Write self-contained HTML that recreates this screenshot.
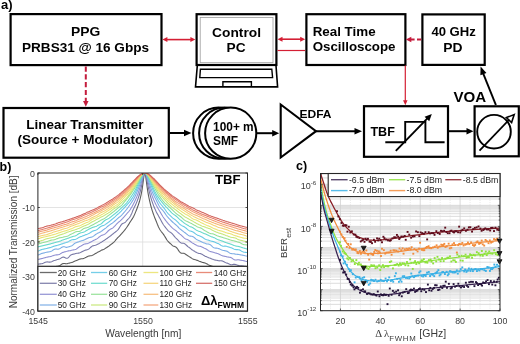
<!DOCTYPE html>
<html><head><meta charset="utf-8"><title>Figure</title>
<style>
html,body{margin:0;padding:0;background:#fff;}
svg{display:block;}
</style></head>
<body>
<svg width="520" height="344" viewBox="0 0 520 344" font-family="'Liberation Sans', Arial, Helvetica, sans-serif">
<defs>
<clipPath id="clipb"><rect x="37.9" y="173" width="209.6" height="138"/></clipPath>
<clipPath id="clipc"><rect x="320.5" y="173.5" width="179.5" height="137.2"/></clipPath>
</defs>
<rect width="520" height="344" fill="#fff"/>
<text x="1.1" y="9.3" font-size="13" font-weight="bold" text-anchor="start" fill="#000">a)</text>
<rect x="10.6" y="14.1" width="150.9" height="51" stroke="#000" stroke-width="2.2" fill="#fff"/>
<rect x="196.6" y="14.2" width="79.8" height="50.8" stroke="#000" stroke-width="2.2" fill="#fff"/>
<rect x="200.2" y="17.5" width="72.8" height="45.2" stroke="#9c9c9c" stroke-width="0.8" fill="#fff"/>
<path d="M197.3,65.6 L195.5,86.9 L277.6,86.9 L276.0,65.6" fill="none" stroke="#000" stroke-width="1.6"/>
<path d="M200.4,69.3 L271.8,69.3 L272.6,77.6 L199.8,77.6 Z" fill="none" stroke="#000" stroke-width="1.4"/>
<path d="M222.9,86.4 L222.9,81.8 L251.4,81.8 L251.4,86.4" fill="none" stroke="#000" stroke-width="1.4"/>
<rect x="306.4" y="14.2" width="99" height="50.8" stroke="#000" stroke-width="2.2" fill="#fff"/>
<rect x="422.4" y="14.4" width="62.3" height="50.5" stroke="#000" stroke-width="2.2" fill="#fff"/>
<line x1="166" y1="39.6" x2="192" y2="39.6" stroke="#d41f34" stroke-width="1.6"/>
<polygon points="162.4,39.6 167.4,37.1 167.4,42.1" fill="#d41f34" stroke="none" stroke-width="0"/>
<polygon points="195.4,39.6 190.4,42.1 190.4,37.1" fill="#d41f34" stroke="none" stroke-width="0"/>
<line x1="281" y1="39.2" x2="301" y2="39.2" stroke="#d41f34" stroke-width="1.6"/>
<polygon points="277.5,39.2 282.5,36.7 282.5,41.7" fill="#d41f34" stroke="none" stroke-width="0"/>
<polygon points="305.2,39.2 300.2,41.7 300.2,36.7" fill="#d41f34" stroke="none" stroke-width="0"/>
<line x1="277.5" y1="50.5" x2="305.2" y2="50.5" stroke="#d41f34" stroke-width="1.2"/>
<line x1="421.2" y1="39.5" x2="410" y2="39.5" stroke="#c41c3c" stroke-width="1.8" stroke-dasharray="4.2,2.4"/>
<polygon points="405.8,39.5 411.3,36.75 411.3,42.25" fill="#c41c3c" stroke="none" stroke-width="0"/>
<line x1="85.8" y1="66.5" x2="85.8" y2="102" stroke="#c41c3c" stroke-width="2" stroke-dasharray="5.2,2.6"/>
<polygon points="85.8,106.8 83.05,101 88.55,101" fill="#c41c3c" stroke="none" stroke-width="0"/>
<line x1="405.3" y1="65.5" x2="405.3" y2="101" stroke="#d41f34" stroke-width="1.2"/>
<polygon points="405.3,105.2 403.05,100.2 407.55,100.2" fill="#d41f34" stroke="none" stroke-width="0"/>
<rect x="3.5" y="108" width="165.3" height="49.7" stroke="#000" stroke-width="2.2" fill="#fff"/>
<line x1="169.8" y1="133" x2="185" y2="133" stroke="#000" stroke-width="2"/>
<polygon points="191.5,133 184,136.25 184,129.75" fill="#000" stroke="none" stroke-width="0"/>
<circle cx="218.7" cy="133.2" r="25.6" fill="#fff" stroke="#000" stroke-width="2"/>
<circle cx="224.7" cy="133.2" r="25.6" fill="#fff" stroke="#000" stroke-width="2"/>
<circle cx="230.7" cy="133.2" r="25.6" fill="#fff" stroke="#000" stroke-width="2"/>
<line x1="256.5" y1="133.2" x2="273" y2="133.2" stroke="#000" stroke-width="2"/>
<polygon points="279.2,133.2 272.2,136.45 272.2,129.95" fill="#000" stroke="none" stroke-width="0"/>
<path d="M280.7,104.5 L316,131.2 L280.7,157.5 Z" fill="#fff" stroke="#000" stroke-width="2.1" stroke-linejoin="miter"/>
<line x1="316" y1="131.2" x2="355" y2="131.2" stroke="#000" stroke-width="2"/>
<polygon points="362,131.2 354.5,134.45 354.5,127.95" fill="#000" stroke="none" stroke-width="0"/>
<rect x="364" y="106.2" width="84" height="50.6" stroke="#000" stroke-width="2.2" fill="#fff"/>
<path d="M385.3,142.2 L405.2,142.2 L405.2,121.9 L425.4,121.9 L425.4,142.2 L444.6,142.2" fill="none" stroke="#000" stroke-width="1.9"/>
<line x1="395.8" y1="150.9" x2="428.6" y2="117.2" stroke="#000" stroke-width="1.9"/>
<polygon points="431.8,113.9 429.26,121.19 424.59,116.66" fill="#000" stroke="none" stroke-width="0"/>
<line x1="448" y1="131.2" x2="467" y2="131.2" stroke="#000" stroke-width="2"/>
<polygon points="473.5,131.2 466.5,134.45 466.5,127.95" fill="#000" stroke="none" stroke-width="0"/>
<rect x="474.6" y="106.3" width="44.2" height="50" stroke="#000" stroke-width="2.2" fill="#fff"/>
<circle cx="494" cy="131.7" r="16.8" fill="none" stroke="#000" stroke-width="1.9"/>
<line x1="479.5" y1="150.6" x2="509.5" y2="119.3" stroke="#000" stroke-width="1.8"/>
<polygon points="514.2,114.6 511.6,122.6 506.4,117.6" fill="#fff" stroke="#000" stroke-width="1.6"/>
<text transform="translate(71.01,35.95) scale(1.0920,1)" font-size="12.7" font-weight="bold">PPG</text>
<text transform="translate(22.03,52.05) scale(1.0692,1)" font-size="12.7" font-weight="bold">PRBS31 @ 16 Gbps</text>
<text transform="translate(212.12,36.75) scale(1.0837,1)" font-size="12.7" font-weight="bold">Control</text>
<text transform="translate(226.62,52.25) scale(1.0813,1)" font-size="12.7" font-weight="bold">PC</text>
<text transform="translate(312.63,35.85) scale(1.0719,1)" font-size="12.5" font-weight="bold">Real Time</text>
<text transform="translate(312.63,51.45) scale(1.0671,1)" font-size="12.5" font-weight="bold">Oscilloscope</text>
<text transform="translate(431.4,36.15) scale(1.0476,1)" font-size="12.5" font-weight="bold">40 GHz</text>
<text transform="translate(443.3,51.95) scale(1.1000,1)" font-size="12.6" font-weight="bold">PD</text>
<text transform="translate(26.33,129.15) scale(1.0741,1)" font-size="12.5" font-weight="bold">Linear Transmitter</text>
<text transform="translate(17.52,143.95) scale(1.0823,1)" font-size="12.5" font-weight="bold">(Source + Modulator)</text>
<text transform="translate(213.1,131.3) scale(0.9974,1)" font-size="11.9" font-weight="bold">100+ m</text>
<text transform="translate(212.89,145.3) scale(1.0083,1)" font-size="11.9" font-weight="bold">SMF</text>
<text transform="translate(299.47,117.85) scale(1.0300,1)" font-size="11.7" font-weight="bold">EDFA</text>
<text transform="translate(370.4,135.75) scale(0.9760,1)" font-size="12.9" font-weight="bold">TBF</text>
<text transform="translate(453.5,102.25) scale(1.0633,1)" font-size="14.2" font-weight="bold">VOA</text>
<line x1="495.9" y1="105" x2="483.2" y2="73.5" stroke="#000" stroke-width="2"/>
<polygon points="480.6,66.6 486.46,72.94 480.37,75.23" fill="#000" stroke="none" stroke-width="0"/>
<text x="-0.5" y="170.5" font-size="12.5" font-weight="bold" text-anchor="start" fill="#000">b)</text>
<line x1="37.9" y1="207.5" x2="247.5" y2="207.5" stroke="#dcdcdc" stroke-width="0.8"/>
<line x1="37.9" y1="242" x2="247.5" y2="242" stroke="#dcdcdc" stroke-width="0.8"/>
<line x1="37.9" y1="276.5" x2="247.5" y2="276.5" stroke="#dcdcdc" stroke-width="0.8"/>
<line x1="142.7" y1="173" x2="142.7" y2="311" stroke="#dcdcdc" stroke-width="0.8"/>
<g fill="none" stroke-width="1.1" stroke-linejoin="round" clip-path="url(#clipb)">
<path d="M37.9,269.66 L38.42,269.55 L38.95,269.39 L39.47,269.19 L40,268.97 L40.52,268.75 L41.04,268.55 L41.57,268.38 L42.09,268.27 L42.62,268.23 L43.14,268.29 L43.66,268.42 L44.19,268.59 L44.71,268.76 L45.24,268.89 L45.76,268.94 L46.28,268.9 L46.81,268.76 L47.33,268.53 L47.86,268.24 L48.38,267.92 L48.9,267.59 L49.43,267.3 L49.95,267.07 L50.48,266.92 L51,266.85 L51.52,266.83 L52.05,266.85 L52.57,266.89 L53.1,266.93 L53.62,266.95 L54.14,266.93 L54.67,266.85 L55.19,266.74 L55.72,266.63 L56.24,266.51 L56.76,266.4 L57.29,266.29 L57.81,266.17 L58.34,266.05 L58.86,265.93 L59.38,265.76 L59.91,265.5 L60.43,265.16 L60.96,264.78 L61.48,264.39 L62,264.05 L62.53,263.78 L63.05,263.6 L63.58,263.51 L64.1,263.49 L64.62,263.54 L65.15,263.61 L65.67,263.68 L66.2,263.72 L66.72,263.7 L67.24,263.6 L67.77,263.46 L68.29,263.33 L68.82,263.21 L69.34,263.09 L69.86,262.96 L70.39,262.83 L70.91,262.7 L71.44,262.55 L71.96,262.37 L72.48,262.17 L73.01,261.93 L73.53,261.68 L74.06,261.43 L74.58,261.19 L75.1,260.97 L75.63,260.78 L76.15,260.61 L76.68,260.41 L77.2,260.2 L77.72,259.98 L78.25,259.75 L78.77,259.53 L79.3,259.33 L79.82,259.13 L80.34,258.98 L80.87,258.87 L81.39,258.8 L81.92,258.74 L82.44,258.69 L82.96,258.61 L83.49,258.49 L84.01,258.32 L84.54,258.1 L85.06,257.85 L85.58,257.58 L86.11,257.3 L86.63,257.01 L87.16,256.73 L87.68,256.47 L88.2,256.24 L88.73,256.05 L89.25,255.93 L89.78,255.86 L90.3,255.81 L90.82,255.76 L91.35,255.68 L91.87,255.55 L92.4,255.34 L92.92,255.08 L93.44,254.79 L93.97,254.48 L94.49,254.15 L95.02,253.81 L95.54,253.49 L96.06,253.18 L96.59,252.9 L97.11,252.62 L97.64,252.35 L98.16,252.08 L98.68,251.8 L99.21,251.52 L99.73,251.23 L100.26,250.94 L100.78,250.64 L101.3,250.35 L101.83,250.1 L102.35,249.88 L102.88,249.67 L103.4,249.45 L103.92,249.21 L104.45,248.94 L104.97,248.62 L105.5,248.28 L106.02,247.94 L106.54,247.61 L107.07,247.27 L107.59,246.92 L108.12,246.57 L108.64,246.21 L109.16,245.83 L109.69,245.44 L110.21,245.05 L110.74,244.66 L111.26,244.27 L111.78,243.87 L112.31,243.46 L112.83,243.04 L113.36,242.61 L113.88,242.13 L114.4,241.59 L114.93,240.99 L115.45,240.35 L115.98,239.71 L116.5,239.09 L117.02,238.5 L117.55,237.97 L118.07,237.45 L118.6,236.93 L119.12,236.39 L119.64,235.84 L120.17,235.28 L120.69,234.71 L121.22,234.13 L121.74,233.54 L122.26,232.95 L122.79,232.35 L123.31,231.74 L123.84,231.12 L124.36,230.49 L124.88,229.84 L125.41,229.17 L125.93,228.48 L126.46,227.76 L126.98,227 L127.5,226.22 L128.03,225.41 L128.55,224.59 L129.08,223.75 L129.6,222.9 L130.12,222.05 L130.65,221.22 L131.17,220.43 L131.7,219.66 L132.22,218.89 L132.74,218.05 L133.27,217.13 L133.79,216.13 L134.32,215.04 L134.84,213.88 L135.36,212.65 L135.89,211.38 L136.41,210.06 L136.94,208.7 L137.46,207.31 L137.98,205.87 L138.51,204.36 L139.03,202.75 L139.56,201.01 L140.08,199.1 L140.6,196.99 L141.13,194.61 L141.65,191.91 L141.66,191.89 L141.76,191.3 L141.87,190.7 L141.97,190.08 L142.08,189.45 L142.18,188.82 L142.18,188.8 L142.28,188.13 L142.39,187.44 L142.49,186.74 L142.6,186.02 L142.7,185.31 L142.7,185.28 L142.81,184.53 L142.91,183.76 L143.02,182.98 L143.12,182.19 L143.22,181.43 L143.23,181.4 L143.33,180.6 L143.44,179.8 L143.54,179.01 L143.65,178.23 L143.75,177.5 L143.75,177.47 L143.86,176.74 L143.96,176.04 L144.07,175.4 L144.17,174.8 L144.27,174.3 L144.28,174.28 L144.38,173.83 L144.49,173.48 L144.59,173.21 L144.7,173.05 L144.8,173 L144.8,173 L144.9,173.05 L145.01,173.21 L145.11,173.48 L145.22,173.84 L145.32,174.27 L145.32,174.29 L145.43,174.81 L145.53,175.41 L145.64,176.06 L145.74,176.76 L145.84,177.47 L145.85,177.5 L145.95,178.27 L146.06,179.05 L146.16,179.86 L146.27,180.66 L146.37,181.44 L146.37,181.48 L146.48,182.29 L146.58,183.09 L146.69,183.89 L146.79,184.67 L146.89,185.42 L146.9,185.44 L147,186.21 L147.11,186.95 L147.21,187.68 L147.32,188.4 L147.42,189.07 L147.42,189.1 L147.52,189.79 L147.63,190.46 L147.73,191.12 L147.84,191.76 L147.94,192.36 L147.94,192.39 L148.46,195.32 L148.99,197.99 L149.51,200.43 L150.04,202.69 L150.56,204.79 L151.08,206.74 L151.61,208.57 L152.13,210.29 L152.66,211.92 L153.18,213.46 L153.7,214.93 L154.23,216.33 L154.75,217.68 L155.28,218.98 L155.8,220.27 L156.32,221.57 L156.85,222.9 L157.37,224.25 L157.9,225.51 L158.42,226.71 L158.94,227.82 L159.47,228.82 L159.99,229.72 L160.52,230.53 L161.04,231.26 L161.56,231.93 L162.09,232.58 L162.61,233.24 L163.14,233.92 L163.66,234.65 L164.18,235.43 L164.71,236.27 L165.23,237.14 L165.76,238.03 L166.28,238.9 L166.8,239.73 L167.33,240.48 L167.85,241.14 L168.38,241.73 L168.9,242.27 L169.42,242.77 L169.95,243.25 L170.47,243.71 L171,244.17 L171.52,244.65 L172.04,245.15 L172.57,245.6 L173.09,245.93 L173.62,246.17 L174.14,246.34 L174.66,246.51 L175.19,246.72 L175.71,247 L176.24,247.38 L176.76,247.89 L177.28,248.54 L177.81,249.29 L178.33,250.09 L178.86,250.88 L179.38,251.61 L179.9,252.22 L180.43,252.68 L180.95,252.98 L181.48,253.15 L182,253.2 L182.52,253.2 L183.05,253.19 L183.57,253.23 L184.1,253.37 L184.62,253.63 L185.14,253.96 L185.67,254.31 L186.19,254.68 L186.72,255.04 L187.24,255.4 L187.76,255.75 L188.29,256.07 L188.81,256.38 L189.34,256.68 L189.86,257 L190.38,257.34 L190.91,257.69 L191.43,258.03 L191.96,258.36 L192.48,258.66 L193,258.93 L193.53,259.17 L194.05,259.36 L194.58,259.53 L195.1,259.68 L195.62,259.82 L196.15,259.98 L196.67,260.16 L197.2,260.37 L197.72,260.59 L198.24,260.8 L198.77,261.01 L199.29,261.22 L199.82,261.42 L200.34,261.62 L200.86,261.82 L201.39,262.02 L201.91,262.21 L202.44,262.37 L202.96,262.51 L203.48,262.64 L204.01,262.77 L204.53,262.9 L205.06,263.05 L205.58,263.22 L206.1,263.43 L206.63,263.69 L207.15,263.99 L207.68,264.31 L208.2,264.64 L208.72,264.93 L209.25,265.18 L209.77,265.37 L210.3,265.54 L210.82,265.72 L211.34,265.92 L211.87,266.11 L212.39,266.31 L212.92,266.49 L213.44,266.67 L213.96,266.82 L214.49,266.97 L215.01,267.11 L215.54,267.25 L216.06,267.39 L216.58,267.53 L217.11,267.67 L217.63,267.8 L218.16,267.93 L218.68,268.07 L219.2,268.23 L219.73,268.39 L220.25,268.56 L220.78,268.73 L221.3,268.89 L221.82,269.04 L222.35,269.17 L222.87,269.26 L223.4,269.32 L223.92,269.34 L224.44,269.34 L224.97,269.34 L225.49,269.36 L226.02,269.4 L226.54,269.49 L227.06,269.61 L227.59,269.77 L228.11,269.95 L228.64,270.14 L229.16,270.33 L229.68,270.5 L230.21,270.65 L230.73,270.77 L231.26,270.82 L231.78,270.8 L232.3,270.7 L232.83,270.58 L233.35,270.45 L233.88,270.36 L234.4,270.32 L234.92,270.37 L235.45,270.53 L235.97,270.81 L236.5,271.19 L237.02,271.63 L237.54,272.06 L238.07,272.44 L238.59,272.72 L239.12,272.88 L239.64,272.94 L240.16,272.97 L240.69,272.97 L241.21,272.95 L241.74,272.94 L242.26,272.94 L242.78,272.96 L243.31,273.02 L243.83,273.09 L244.36,273.15 L244.88,273.21 L245.4,273.27 L245.93,273.32 L246.45,273.38 L246.98,273.44 L247.5,273.5" stroke="#5c5c5c"/>
<path d="M37.9,264.17 L38.42,264.08 L38.95,264.01 L39.47,263.96 L40,263.91 L40.52,263.86 L41.04,263.8 L41.57,263.72 L42.09,263.63 L42.62,263.49 L43.14,263.3 L43.66,263.07 L44.19,262.82 L44.71,262.57 L45.24,262.34 L45.76,262.14 L46.28,262 L46.81,261.92 L47.33,261.92 L47.86,261.96 L48.38,262.03 L48.9,262.11 L49.43,262.15 L49.95,262.14 L50.48,262.05 L51,261.91 L51.52,261.72 L52.05,261.49 L52.57,261.25 L53.1,261.01 L53.62,260.79 L54.14,260.59 L54.67,260.44 L55.19,260.3 L55.72,260.14 L56.24,259.97 L56.76,259.79 L57.29,259.6 L57.81,259.43 L58.34,259.26 L58.86,259.11 L59.38,258.94 L59.91,258.71 L60.43,258.43 L60.96,258.12 L61.48,257.82 L62,257.53 L62.53,257.29 L63.05,257.11 L63.58,257.05 L64.1,257.16 L64.62,257.39 L65.15,257.69 L65.67,257.99 L66.2,258.22 L66.72,258.32 L67.24,258.25 L67.77,258.01 L68.29,257.6 L68.82,257.08 L69.34,256.49 L69.86,255.9 L70.39,255.37 L70.91,254.96 L71.44,254.7 L71.96,254.54 L72.48,254.4 L73.01,254.27 L73.53,254.15 L74.06,254.03 L74.58,253.9 L75.1,253.75 L75.63,253.58 L76.15,253.42 L76.68,253.32 L77.2,253.26 L77.72,253.22 L78.25,253.17 L78.77,253.11 L79.3,252.99 L79.82,252.82 L80.34,252.6 L80.87,252.35 L81.39,252.07 L81.92,251.77 L82.44,251.47 L82.96,251.19 L83.49,250.92 L84.01,250.69 L84.54,250.48 L85.06,250.31 L85.58,250.15 L86.11,250 L86.63,249.86 L87.16,249.69 L87.68,249.51 L88.2,249.28 L88.73,249 L89.25,248.62 L89.78,248.19 L90.3,247.71 L90.82,247.23 L91.35,246.78 L91.87,246.4 L92.4,246.09 L92.92,245.86 L93.44,245.68 L93.97,245.54 L94.49,245.43 L95.02,245.3 L95.54,245.16 L96.06,244.96 L96.59,244.71 L97.11,244.43 L97.64,244.16 L98.16,243.91 L98.68,243.65 L99.21,243.4 L99.73,243.13 L100.26,242.84 L100.78,242.54 L101.3,242.22 L101.83,241.9 L102.35,241.57 L102.88,241.24 L103.4,240.91 L103.92,240.57 L104.45,240.23 L104.97,239.88 L105.5,239.53 L106.02,239.17 L106.54,238.8 L107.07,238.43 L107.59,238.06 L108.12,237.67 L108.64,237.29 L109.16,236.9 L109.69,236.51 L110.21,236.1 L110.74,235.7 L111.26,235.28 L111.78,234.86 L112.31,234.43 L112.83,234 L113.36,233.56 L113.88,233.13 L114.4,232.73 L114.93,232.33 L115.45,231.94 L115.98,231.54 L116.5,231.13 L117.02,230.68 L117.55,230.2 L118.07,229.63 L118.6,228.94 L119.12,228.15 L119.64,227.3 L120.17,226.44 L120.69,225.62 L121.22,224.88 L121.74,224.25 L122.26,223.75 L122.79,223.4 L123.31,223.16 L123.84,222.97 L124.36,222.77 L124.88,222.49 L125.41,222.08 L125.93,221.5 L126.46,220.85 L126.98,220.26 L127.5,219.7 L128.03,219.16 L128.55,218.6 L129.08,217.99 L129.6,217.32 L130.12,216.55 L130.65,215.66 L131.17,214.61 L131.7,213.43 L132.22,212.17 L132.74,210.82 L133.27,209.56 L133.79,208.4 L134.32,207.33 L134.84,206.28 L135.36,205.18 L135.89,204.04 L136.41,202.85 L136.94,201.59 L137.46,200.26 L137.98,198.85 L138.51,197.35 L139.03,195.72 L139.56,193.97 L140.08,192.07 L140.6,190.01 L141.13,187.77 L141.65,185.35 L141.66,185.33 L141.76,184.82 L141.87,184.31 L141.97,183.79 L142.08,183.27 L142.18,182.77 L142.18,182.75 L142.28,182.22 L142.39,181.69 L142.49,181.15 L142.6,180.62 L142.7,180.1 L142.7,180.08 L142.81,179.55 L142.91,179.02 L143.02,178.5 L143.12,177.98 L143.22,177.5 L143.23,177.48 L143.33,176.99 L143.44,176.51 L143.54,176.05 L143.65,175.61 L143.75,175.21 L143.75,175.19 L143.86,174.81 L143.96,174.45 L144.07,174.12 L144.17,173.84 L144.27,173.59 L144.28,173.59 L144.38,173.38 L144.49,173.21 L144.59,173.1 L144.7,173.02 L144.8,173 L144.8,173 L144.9,173.02 L145.01,173.1 L145.11,173.22 L145.22,173.38 L145.32,173.58 L145.32,173.59 L145.43,173.84 L145.53,174.13 L145.64,174.46 L145.74,174.82 L145.84,175.19 L145.85,175.21 L145.95,175.63 L146.06,176.07 L146.16,176.53 L146.27,177.02 L146.37,177.5 L146.37,177.52 L146.48,178.03 L146.58,178.55 L146.69,179.08 L146.79,179.62 L146.89,180.14 L146.9,180.16 L147,180.7 L147.11,181.25 L147.21,181.79 L147.32,182.34 L147.42,182.86 L147.42,182.88 L147.52,183.42 L147.63,183.95 L147.73,184.48 L147.84,185.01 L147.94,185.51 L147.94,185.53 L148.46,188.03 L148.99,190.39 L149.51,192.59 L150.04,194.64 L150.56,196.56 L151.08,198.36 L151.61,200.05 L152.13,201.64 L152.66,203.15 L153.18,204.57 L153.7,205.92 L154.23,207.21 L154.75,208.45 L155.28,209.65 L155.8,210.81 L156.32,211.89 L156.85,212.91 L157.37,213.88 L157.9,214.83 L158.42,215.76 L158.94,216.69 L159.47,217.61 L159.99,218.54 L160.52,219.51 L161.04,220.49 L161.56,221.48 L162.09,222.44 L162.61,223.36 L163.14,224.22 L163.66,225 L164.18,225.73 L164.71,226.44 L165.23,227.14 L165.76,227.81 L166.28,228.47 L166.8,229.11 L167.33,229.75 L167.85,230.37 L168.38,230.93 L168.9,231.39 L169.42,231.76 L169.95,232.09 L170.47,232.4 L171,232.74 L171.52,233.14 L172.04,233.63 L172.57,234.18 L173.09,234.77 L173.62,235.4 L174.14,236.05 L174.66,236.68 L175.19,237.28 L175.71,237.84 L176.24,238.33 L176.76,238.81 L177.28,239.34 L177.81,239.92 L178.33,240.51 L178.86,241.09 L179.38,241.65 L179.9,242.15 L180.43,242.58 L180.95,242.9 L181.48,243.09 L182,243.17 L182.52,243.19 L183.05,243.21 L183.57,243.27 L184.1,243.43 L184.62,243.71 L185.14,244.09 L185.67,244.53 L186.19,245.01 L186.72,245.52 L187.24,246.01 L187.76,246.48 L188.29,246.89 L188.81,247.24 L189.34,247.58 L189.86,247.97 L190.38,248.4 L190.91,248.85 L191.43,249.29 L191.96,249.71 L192.48,250.08 L193,250.39 L193.53,250.68 L194.05,251 L194.58,251.32 L195.1,251.66 L195.62,251.98 L196.15,252.3 L196.67,252.6 L197.2,252.86 L197.72,253.09 L198.24,253.25 L198.77,253.36 L199.29,253.44 L199.82,253.53 L200.34,253.63 L200.86,253.78 L201.39,253.98 L201.91,254.23 L202.44,254.53 L202.96,254.85 L203.48,255.2 L204.01,255.54 L204.53,255.86 L205.06,256.14 L205.58,256.38 L206.1,256.59 L206.63,256.81 L207.15,257.04 L207.68,257.26 L208.2,257.49 L208.72,257.71 L209.25,257.91 L209.77,258.11 L210.3,258.31 L210.82,258.51 L211.34,258.72 L211.87,258.93 L212.39,259.14 L212.92,259.34 L213.44,259.54 L213.96,259.72 L214.49,259.88 L215.01,260 L215.54,260.1 L216.06,260.19 L216.58,260.27 L217.11,260.36 L217.63,260.48 L218.16,260.63 L218.68,260.75 L219.2,260.81 L219.73,260.83 L220.25,260.81 L220.78,260.79 L221.3,260.79 L221.82,260.85 L222.35,260.96 L222.87,261.14 L223.4,261.39 L223.92,261.67 L224.44,261.98 L224.97,262.29 L225.49,262.57 L226.02,262.8 L226.54,262.98 L227.06,263.13 L227.59,263.33 L228.11,263.56 L228.64,263.8 L229.16,264.04 L229.68,264.27 L230.21,264.46 L230.73,264.61 L231.26,264.69 L231.78,264.68 L232.3,264.62 L232.83,264.51 L233.35,264.4 L233.88,264.33 L234.4,264.32 L234.92,264.4 L235.45,264.53 L235.97,264.68 L236.5,264.85 L237.02,265.03 L237.54,265.21 L238.07,265.37 L238.59,265.52 L239.12,265.64 L239.64,265.74 L240.16,265.8 L240.69,265.83 L241.21,265.86 L241.74,265.88 L242.26,265.91 L242.78,265.96 L243.31,266.05 L243.83,266.14 L244.36,266.22 L244.88,266.29 L245.4,266.35 L245.93,266.41 L246.45,266.47 L246.98,266.55 L247.5,266.63" stroke="#7979a6"/>
<path d="M37.9,259.43 L38.42,259.32 L38.95,259.2 L39.47,259.09 L40,258.98 L40.52,258.86 L41.04,258.75 L41.57,258.63 L42.09,258.51 L42.62,258.38 L43.14,258.24 L43.66,258.08 L44.19,257.92 L44.71,257.76 L45.24,257.6 L45.76,257.45 L46.28,257.32 L46.81,257.2 L47.33,257.09 L47.86,257 L48.38,256.91 L48.9,256.82 L49.43,256.73 L49.95,256.62 L50.48,256.49 L51,256.35 L51.52,256.19 L52.05,256.02 L52.57,255.84 L53.1,255.67 L53.62,255.49 L54.14,255.33 L54.67,255.18 L55.19,255.06 L55.72,254.97 L56.24,254.92 L56.76,254.89 L57.29,254.85 L57.81,254.79 L58.34,254.71 L58.86,254.58 L59.38,254.39 L59.91,254.13 L60.43,253.81 L60.96,253.47 L61.48,253.13 L62,252.81 L62.53,252.54 L63.05,252.35 L63.58,252.19 L64.1,252.04 L64.62,251.9 L65.15,251.76 L65.67,251.63 L66.2,251.48 L66.72,251.33 L67.24,251.16 L67.77,251.01 L68.29,250.9 L68.82,250.83 L69.34,250.76 L69.86,250.7 L70.39,250.62 L70.91,250.5 L71.44,250.34 L71.96,250.18 L72.48,250.06 L73.01,249.96 L73.53,249.88 L74.06,249.8 L74.58,249.7 L75.1,249.57 L75.63,249.4 L76.15,249.15 L76.68,248.83 L77.2,248.44 L77.72,248.01 L78.25,247.58 L78.77,247.19 L79.3,246.85 L79.82,246.6 L80.34,246.36 L80.87,246.09 L81.39,245.78 L81.92,245.45 L82.44,245.12 L82.96,244.81 L83.49,244.52 L84.01,244.27 L84.54,244.08 L85.06,243.95 L85.58,243.87 L86.11,243.81 L86.63,243.75 L87.16,243.66 L87.68,243.52 L88.2,243.3 L88.73,243.05 L89.25,242.79 L89.78,242.51 L90.3,242.23 L90.82,241.95 L91.35,241.67 L91.87,241.39 L92.4,241.12 L92.92,240.85 L93.44,240.59 L93.97,240.32 L94.49,240.05 L95.02,239.78 L95.54,239.5 L96.06,239.22 L96.59,238.93 L97.11,238.61 L97.64,238.25 L98.16,237.85 L98.68,237.43 L99.21,237 L99.73,236.59 L100.26,236.21 L100.78,235.87 L101.3,235.58 L101.83,235.34 L102.35,235.14 L102.88,234.96 L103.4,234.78 L103.92,234.57 L104.45,234.31 L104.97,233.99 L105.5,233.6 L106.02,233.14 L106.54,232.62 L107.07,232.07 L107.59,231.51 L108.12,230.98 L108.64,230.49 L109.16,230.07 L109.69,229.7 L110.21,229.38 L110.74,229.08 L111.26,228.8 L111.78,228.51 L112.31,228.2 L112.83,227.84 L113.36,227.44 L113.88,226.98 L114.4,226.46 L114.93,225.91 L115.45,225.34 L115.98,224.75 L116.5,224.18 L117.02,223.64 L117.55,223.13 L118.07,222.65 L118.6,222.2 L119.12,221.76 L119.64,221.33 L120.17,220.89 L120.69,220.43 L121.22,219.94 L121.74,219.4 L122.26,218.84 L122.79,218.29 L123.31,217.72 L123.84,217.15 L124.36,216.58 L124.88,215.98 L125.41,215.37 L125.93,214.73 L126.46,214.1 L126.98,213.5 L127.5,212.92 L128.03,212.34 L128.55,211.75 L129.08,211.12 L129.6,210.44 L130.12,209.7 L130.65,208.9 L131.17,208.05 L131.7,207.15 L132.22,206.21 L132.74,205.21 L133.27,204.21 L133.79,203.2 L134.32,202.18 L134.84,201.13 L135.36,200.02 L135.89,198.87 L136.41,197.66 L136.94,196.4 L137.46,195.08 L137.98,193.69 L138.51,192.22 L139.03,190.66 L139.56,189 L140.08,187.24 L140.6,185.38 L141.13,183.44 L141.65,181.44 L141.66,181.43 L141.76,181.02 L141.87,180.62 L141.97,180.22 L142.08,179.82 L142.18,179.44 L142.18,179.42 L142.28,179.02 L142.39,178.63 L142.49,178.24 L142.6,177.86 L142.7,177.49 L142.7,177.48 L142.81,177.11 L142.91,176.74 L143.02,176.39 L143.12,176.05 L143.22,175.73 L143.23,175.72 L143.33,175.4 L143.44,175.09 L143.54,174.81 L143.65,174.53 L143.75,174.29 L143.75,174.28 L143.86,174.05 L143.96,173.84 L144.07,173.64 L144.17,173.48 L144.27,173.34 L144.28,173.33 L144.38,173.21 L144.49,173.12 L144.59,173.05 L144.7,173.01 L144.8,173 L144.8,173 L144.9,173.01 L145.01,173.05 L145.11,173.12 L145.22,173.22 L145.32,173.33 L145.32,173.33 L145.43,173.48 L145.53,173.65 L145.64,173.84 L145.74,174.05 L145.84,174.28 L145.85,174.29 L145.95,174.54 L146.06,174.82 L146.16,175.11 L146.27,175.41 L146.37,175.72 L146.37,175.74 L146.48,176.07 L146.58,176.42 L146.69,176.77 L146.79,177.14 L146.89,177.5 L146.9,177.52 L147,177.9 L147.11,178.29 L147.21,178.68 L147.32,179.08 L147.42,179.47 L147.42,179.48 L147.52,179.89 L147.63,180.3 L147.73,180.71 L147.84,181.12 L147.94,181.51 L147.94,181.53 L148.46,183.56 L148.99,185.56 L149.51,187.49 L150.04,189.33 L150.56,191.09 L151.08,192.76 L151.61,194.33 L152.13,195.82 L152.66,197.22 L153.18,198.53 L153.7,199.78 L154.23,200.97 L154.75,202.12 L155.28,203.24 L155.8,204.33 L156.32,205.36 L156.85,206.33 L157.37,207.25 L157.9,208.17 L158.42,209.06 L158.94,209.95 L159.47,210.83 L159.99,211.72 L160.52,212.62 L161.04,213.54 L161.56,214.45 L162.09,215.34 L162.61,216.19 L163.14,217 L163.66,217.75 L164.18,218.47 L164.71,219.18 L165.23,219.88 L165.76,220.57 L166.28,221.25 L166.8,221.91 L167.33,222.56 L167.85,223.17 L168.38,223.77 L168.9,224.36 L169.42,224.93 L169.95,225.49 L170.47,226.05 L171,226.59 L171.52,227.12 L172.04,227.65 L172.57,228.14 L173.09,228.58 L173.62,228.98 L174.14,229.36 L174.66,229.72 L175.19,230.1 L175.71,230.5 L176.24,230.94 L176.76,231.39 L177.28,231.85 L177.81,232.31 L178.33,232.77 L178.86,233.22 L179.38,233.66 L179.9,234.09 L180.43,234.5 L180.95,234.93 L181.48,235.4 L182,235.91 L182.52,236.44 L183.05,236.96 L183.57,237.45 L184.1,237.9 L184.62,238.29 L185.14,238.62 L185.67,238.9 L186.19,239.15 L186.72,239.36 L187.24,239.58 L187.76,239.8 L188.29,240.06 L188.81,240.36 L189.34,240.7 L189.86,241.07 L190.38,241.45 L190.91,241.84 L191.43,242.23 L191.96,242.61 L192.48,242.95 L193,243.26 L193.53,243.56 L194.05,243.86 L194.58,244.17 L195.1,244.48 L195.62,244.78 L196.15,245.08 L196.67,245.37 L197.2,245.64 L197.72,245.87 L198.24,246.03 L198.77,246.12 L199.29,246.19 L199.82,246.25 L200.34,246.34 L200.86,246.48 L201.39,246.69 L201.91,246.94 L202.44,247.2 L202.96,247.47 L203.48,247.75 L204.01,248.03 L204.53,248.29 L205.06,248.54 L205.58,248.78 L206.1,249.03 L206.63,249.34 L207.15,249.69 L207.68,250.05 L208.2,250.42 L208.72,250.76 L209.25,251.05 L209.77,251.29 L210.3,251.48 L210.82,251.64 L211.34,251.78 L211.87,251.9 L212.39,252.03 L212.92,252.16 L213.44,252.31 L213.96,252.49 L214.49,252.67 L215.01,252.84 L215.54,252.99 L216.06,253.13 L216.58,253.28 L217.11,253.43 L217.63,253.58 L218.16,253.76 L218.68,253.96 L219.2,254.19 L219.73,254.46 L220.25,254.75 L220.78,255.03 L221.3,255.29 L221.82,255.52 L222.35,255.71 L222.87,255.87 L223.4,256 L223.92,256.12 L224.44,256.23 L224.97,256.34 L225.49,256.46 L226.02,256.59 L226.54,256.73 L227.06,256.87 L227.59,256.98 L228.11,257.07 L228.64,257.14 L229.16,257.22 L229.68,257.3 L230.21,257.4 L230.73,257.53 L231.26,257.72 L231.78,258 L232.3,258.34 L232.83,258.72 L233.35,259.1 L233.88,259.44 L234.4,259.71 L234.92,259.89 L235.45,259.99 L235.97,260.01 L236.5,259.96 L237.02,259.89 L237.54,259.82 L238.07,259.77 L238.59,259.78 L239.12,259.87 L239.64,259.99 L240.16,260.09 L240.69,260.18 L241.21,260.27 L241.74,260.35 L242.26,260.44 L242.78,260.53 L243.31,260.65 L243.83,260.77 L244.36,260.9 L244.88,261.03 L245.4,261.17 L245.93,261.31 L246.45,261.44 L246.98,261.57 L247.5,261.69" stroke="#8f8fd2"/>
<path d="M37.9,255 L38.42,254.86 L38.95,254.66 L39.47,254.44 L40,254.19 L40.52,253.95 L41.04,253.72 L41.57,253.53 L42.09,253.37 L42.62,253.25 L43.14,253.12 L43.66,252.99 L44.19,252.85 L44.71,252.72 L45.24,252.59 L45.76,252.45 L46.28,252.32 L46.81,252.2 L47.33,252.1 L47.86,252.02 L48.38,251.95 L48.9,251.88 L49.43,251.8 L49.95,251.7 L50.48,251.57 L51,251.39 L51.52,251.11 L52.05,250.77 L52.57,250.39 L53.1,250.02 L53.62,249.67 L54.14,249.39 L54.67,249.2 L55.19,249.09 L55.72,249.05 L56.24,249.07 L56.76,249.12 L57.29,249.16 L57.81,249.18 L58.34,249.13 L58.86,249.02 L59.38,248.82 L59.91,248.56 L60.43,248.25 L60.96,247.9 L61.48,247.56 L62,247.24 L62.53,246.97 L63.05,246.77 L63.58,246.67 L64.1,246.71 L64.62,246.84 L65.15,247.03 L65.67,247.22 L66.2,247.35 L66.72,247.38 L67.24,247.27 L67.77,247.1 L68.29,246.93 L68.82,246.76 L69.34,246.6 L69.86,246.43 L70.39,246.26 L70.91,246.09 L71.44,245.9 L71.96,245.66 L72.48,245.31 L73.01,244.88 L73.53,244.4 L74.06,243.93 L74.58,243.49 L75.1,243.13 L75.63,242.87 L76.15,242.68 L76.68,242.49 L77.2,242.31 L77.72,242.13 L78.25,241.95 L78.77,241.76 L79.3,241.57 L79.82,241.36 L80.34,241.16 L80.87,240.98 L81.39,240.83 L81.92,240.69 L82.44,240.55 L82.96,240.39 L83.49,240.21 L84.01,239.99 L84.54,239.76 L85.06,239.51 L85.58,239.25 L86.11,238.99 L86.63,238.73 L87.16,238.46 L87.68,238.21 L88.2,237.95 L88.73,237.73 L89.25,237.57 L89.78,237.45 L90.3,237.36 L90.82,237.26 L91.35,237.13 L91.87,236.95 L92.4,236.72 L92.92,236.42 L93.44,236.09 L93.97,235.72 L94.49,235.33 L95.02,234.94 L95.54,234.56 L96.06,234.21 L96.59,233.9 L97.11,233.61 L97.64,233.34 L98.16,233.07 L98.68,232.8 L99.21,232.53 L99.73,232.25 L100.26,231.95 L100.78,231.65 L101.3,231.31 L101.83,230.95 L102.35,230.56 L102.88,230.16 L103.4,229.76 L103.92,229.36 L104.45,228.98 L104.97,228.62 L105.5,228.25 L106.02,227.84 L106.54,227.4 L107.07,226.94 L107.59,226.48 L108.12,226.03 L108.64,225.6 L109.16,225.2 L109.69,224.83 L110.21,224.48 L110.74,224.14 L111.26,223.81 L111.78,223.48 L112.31,223.13 L112.83,222.75 L113.36,222.35 L113.88,221.91 L114.4,221.46 L114.93,221 L115.45,220.53 L115.98,220.04 L116.5,219.56 L117.02,219.08 L117.55,218.6 L118.07,218.14 L118.6,217.71 L119.12,217.29 L119.64,216.88 L120.17,216.46 L120.69,216.02 L121.22,215.55 L121.74,215.03 L122.26,214.48 L122.79,213.91 L123.31,213.33 L123.84,212.73 L124.36,212.12 L124.88,211.5 L125.41,210.88 L125.93,210.26 L126.46,209.62 L126.98,208.94 L127.5,208.24 L128.03,207.52 L128.55,206.78 L129.08,206.03 L129.6,205.28 L130.12,204.53 L130.65,203.77 L131.17,203 L131.7,202.22 L132.22,201.42 L132.74,200.58 L133.27,199.71 L133.79,198.79 L134.32,197.82 L134.84,196.79 L135.36,195.7 L135.89,194.56 L136.41,193.36 L136.94,192.13 L137.46,190.86 L137.98,189.56 L138.51,188.2 L139.03,186.8 L139.56,185.34 L140.08,183.83 L140.6,182.27 L141.13,180.67 L141.65,179.07 L141.66,179.06 L141.76,178.74 L141.87,178.43 L141.97,178.12 L142.08,177.81 L142.18,177.52 L142.18,177.51 L142.28,177.21 L142.39,176.91 L142.49,176.63 L142.6,176.34 L142.7,176.08 L142.7,176.07 L142.81,175.8 L142.91,175.54 L143.02,175.29 L143.12,175.05 L143.22,174.82 L143.23,174.82 L143.33,174.6 L143.44,174.39 L143.54,174.19 L143.65,174.01 L143.75,173.84 L143.75,173.84 L143.86,173.68 L143.96,173.54 L144.07,173.42 L144.17,173.31 L144.27,173.22 L144.28,173.21 L144.38,173.14 L144.49,173.08 L144.59,173.03 L144.7,173.01 L144.8,173 L144.8,173 L144.9,173.01 L145.01,173.03 L145.11,173.08 L145.22,173.14 L145.32,173.21 L145.32,173.21 L145.43,173.31 L145.53,173.42 L145.64,173.54 L145.74,173.68 L145.84,173.83 L145.85,173.84 L145.95,174 L146.06,174.19 L146.16,174.38 L146.27,174.59 L146.37,174.8 L146.37,174.81 L146.48,175.04 L146.58,175.28 L146.69,175.53 L146.79,175.78 L146.89,176.04 L146.9,176.05 L147,176.32 L147.11,176.61 L147.21,176.89 L147.32,177.19 L147.42,177.48 L147.42,177.49 L147.52,177.79 L147.63,178.1 L147.73,178.41 L147.84,178.73 L147.94,179.04 L147.94,179.05 L148.46,180.67 L148.99,182.32 L149.51,183.98 L150.04,185.61 L150.56,187.19 L151.08,188.7 L151.61,190.14 L152.13,191.5 L152.66,192.78 L153.18,193.97 L153.7,195.1 L154.23,196.17 L154.75,197.21 L155.28,198.25 L155.8,199.29 L156.32,200.34 L156.85,201.42 L157.37,202.51 L157.9,203.59 L158.42,204.63 L158.94,205.59 L159.47,206.47 L159.99,207.25 L160.52,207.94 L161.04,208.55 L161.56,209.1 L162.09,209.64 L162.61,210.2 L163.14,210.79 L163.66,211.45 L164.18,212.16 L164.71,212.9 L165.23,213.67 L165.76,214.44 L166.28,215.21 L166.8,215.93 L167.33,216.61 L167.85,217.24 L168.38,217.81 L168.9,218.37 L169.42,218.92 L169.95,219.45 L170.47,219.97 L171,220.48 L171.52,220.99 L172.04,221.5 L172.57,222.01 L173.09,222.49 L173.62,222.95 L174.14,223.41 L174.66,223.85 L175.19,224.29 L175.71,224.74 L176.24,225.19 L176.76,225.66 L177.28,226.16 L177.81,226.7 L178.33,227.25 L178.86,227.79 L179.38,228.3 L179.9,228.78 L180.43,229.21 L180.95,229.61 L181.48,230.03 L182,230.45 L182.52,230.86 L183.05,231.28 L183.57,231.68 L184.1,232.07 L184.62,232.44 L185.14,232.81 L185.67,233.21 L186.19,233.64 L186.72,234.07 L187.24,234.49 L187.76,234.9 L188.29,235.28 L188.81,235.63 L189.34,235.9 L189.86,236.06 L190.38,236.14 L190.91,236.17 L191.43,236.2 L191.96,236.27 L192.48,236.41 L193,236.65 L193.53,236.98 L194.05,237.37 L194.58,237.8 L195.1,238.25 L195.62,238.7 L196.15,239.12 L196.67,239.5 L197.2,239.8 L197.72,240.07 L198.24,240.34 L198.77,240.6 L199.29,240.85 L199.82,241.1 L200.34,241.35 L200.86,241.6 L201.39,241.85 L201.91,242.09 L202.44,242.31 L202.96,242.52 L203.48,242.71 L204.01,242.9 L204.53,243.1 L205.06,243.31 L205.58,243.53 L206.1,243.73 L206.63,243.86 L207.15,243.94 L207.68,243.99 L208.2,244.04 L208.72,244.11 L209.25,244.23 L209.77,244.41 L210.3,244.69 L210.82,245.09 L211.34,245.57 L211.87,246.1 L212.39,246.63 L212.92,247.11 L213.44,247.5 L213.96,247.76 L214.49,247.93 L215.01,248.03 L215.54,248.08 L216.06,248.11 L216.58,248.13 L217.11,248.18 L217.63,248.27 L218.16,248.42 L218.68,248.62 L219.2,248.84 L219.73,249.07 L220.25,249.31 L220.78,249.54 L221.3,249.77 L221.82,249.98 L222.35,250.17 L222.87,250.33 L223.4,250.45 L223.92,250.56 L224.44,250.65 L224.97,250.74 L225.49,250.84 L226.02,250.96 L226.54,251.11 L227.06,251.31 L227.59,251.59 L228.11,251.92 L228.64,252.29 L229.16,252.65 L229.68,252.98 L230.21,253.25 L230.73,253.44 L231.26,253.57 L231.78,253.66 L232.3,253.71 L232.83,253.73 L233.35,253.76 L233.88,253.81 L234.4,253.89 L234.92,254.01 L235.45,254.13 L235.97,254.22 L236.5,254.27 L237.02,254.3 L237.54,254.34 L238.07,254.39 L238.59,254.46 L239.12,254.58 L239.64,254.71 L240.16,254.81 L240.69,254.89 L241.21,254.96 L241.74,255.03 L242.26,255.11 L242.78,255.21 L243.31,255.32 L243.83,255.45 L244.36,255.58 L244.88,255.7 L245.4,255.83 L245.93,255.95 L246.45,256.07 L246.98,256.19 L247.5,256.32" stroke="#7cade5"/>
<path d="M37.9,251.09 L38.42,250.94 L38.95,250.75 L39.47,250.52 L40,250.27 L40.52,250.03 L41.04,249.8 L41.57,249.6 L42.09,249.44 L42.62,249.32 L43.14,249.21 L43.66,249.11 L44.19,249.01 L44.71,248.91 L45.24,248.81 L45.76,248.7 L46.28,248.57 L46.81,248.43 L47.33,248.29 L47.86,248.15 L48.38,248.02 L48.9,247.88 L49.43,247.74 L49.95,247.6 L50.48,247.45 L51,247.3 L51.52,247.13 L52.05,246.94 L52.57,246.75 L53.1,246.56 L53.62,246.37 L54.14,246.2 L54.67,246.03 L55.19,245.88 L55.72,245.74 L56.24,245.61 L56.76,245.47 L57.29,245.34 L57.81,245.2 L58.34,245.05 L58.86,244.9 L59.38,244.73 L59.91,244.56 L60.43,244.39 L60.96,244.22 L61.48,244.05 L62,243.87 L62.53,243.7 L63.05,243.53 L63.58,243.35 L64.1,243.18 L64.62,243.01 L65.15,242.83 L65.67,242.65 L66.2,242.48 L66.72,242.3 L67.24,242.12 L67.77,241.91 L68.29,241.65 L68.82,241.36 L69.34,241.04 L69.86,240.73 L70.39,240.43 L70.91,240.17 L71.44,239.95 L71.96,239.79 L72.48,239.69 L73.01,239.64 L73.53,239.62 L74.06,239.59 L74.58,239.54 L75.1,239.43 L75.63,239.26 L76.15,239.04 L76.68,238.77 L77.2,238.48 L77.72,238.17 L78.25,237.85 L78.77,237.55 L79.3,237.28 L79.82,237.04 L80.34,236.83 L80.87,236.63 L81.39,236.43 L81.92,236.24 L82.44,236.04 L82.96,235.84 L83.49,235.63 L84.01,235.4 L84.54,235.18 L85.06,234.99 L85.58,234.81 L86.11,234.65 L86.63,234.48 L87.16,234.3 L87.68,234.09 L88.2,233.86 L88.73,233.59 L89.25,233.29 L89.78,232.96 L90.3,232.61 L90.82,232.26 L91.35,231.93 L91.87,231.61 L92.4,231.33 L92.92,231.08 L93.44,230.88 L93.97,230.71 L94.49,230.56 L95.02,230.41 L95.54,230.24 L96.06,230.02 L96.59,229.76 L97.11,229.44 L97.64,229.05 L98.16,228.63 L98.68,228.17 L99.21,227.71 L99.73,227.27 L100.26,226.88 L100.78,226.53 L101.3,226.25 L101.83,226.01 L102.35,225.82 L102.88,225.64 L103.4,225.46 L103.92,225.26 L104.45,225.01 L104.97,224.7 L105.5,224.35 L106.02,223.98 L106.54,223.61 L107.07,223.23 L107.59,222.84 L108.12,222.46 L108.64,222.07 L109.16,221.69 L109.69,221.3 L110.21,220.88 L110.74,220.44 L111.26,219.99 L111.78,219.53 L112.31,219.07 L112.83,218.63 L113.36,218.2 L113.88,217.78 L114.4,217.33 L114.93,216.87 L115.45,216.39 L115.98,215.91 L116.5,215.43 L117.02,214.95 L117.55,214.48 L118.07,214.01 L118.6,213.54 L119.12,213.05 L119.64,212.56 L120.17,212.05 L120.69,211.54 L121.22,211.03 L121.74,210.5 L122.26,209.97 L122.79,209.44 L123.31,208.89 L123.84,208.33 L124.36,207.76 L124.88,207.18 L125.41,206.59 L125.93,205.99 L126.46,205.39 L126.98,204.81 L127.5,204.23 L128.03,203.66 L128.55,203.07 L129.08,202.45 L129.6,201.79 L130.12,201.08 L130.65,200.35 L131.17,199.61 L131.7,198.87 L132.22,198.11 L132.74,197.3 L133.27,196.44 L133.79,195.54 L134.32,194.59 L134.84,193.58 L135.36,192.51 L135.89,191.4 L136.41,190.25 L136.94,189.07 L137.46,187.87 L137.98,186.64 L138.51,185.39 L139.03,184.1 L139.56,182.79 L140.08,181.45 L140.6,180.11 L141.13,178.78 L141.65,177.5 L141.66,177.49 L141.76,177.24 L141.87,176.99 L141.97,176.75 L142.08,176.52 L142.18,176.29 L142.18,176.28 L142.28,176.05 L142.39,175.83 L142.49,175.61 L142.6,175.4 L142.7,175.21 L142.7,175.2 L142.81,175 L142.91,174.81 L143.02,174.63 L143.12,174.45 L143.22,174.29 L143.23,174.28 L143.33,174.13 L143.44,173.98 L143.54,173.84 L143.65,173.71 L143.75,173.59 L143.75,173.59 L143.86,173.48 L143.96,173.38 L144.07,173.29 L144.17,173.21 L144.27,173.15 L144.28,173.15 L144.38,173.1 L144.49,173.05 L144.59,173.02 L144.7,173.01 L144.8,173 L144.8,173 L144.9,173.01 L145.01,173.02 L145.11,173.05 L145.22,173.1 L145.32,173.15 L145.32,173.15 L145.43,173.22 L145.53,173.29 L145.64,173.38 L145.74,173.48 L145.84,173.59 L145.85,173.59 L145.95,173.71 L146.06,173.84 L146.16,173.99 L146.27,174.14 L146.37,174.29 L146.37,174.3 L146.48,174.47 L146.58,174.64 L146.69,174.83 L146.79,175.02 L146.89,175.21 L146.9,175.22 L147,175.43 L147.11,175.64 L147.21,175.86 L147.32,176.09 L147.42,176.31 L147.42,176.32 L147.52,176.56 L147.63,176.8 L147.73,177.04 L147.84,177.29 L147.94,177.53 L147.94,177.54 L148.46,178.83 L148.99,180.16 L149.51,181.51 L150.04,182.85 L150.56,184.17 L151.08,185.47 L151.61,186.75 L152.13,188 L152.66,189.21 L153.18,190.4 L153.7,191.55 L154.23,192.66 L154.75,193.73 L155.28,194.76 L155.8,195.76 L156.32,196.76 L156.85,197.76 L157.37,198.76 L157.9,199.73 L158.42,200.66 L158.94,201.54 L159.47,202.37 L159.99,203.14 L160.52,203.85 L161.04,204.51 L161.56,205.13 L162.09,205.74 L162.61,206.35 L163.14,206.98 L163.66,207.63 L164.18,208.31 L164.71,209.04 L165.23,209.78 L165.76,210.54 L166.28,211.28 L166.8,211.99 L167.33,212.65 L167.85,213.26 L168.38,213.81 L168.9,214.35 L169.42,214.86 L169.95,215.37 L170.47,215.86 L171,216.35 L171.52,216.84 L172.04,217.33 L172.57,217.81 L173.09,218.24 L173.62,218.64 L174.14,219.01 L174.66,219.38 L175.19,219.75 L175.71,220.15 L176.24,220.57 L176.76,221.04 L177.28,221.56 L177.81,222.11 L178.33,222.68 L178.86,223.25 L179.38,223.78 L179.9,224.27 L180.43,224.7 L180.95,225.07 L181.48,225.39 L182,225.67 L182.52,225.92 L183.05,226.17 L183.57,226.44 L184.1,226.73 L184.62,227.07 L185.14,227.45 L185.67,227.86 L186.19,228.29 L186.72,228.74 L187.24,229.19 L187.76,229.62 L188.29,230.01 L188.81,230.36 L189.34,230.65 L189.86,230.88 L190.38,231.06 L190.91,231.21 L191.43,231.36 L191.96,231.53 L192.48,231.74 L193,232.01 L193.53,232.33 L194.05,232.69 L194.58,233.07 L195.1,233.47 L195.62,233.87 L196.15,234.25 L196.67,234.59 L197.2,234.89 L197.72,235.15 L198.24,235.38 L198.77,235.59 L199.29,235.78 L199.82,235.97 L200.34,236.17 L200.86,236.39 L201.39,236.63 L201.91,236.91 L202.44,237.24 L202.96,237.59 L203.48,237.97 L204.01,238.34 L204.53,238.69 L205.06,239.01 L205.58,239.27 L206.1,239.49 L206.63,239.67 L207.15,239.82 L207.68,239.96 L208.2,240.1 L208.72,240.25 L209.25,240.42 L209.77,240.63 L210.3,240.83 L210.82,240.99 L211.34,241.12 L211.87,241.23 L212.39,241.34 L212.92,241.47 L213.44,241.62 L213.96,241.81 L214.49,242.02 L215.01,242.24 L215.54,242.48 L216.06,242.72 L216.58,242.95 L217.11,243.18 L217.63,243.4 L218.16,243.6 L218.68,243.82 L219.2,244.11 L219.73,244.45 L220.25,244.82 L220.78,245.18 L221.3,245.51 L221.82,245.8 L222.35,246.01 L222.87,246.15 L223.4,246.21 L223.92,246.21 L224.44,246.17 L224.97,246.13 L225.49,246.13 L226.02,246.18 L226.54,246.31 L227.06,246.48 L227.59,246.65 L228.11,246.82 L228.64,246.99 L229.16,247.15 L229.68,247.32 L230.21,247.48 L230.73,247.65 L231.26,247.83 L231.78,248.04 L232.3,248.28 L232.83,248.54 L233.35,248.79 L233.88,249.03 L234.4,249.23 L234.92,249.41 L235.45,249.53 L235.97,249.6 L236.5,249.64 L237.02,249.65 L237.54,249.66 L238.07,249.69 L238.59,249.75 L239.12,249.87 L239.64,250.05 L240.16,250.3 L240.69,250.6 L241.21,250.94 L241.74,251.27 L242.26,251.57 L242.78,251.81 L243.31,251.99 L243.83,252.11 L244.36,252.2 L244.88,252.27 L245.4,252.33 L245.93,252.39 L246.45,252.46 L246.98,252.54 L247.5,252.66" stroke="#67c9e5"/>
<path d="M37.9,246.85 L38.42,246.73 L38.95,246.6 L39.47,246.49 L40,246.37 L40.52,246.26 L41.04,246.14 L41.57,246.02 L42.09,245.88 L42.62,245.75 L43.14,245.63 L43.66,245.5 L44.19,245.38 L44.71,245.26 L45.24,245.13 L45.76,245 L46.28,244.86 L46.81,244.73 L47.33,244.61 L47.86,244.49 L48.38,244.39 L48.9,244.28 L49.43,244.16 L49.95,244.04 L50.48,243.89 L51,243.74 L51.52,243.59 L52.05,243.44 L52.57,243.29 L53.1,243.13 L53.62,242.98 L54.14,242.82 L54.67,242.66 L55.19,242.51 L55.72,242.37 L56.24,242.23 L56.76,242.09 L57.29,241.96 L57.81,241.81 L58.34,241.66 L58.86,241.5 L59.38,241.33 L59.91,241.14 L60.43,240.93 L60.96,240.72 L61.48,240.5 L62,240.29 L62.53,240.1 L63.05,239.91 L63.58,239.74 L64.1,239.57 L64.62,239.4 L65.15,239.23 L65.67,239.06 L66.2,238.89 L66.72,238.72 L67.24,238.54 L67.77,238.35 L68.29,238.16 L68.82,237.96 L69.34,237.76 L69.86,237.55 L70.39,237.35 L70.91,237.15 L71.44,236.96 L71.96,236.77 L72.48,236.61 L73.01,236.47 L73.53,236.33 L74.06,236.19 L74.58,236.04 L75.1,235.87 L75.63,235.68 L76.15,235.44 L76.68,235.14 L77.2,234.8 L77.72,234.43 L78.25,234.06 L78.77,233.71 L79.3,233.41 L79.82,233.16 L80.34,232.96 L80.87,232.8 L81.39,232.67 L81.92,232.56 L82.44,232.44 L82.96,232.31 L83.49,232.14 L84.01,231.93 L84.54,231.68 L85.06,231.4 L85.58,231.1 L86.11,230.79 L86.63,230.47 L87.16,230.16 L87.68,229.87 L88.2,229.61 L88.73,229.36 L89.25,229.11 L89.78,228.86 L90.3,228.61 L90.82,228.36 L91.35,228.1 L91.87,227.84 L92.4,227.57 L92.92,227.34 L93.44,227.15 L93.97,227 L94.49,226.88 L95.02,226.75 L95.54,226.59 L96.06,226.4 L96.59,226.14 L97.11,225.86 L97.64,225.6 L98.16,225.35 L98.68,225.11 L99.21,224.87 L99.73,224.61 L100.26,224.33 L100.78,224.04 L101.3,223.68 L101.83,223.26 L102.35,222.77 L102.88,222.25 L103.4,221.72 L103.92,221.23 L104.45,220.78 L104.97,220.41 L105.5,220.09 L106.02,219.81 L106.54,219.56 L107.07,219.32 L107.59,219.07 L108.12,218.81 L108.64,218.51 L109.16,218.16 L109.69,217.78 L110.21,217.39 L110.74,216.98 L111.26,216.57 L111.78,216.15 L112.31,215.72 L112.83,215.31 L113.36,214.9 L113.88,214.49 L114.4,214.09 L114.93,213.69 L115.45,213.29 L115.98,212.88 L116.5,212.46 L117.02,212.03 L117.55,211.58 L118.07,211.12 L118.6,210.64 L119.12,210.15 L119.64,209.64 L120.17,209.13 L120.69,208.62 L121.22,208.1 L121.74,207.59 L122.26,207.09 L122.79,206.61 L123.31,206.15 L123.84,205.7 L124.36,205.23 L124.88,204.74 L125.41,204.21 L125.93,203.64 L126.46,203.02 L126.98,202.37 L127.5,201.67 L128.03,200.96 L128.55,200.22 L129.08,199.49 L129.6,198.75 L130.12,198.03 L130.65,197.3 L131.17,196.57 L131.7,195.81 L132.22,195.04 L132.74,194.24 L133.27,193.4 L133.79,192.53 L134.32,191.62 L134.84,190.67 L135.36,189.69 L135.89,188.68 L136.41,187.64 L136.94,186.57 L137.46,185.47 L137.98,184.36 L138.51,183.22 L139.03,182.08 L139.56,180.93 L140.08,179.79 L140.6,178.66 L141.13,177.56 L141.65,176.51 L141.66,176.5 L141.76,176.3 L141.87,176.1 L141.97,175.91 L142.08,175.72 L142.18,175.54 L142.18,175.53 L142.28,175.35 L142.39,175.18 L142.49,175 L142.6,174.84 L142.7,174.68 L142.7,174.68 L142.81,174.52 L142.91,174.38 L143.02,174.23 L143.12,174.1 L143.22,173.97 L143.23,173.97 L143.33,173.85 L143.44,173.73 L143.54,173.63 L143.65,173.53 L143.75,173.44 L143.75,173.44 L143.86,173.36 L143.96,173.28 L144.07,173.22 L144.17,173.16 L144.27,173.11 L144.28,173.11 L144.38,173.07 L144.49,173.04 L144.59,173.02 L144.7,173 L144.8,173 L144.8,173 L144.9,173 L145.01,173.02 L145.11,173.04 L145.22,173.07 L145.32,173.11 L145.32,173.11 L145.43,173.16 L145.53,173.22 L145.64,173.28 L145.74,173.35 L145.84,173.43 L145.85,173.44 L145.95,173.52 L146.06,173.62 L146.16,173.73 L146.27,173.84 L146.37,173.95 L146.37,173.96 L146.48,174.08 L146.58,174.22 L146.69,174.36 L146.79,174.5 L146.89,174.65 L146.9,174.65 L147,174.81 L147.11,174.97 L147.21,175.14 L147.32,175.32 L147.42,175.49 L147.42,175.5 L147.52,175.68 L147.63,175.87 L147.73,176.06 L147.84,176.26 L147.94,176.45 L147.94,176.46 L148.46,177.5 L148.99,178.6 L149.51,179.75 L150.04,180.92 L150.56,182.09 L151.08,183.26 L151.61,184.42 L152.13,185.57 L152.66,186.72 L153.18,187.87 L153.7,189.01 L154.23,190.12 L154.75,191.2 L155.28,192.22 L155.8,193.19 L156.32,194.12 L156.85,194.99 L157.37,195.83 L157.9,196.6 L158.42,197.36 L158.94,198.12 L159.47,198.88 L159.99,199.62 L160.52,200.33 L161.04,201.01 L161.56,201.66 L162.09,202.29 L162.61,202.92 L163.14,203.55 L163.66,204.19 L164.18,204.81 L164.71,205.41 L165.23,205.98 L165.76,206.54 L166.28,207.09 L166.8,207.63 L167.33,208.17 L167.85,208.71 L168.38,209.27 L168.9,209.83 L169.42,210.39 L169.95,210.95 L170.47,211.51 L171,212.05 L171.52,212.56 L172.04,213.06 L172.57,213.52 L173.09,213.94 L173.62,214.33 L174.14,214.69 L174.66,215.05 L175.19,215.42 L175.71,215.81 L176.24,216.22 L176.76,216.67 L177.28,217.14 L177.81,217.64 L178.33,218.14 L178.86,218.64 L179.38,219.12 L179.9,219.57 L180.43,219.97 L180.95,220.37 L181.48,220.79 L182,221.23 L182.52,221.67 L183.05,222.11 L183.57,222.53 L184.1,222.93 L184.62,223.29 L185.14,223.64 L185.67,223.97 L186.19,224.3 L186.72,224.61 L187.24,224.93 L187.76,225.24 L188.29,225.55 L188.81,225.87 L189.34,226.18 L189.86,226.44 L190.38,226.67 L190.91,226.88 L191.43,227.1 L191.96,227.32 L192.48,227.56 L193,227.84 L193.53,228.16 L194.05,228.5 L194.58,228.87 L195.1,229.24 L195.62,229.62 L196.15,229.98 L196.67,230.31 L197.2,230.6 L197.72,230.85 L198.24,231.07 L198.77,231.25 L199.29,231.42 L199.82,231.58 L200.34,231.76 L200.86,231.96 L201.39,232.2 L201.91,232.45 L202.44,232.69 L202.96,232.93 L203.48,233.16 L204.01,233.4 L204.53,233.63 L205.06,233.86 L205.58,234.1 L206.1,234.34 L206.63,234.59 L207.15,234.84 L207.68,235.1 L208.2,235.36 L208.72,235.61 L209.25,235.85 L209.77,236.08 L210.3,236.29 L210.82,236.5 L211.34,236.69 L211.87,236.87 L212.39,237.06 L212.92,237.25 L213.44,237.44 L213.96,237.64 L214.49,237.87 L215.01,238.12 L215.54,238.39 L216.06,238.67 L216.58,238.95 L217.11,239.22 L217.63,239.46 L218.16,239.67 L218.68,239.87 L219.2,240.05 L219.73,240.23 L220.25,240.41 L220.78,240.59 L221.3,240.77 L221.82,240.95 L222.35,241.13 L222.87,241.32 L223.4,241.53 L223.92,241.74 L224.44,241.96 L224.97,242.18 L225.49,242.39 L226.02,242.58 L226.54,242.77 L227.06,242.94 L227.59,243.11 L228.11,243.28 L228.64,243.45 L229.16,243.62 L229.68,243.79 L230.21,243.96 L230.73,244.12 L231.26,244.3 L231.78,244.5 L232.3,244.72 L232.83,244.94 L233.35,245.17 L233.88,245.38 L234.4,245.57 L234.92,245.74 L235.45,245.88 L235.97,246 L236.5,246.1 L237.02,246.18 L237.54,246.26 L238.07,246.36 L238.59,246.47 L239.12,246.6 L239.64,246.76 L240.16,246.92 L240.69,247.1 L241.21,247.28 L241.74,247.46 L242.26,247.63 L242.78,247.79 L243.31,247.94 L243.83,248.08 L244.36,248.24 L244.88,248.39 L245.4,248.56 L245.93,248.72 L246.45,248.87 L246.98,249.02 L247.5,249.16" stroke="#67d9cb"/>
<path d="M37.9,244.04 L38.42,243.9 L38.95,243.76 L39.47,243.6 L40,243.44 L40.52,243.29 L41.04,243.13 L41.57,242.98 L42.09,242.84 L42.62,242.7 L43.14,242.58 L43.66,242.45 L44.19,242.33 L44.71,242.21 L45.24,242.08 L45.76,241.95 L46.28,241.81 L46.81,241.66 L47.33,241.48 L47.86,241.3 L48.38,241.1 L48.9,240.9 L49.43,240.71 L49.95,240.54 L50.48,240.38 L51,240.24 L51.52,240.14 L52.05,240.07 L52.57,240.01 L53.1,239.94 L53.62,239.87 L54.14,239.76 L54.67,239.62 L55.19,239.45 L55.72,239.26 L56.24,239.05 L56.76,238.84 L57.29,238.62 L57.81,238.41 L58.34,238.21 L58.86,238.04 L59.38,237.89 L59.91,237.77 L60.43,237.68 L60.96,237.61 L61.48,237.53 L62,237.44 L62.53,237.31 L63.05,237.16 L63.58,237 L64.1,236.87 L64.62,236.77 L65.15,236.67 L65.67,236.58 L66.2,236.47 L66.72,236.33 L67.24,236.16 L67.77,235.96 L68.29,235.71 L68.82,235.43 L69.34,235.13 L69.86,234.83 L70.39,234.55 L70.91,234.3 L71.44,234.08 L71.96,233.86 L72.48,233.6 L73.01,233.31 L73.53,233 L74.06,232.68 L74.58,232.38 L75.1,232.12 L75.63,231.89 L76.15,231.72 L76.68,231.62 L77.2,231.57 L77.72,231.54 L78.25,231.52 L78.77,231.46 L79.3,231.36 L79.82,231.18 L80.34,230.93 L80.87,230.62 L81.39,230.26 L81.92,229.88 L82.44,229.49 L82.96,229.13 L83.49,228.81 L84.01,228.55 L84.54,228.34 L85.06,228.16 L85.58,228.01 L86.11,227.87 L86.63,227.73 L87.16,227.57 L87.68,227.39 L88.2,227.16 L88.73,226.91 L89.25,226.65 L89.78,226.38 L90.3,226.11 L90.82,225.84 L91.35,225.57 L91.87,225.3 L92.4,225.03 L92.92,224.76 L93.44,224.48 L93.97,224.18 L94.49,223.89 L95.02,223.58 L95.54,223.28 L96.06,222.99 L96.59,222.7 L97.11,222.41 L97.64,222.12 L98.16,221.82 L98.68,221.52 L99.21,221.21 L99.73,220.91 L100.26,220.6 L100.78,220.29 L101.3,220 L101.83,219.73 L102.35,219.47 L102.88,219.22 L103.4,218.97 L103.92,218.71 L104.45,218.42 L104.97,218.1 L105.5,217.76 L106.02,217.38 L106.54,216.99 L107.07,216.58 L107.59,216.16 L108.12,215.76 L108.64,215.36 L109.16,214.99 L109.69,214.62 L110.21,214.24 L110.74,213.85 L111.26,213.46 L111.78,213.06 L112.31,212.65 L112.83,212.25 L113.36,211.85 L113.88,211.45 L114.4,211.03 L114.93,210.6 L115.45,210.16 L115.98,209.71 L116.5,209.26 L117.02,208.81 L117.55,208.37 L118.07,207.94 L118.6,207.54 L119.12,207.16 L119.64,206.79 L120.17,206.4 L120.69,206 L121.22,205.56 L121.74,205.09 L122.26,204.55 L122.79,203.96 L123.31,203.32 L123.84,202.65 L124.36,201.97 L124.88,201.3 L125.41,200.66 L125.93,200.05 L126.46,199.46 L126.98,198.84 L127.5,198.21 L128.03,197.56 L128.55,196.9 L129.08,196.22 L129.6,195.53 L130.12,194.83 L130.65,194.11 L131.17,193.37 L131.7,192.59 L132.22,191.79 L132.74,191.03 L133.27,190.25 L133.79,189.45 L134.32,188.64 L134.84,187.83 L135.36,187.04 L135.89,186.24 L136.41,185.41 L136.94,184.53 L137.46,183.6 L137.98,182.62 L138.51,181.6 L139.03,180.56 L139.56,179.53 L140.08,178.51 L140.6,177.53 L141.13,176.6 L141.65,175.74 L141.66,175.73 L141.76,175.57 L141.87,175.41 L141.97,175.25 L142.08,175.1 L142.18,174.96 L142.18,174.96 L142.28,174.81 L142.39,174.67 L142.49,174.54 L142.6,174.41 L142.7,174.29 L142.7,174.29 L142.81,174.17 L142.91,174.05 L143.02,173.94 L143.12,173.84 L143.22,173.74 L143.23,173.74 L143.33,173.65 L143.44,173.56 L143.54,173.48 L143.65,173.4 L143.75,173.34 L143.75,173.33 L143.86,173.27 L143.96,173.22 L144.07,173.17 L144.17,173.12 L144.27,173.09 L144.28,173.08 L144.38,173.05 L144.49,173.03 L144.59,173.01 L144.7,173 L144.8,173 L144.8,173 L144.9,173 L145.01,173.01 L145.11,173.03 L145.22,173.05 L145.32,173.08 L145.32,173.09 L145.43,173.12 L145.53,173.17 L145.64,173.22 L145.74,173.27 L145.84,173.34 L145.85,173.34 L145.95,173.41 L146.06,173.49 L146.16,173.57 L146.27,173.66 L146.37,173.75 L146.37,173.75 L146.48,173.85 L146.58,173.96 L146.69,174.07 L146.79,174.19 L146.89,174.3 L146.9,174.31 L147,174.43 L147.11,174.57 L147.21,174.7 L147.32,174.84 L147.42,174.98 L147.42,174.99 L147.52,175.14 L147.63,175.29 L147.73,175.45 L147.84,175.61 L147.94,175.76 L147.94,175.77 L148.46,176.62 L148.99,177.54 L149.51,178.5 L150.04,179.48 L150.56,180.49 L151.08,181.5 L151.61,182.53 L152.13,183.54 L152.66,184.53 L153.18,185.51 L153.7,186.47 L154.23,187.4 L154.75,188.32 L155.28,189.21 L155.8,190.1 L156.32,190.99 L156.85,191.91 L157.37,192.82 L157.9,193.72 L158.42,194.59 L158.94,195.4 L159.47,196.16 L159.99,196.89 L160.52,197.62 L161.04,198.33 L161.56,199.03 L162.09,199.72 L162.61,200.39 L163.14,201.04 L163.66,201.66 L164.18,202.25 L164.71,202.79 L165.23,203.29 L165.76,203.76 L166.28,204.22 L166.8,204.69 L167.33,205.17 L167.85,205.69 L168.38,206.21 L168.9,206.71 L169.42,207.2 L169.95,207.68 L170.47,208.15 L171,208.61 L171.52,209.07 L172.04,209.54 L172.57,210.02 L173.09,210.53 L173.62,211.05 L174.14,211.58 L174.66,212.11 L175.19,212.61 L175.71,213.09 L176.24,213.53 L176.76,213.94 L177.28,214.33 L177.81,214.71 L178.33,215.08 L178.86,215.45 L179.38,215.81 L179.9,216.18 L180.43,216.55 L180.95,216.96 L181.48,217.41 L182,217.89 L182.52,218.39 L183.05,218.88 L183.57,219.35 L184.1,219.78 L184.62,220.15 L185.14,220.47 L185.67,220.75 L186.19,221 L186.72,221.22 L187.24,221.45 L187.76,221.68 L188.29,221.94 L188.81,222.24 L189.34,222.55 L189.86,222.83 L190.38,223.1 L190.91,223.35 L191.43,223.6 L191.96,223.86 L192.48,224.13 L193,224.42 L193.53,224.71 L194.05,225 L194.58,225.28 L195.1,225.56 L195.62,225.84 L196.15,226.12 L196.67,226.4 L197.2,226.67 L197.72,226.92 L198.24,227.14 L198.77,227.34 L199.29,227.52 L199.82,227.69 L200.34,227.88 L200.86,228.09 L201.39,228.32 L201.91,228.61 L202.44,228.95 L202.96,229.33 L203.48,229.74 L204.01,230.14 L204.53,230.52 L205.06,230.85 L205.58,231.12 L206.1,231.36 L206.63,231.63 L207.15,231.92 L207.68,232.22 L208.2,232.51 L208.72,232.79 L209.25,233.05 L209.77,233.29 L210.3,233.48 L210.82,233.6 L211.34,233.69 L211.87,233.74 L212.39,233.8 L212.92,233.87 L213.44,233.99 L213.96,234.17 L214.49,234.39 L215.01,234.63 L215.54,234.89 L216.06,235.15 L216.58,235.41 L217.11,235.67 L217.63,235.9 L218.16,236.11 L218.68,236.29 L219.2,236.46 L219.73,236.61 L220.25,236.75 L220.78,236.88 L221.3,237.03 L221.82,237.19 L222.35,237.36 L222.87,237.54 L223.4,237.71 L223.92,237.87 L224.44,238.03 L224.97,238.18 L225.49,238.34 L226.02,238.5 L226.54,238.67 L227.06,238.85 L227.59,239.02 L228.11,239.2 L228.64,239.38 L229.16,239.56 L229.68,239.73 L230.21,239.9 L230.73,240.07 L231.26,240.23 L231.78,240.37 L232.3,240.49 L232.83,240.6 L233.35,240.71 L233.88,240.83 L234.4,240.96 L234.92,241.11 L235.45,241.27 L235.97,241.43 L236.5,241.59 L237.02,241.75 L237.54,241.91 L238.07,242.06 L238.59,242.22 L239.12,242.37 L239.64,242.56 L240.16,242.81 L240.69,243.11 L241.21,243.43 L241.74,243.75 L242.26,244.05 L242.78,244.3 L243.31,244.48 L243.83,244.6 L244.36,244.69 L244.88,244.75 L245.4,244.8 L245.93,244.84 L246.45,244.9 L246.98,244.98 L247.5,245.1" stroke="#95e096"/>
<path d="M37.9,241.7 L38.42,241.56 L38.95,241.41 L39.47,241.25 L40,241.08 L40.52,240.92 L41.04,240.75 L41.57,240.6 L42.09,240.46 L42.62,240.3 L43.14,240.12 L43.66,239.9 L44.19,239.68 L44.71,239.46 L45.24,239.24 L45.76,239.05 L46.28,238.89 L46.81,238.76 L47.33,238.64 L47.86,238.53 L48.38,238.42 L48.9,238.32 L49.43,238.21 L49.95,238.08 L50.48,237.94 L51,237.8 L51.52,237.68 L52.05,237.57 L52.57,237.48 L53.1,237.38 L53.62,237.27 L54.14,237.14 L54.67,237 L55.19,236.82 L55.72,236.62 L56.24,236.39 L56.76,236.16 L57.29,235.92 L57.81,235.69 L58.34,235.48 L58.86,235.3 L59.38,235.13 L59.91,234.97 L60.43,234.81 L60.96,234.64 L61.48,234.48 L62,234.31 L62.53,234.14 L63.05,233.97 L63.58,233.78 L64.1,233.58 L64.62,233.36 L65.15,233.14 L65.67,232.91 L66.2,232.69 L66.72,232.48 L67.24,232.28 L67.77,232.1 L68.29,231.93 L68.82,231.76 L69.34,231.58 L69.86,231.41 L70.39,231.24 L70.91,231.05 L71.44,230.86 L71.96,230.68 L72.48,230.52 L73.01,230.38 L73.53,230.24 L74.06,230.11 L74.58,229.96 L75.1,229.79 L75.63,229.6 L76.15,229.4 L76.68,229.2 L77.2,229 L77.72,228.8 L78.25,228.6 L78.77,228.39 L79.3,228.19 L79.82,227.97 L80.34,227.75 L80.87,227.52 L81.39,227.29 L81.92,227.05 L82.44,226.81 L82.96,226.57 L83.49,226.33 L84.01,226.1 L84.54,225.87 L85.06,225.64 L85.58,225.41 L86.11,225.17 L86.63,224.94 L87.16,224.7 L87.68,224.47 L88.2,224.22 L88.73,223.96 L89.25,223.66 L89.78,223.34 L90.3,223 L90.82,222.66 L91.35,222.33 L91.87,222.03 L92.4,221.75 L92.92,221.48 L93.44,221.22 L93.97,220.94 L94.49,220.67 L95.02,220.39 L95.54,220.11 L96.06,219.83 L96.59,219.55 L97.11,219.27 L97.64,218.99 L98.16,218.71 L98.68,218.44 L99.21,218.16 L99.73,217.87 L100.26,217.58 L100.78,217.28 L101.3,216.99 L101.83,216.71 L102.35,216.44 L102.88,216.18 L103.4,215.91 L103.92,215.64 L104.45,215.34 L104.97,215.03 L105.5,214.71 L106.02,214.39 L106.54,214.08 L107.07,213.78 L107.59,213.47 L108.12,213.15 L108.64,212.81 L109.16,212.47 L109.69,212.1 L110.21,211.7 L110.74,211.29 L111.26,210.86 L111.78,210.42 L112.31,210 L112.83,209.58 L113.36,209.18 L113.88,208.8 L114.4,208.43 L114.93,208.08 L115.45,207.74 L115.98,207.39 L116.5,207.02 L117.02,206.63 L117.55,206.21 L118.07,205.77 L118.6,205.31 L119.12,204.83 L119.64,204.34 L120.17,203.85 L120.69,203.35 L121.22,202.85 L121.74,202.36 L122.26,201.88 L122.79,201.43 L123.31,201 L123.84,200.57 L124.36,200.13 L124.88,199.67 L125.41,199.17 L125.93,198.63 L126.46,198.04 L126.98,197.41 L127.5,196.76 L128.03,196.08 L128.55,195.39 L129.08,194.69 L129.6,193.99 L130.12,193.31 L130.65,192.6 L131.17,191.84 L131.7,191.03 L132.22,190.2 L132.74,189.36 L133.27,188.53 L133.79,187.72 L134.32,186.92 L134.84,186.12 L135.36,185.34 L135.89,184.54 L136.41,183.73 L136.94,182.89 L137.46,182.02 L137.98,181.13 L138.51,180.22 L139.03,179.31 L139.56,178.42 L140.08,177.56 L140.6,176.73 L141.13,175.95 L141.65,175.23 L141.66,175.23 L141.76,175.09 L141.87,174.96 L141.97,174.83 L142.08,174.71 L142.18,174.59 L142.18,174.59 L142.28,174.47 L142.39,174.36 L142.49,174.25 L142.6,174.14 L142.7,174.04 L142.7,174.04 L142.81,173.94 L142.91,173.85 L143.02,173.76 L143.12,173.67 L143.22,173.6 L143.23,173.59 L143.33,173.52 L143.44,173.45 L143.54,173.38 L143.65,173.32 L143.75,173.27 L143.75,173.27 L143.86,173.22 L143.96,173.17 L144.07,173.13 L144.17,173.1 L144.27,173.07 L144.28,173.07 L144.38,173.04 L144.49,173.02 L144.59,173.01 L144.7,173 L144.8,173 L144.8,173 L144.9,173 L145.01,173.01 L145.11,173.02 L145.22,173.04 L145.32,173.07 L145.32,173.07 L145.43,173.1 L145.53,173.13 L145.64,173.17 L145.74,173.22 L145.84,173.26 L145.85,173.27 L145.95,173.32 L146.06,173.38 L146.16,173.45 L146.27,173.52 L146.37,173.59 L146.37,173.59 L146.48,173.67 L146.58,173.75 L146.69,173.84 L146.79,173.93 L146.89,174.03 L146.9,174.03 L147,174.13 L147.11,174.24 L147.21,174.35 L147.32,174.46 L147.42,174.57 L147.42,174.58 L147.52,174.7 L147.63,174.82 L147.73,174.95 L147.84,175.08 L147.94,175.2 L147.94,175.21 L148.46,175.91 L148.99,176.67 L149.51,177.48 L150.04,178.31 L150.56,179.17 L151.08,180.05 L151.61,180.95 L152.13,181.84 L152.66,182.73 L153.18,183.62 L153.7,184.49 L154.23,185.35 L154.75,186.19 L155.28,187.01 L155.8,187.83 L156.32,188.66 L156.85,189.5 L157.37,190.35 L157.9,191.2 L158.42,192.02 L158.94,192.8 L159.47,193.53 L159.99,194.23 L160.52,194.91 L161.04,195.58 L161.56,196.23 L162.09,196.88 L162.61,197.51 L163.14,198.12 L163.66,198.72 L164.18,199.31 L164.71,199.87 L165.23,200.42 L165.76,200.96 L166.28,201.49 L166.8,202.01 L167.33,202.52 L167.85,203.04 L168.38,203.56 L168.9,204.08 L169.42,204.61 L169.95,205.14 L170.47,205.66 L171,206.17 L171.52,206.66 L172.04,207.12 L172.57,207.57 L173.09,207.98 L173.62,208.38 L174.14,208.76 L174.66,209.14 L175.19,209.52 L175.71,209.91 L176.24,210.31 L176.76,210.72 L177.28,211.13 L177.81,211.54 L178.33,211.95 L178.86,212.35 L179.38,212.75 L179.9,213.14 L180.43,213.51 L180.95,213.89 L181.48,214.29 L182,214.7 L182.52,215.12 L183.05,215.53 L183.57,215.93 L184.1,216.3 L184.62,216.66 L185.14,216.98 L185.67,217.29 L186.19,217.58 L186.72,217.86 L187.24,218.14 L187.76,218.42 L188.29,218.71 L188.81,219.02 L189.34,219.32 L189.86,219.62 L190.38,219.91 L190.91,220.2 L191.43,220.48 L191.96,220.76 L192.48,221.04 L193,221.33 L193.53,221.62 L194.05,221.93 L194.58,222.23 L195.1,222.54 L195.62,222.85 L196.15,223.15 L196.67,223.44 L197.2,223.72 L197.72,223.99 L198.24,224.26 L198.77,224.53 L199.29,224.81 L199.82,225.08 L200.34,225.34 L200.86,225.6 L201.39,225.86 L201.91,226.09 L202.44,226.28 L202.96,226.43 L203.48,226.57 L204.01,226.71 L204.53,226.86 L205.06,227.04 L205.58,227.26 L206.1,227.48 L206.63,227.68 L207.15,227.87 L207.68,228.05 L208.2,228.23 L208.72,228.41 L209.25,228.6 L209.77,228.81 L210.3,229.05 L210.82,229.33 L211.34,229.64 L211.87,229.97 L212.39,230.29 L212.92,230.6 L213.44,230.87 L213.96,231.1 L214.49,231.31 L215.01,231.52 L215.54,231.73 L216.06,231.94 L216.58,232.15 L217.11,232.35 L217.63,232.55 L218.16,232.75 L218.68,232.94 L219.2,233.11 L219.73,233.26 L220.25,233.4 L220.78,233.54 L221.3,233.69 L221.82,233.85 L222.35,234.03 L222.87,234.22 L223.4,234.43 L223.92,234.64 L224.44,234.86 L224.97,235.08 L225.49,235.29 L226.02,235.49 L226.54,235.67 L227.06,235.85 L227.59,236.04 L228.11,236.24 L228.64,236.44 L229.16,236.64 L229.68,236.83 L230.21,237.02 L230.73,237.19 L231.26,237.33 L231.78,237.44 L232.3,237.51 L232.83,237.56 L233.35,237.61 L233.88,237.68 L234.4,237.78 L234.92,237.92 L235.45,238.1 L235.97,238.33 L236.5,238.59 L237.02,238.87 L237.54,239.15 L238.07,239.41 L238.59,239.63 L239.12,239.81 L239.64,239.95 L240.16,240.1 L240.69,240.23 L241.21,240.36 L241.74,240.5 L242.26,240.63 L242.78,240.77 L243.31,240.91 L243.83,241.05 L244.36,241.2 L244.88,241.34 L245.4,241.47 L245.93,241.61 L246.45,241.75 L246.98,241.89 L247.5,242.03" stroke="#c8e77a"/>
<path d="M37.9,238.84 L38.42,238.69 L38.95,238.53 L39.47,238.36 L40,238.17 L40.52,237.99 L41.04,237.81 L41.57,237.65 L42.09,237.5 L42.62,237.37 L43.14,237.25 L43.66,237.14 L44.19,237.03 L44.71,236.92 L45.24,236.8 L45.76,236.68 L46.28,236.54 L46.81,236.4 L47.33,236.26 L47.86,236.13 L48.38,236 L48.9,235.87 L49.43,235.74 L49.95,235.6 L50.48,235.45 L51,235.3 L51.52,235.16 L52.05,235.03 L52.57,234.9 L53.1,234.77 L53.62,234.63 L54.14,234.49 L54.67,234.33 L55.19,234.17 L55.72,233.99 L56.24,233.8 L56.76,233.61 L57.29,233.42 L57.81,233.23 L58.34,233.04 L58.86,232.87 L59.38,232.7 L59.91,232.53 L60.43,232.36 L60.96,232.18 L61.48,232.01 L62,231.83 L62.53,231.66 L63.05,231.48 L63.58,231.31 L64.1,231.16 L64.62,231.03 L65.15,230.89 L65.67,230.76 L66.2,230.62 L66.72,230.46 L67.24,230.29 L67.77,230.1 L68.29,229.91 L68.82,229.7 L69.34,229.5 L69.86,229.29 L70.39,229.09 L70.91,228.89 L71.44,228.69 L71.96,228.48 L72.48,228.26 L73.01,228.01 L73.53,227.75 L74.06,227.49 L74.58,227.24 L75.1,227.01 L75.63,226.79 L76.15,226.61 L76.68,226.47 L77.2,226.35 L77.72,226.25 L78.25,226.15 L78.77,226.04 L79.3,225.89 L79.82,225.69 L80.34,225.47 L80.87,225.22 L81.39,224.96 L81.92,224.68 L82.44,224.41 L82.96,224.14 L83.49,223.88 L84.01,223.65 L84.54,223.42 L85.06,223.21 L85.58,223 L86.11,222.8 L86.63,222.6 L87.16,222.39 L87.68,222.16 L88.2,221.93 L88.73,221.66 L89.25,221.35 L89.78,221 L90.3,220.64 L90.82,220.27 L91.35,219.91 L91.87,219.59 L92.4,219.31 L92.92,219.06 L93.44,218.82 L93.97,218.59 L94.49,218.36 L95.02,218.14 L95.54,217.9 L96.06,217.65 L96.59,217.38 L97.11,217.11 L97.64,216.83 L98.16,216.55 L98.68,216.27 L99.21,215.98 L99.73,215.69 L100.26,215.4 L100.78,215.11 L101.3,214.81 L101.83,214.51 L102.35,214.21 L102.88,213.91 L103.4,213.6 L103.92,213.29 L104.45,212.98 L104.97,212.66 L105.5,212.34 L106.02,212.01 L106.54,211.69 L107.07,211.36 L107.59,211.03 L108.12,210.69 L108.64,210.35 L109.16,210 L109.69,209.65 L110.21,209.29 L110.74,208.93 L111.26,208.57 L111.78,208.2 L112.31,207.83 L112.83,207.45 L113.36,207.07 L113.88,206.7 L114.4,206.35 L114.93,206.02 L115.45,205.7 L115.98,205.38 L116.5,205.03 L117.02,204.66 L117.55,204.25 L118.07,203.81 L118.6,203.33 L119.12,202.81 L119.64,202.28 L120.17,201.75 L120.69,201.22 L121.22,200.7 L121.74,200.2 L122.26,199.71 L122.79,199.21 L123.31,198.69 L123.84,198.17 L124.36,197.63 L124.88,197.08 L125.41,196.53 L125.93,195.98 L126.46,195.43 L126.98,194.9 L127.5,194.39 L128.03,193.88 L128.55,193.36 L129.08,192.8 L129.6,192.22 L130.12,191.58 L130.65,190.89 L131.17,190.16 L131.7,189.38 L132.22,188.57 L132.74,187.75 L133.27,186.94 L133.79,186.15 L134.32,185.38 L134.84,184.62 L135.36,183.84 L135.89,183.05 L136.41,182.25 L136.94,181.45 L137.46,180.64 L137.98,179.84 L138.51,179.04 L139.03,178.26 L139.56,177.5 L140.08,176.78 L140.6,176.08 L141.13,175.43 L141.65,174.84 L141.66,174.83 L141.76,174.72 L141.87,174.61 L141.97,174.51 L142.08,174.4 L142.18,174.31 L142.18,174.3 L142.28,174.21 L142.39,174.11 L142.49,174.02 L142.6,173.93 L142.7,173.85 L142.7,173.85 L142.81,173.77 L142.91,173.69 L143.02,173.62 L143.12,173.55 L143.22,173.49 L143.23,173.48 L143.33,173.42 L143.44,173.37 L143.54,173.31 L143.65,173.26 L143.75,173.22 L143.75,173.22 L143.86,173.18 L143.96,173.14 L144.07,173.11 L144.17,173.08 L144.27,173.06 L144.28,173.05 L144.38,173.03 L144.49,173.02 L144.59,173.01 L144.7,173 L144.8,173 L144.8,173 L144.9,173 L145.01,173.01 L145.11,173.02 L145.22,173.03 L145.32,173.05 L145.32,173.05 L145.43,173.08 L145.53,173.11 L145.64,173.14 L145.74,173.18 L145.84,173.21 L145.85,173.22 L145.95,173.26 L146.06,173.31 L146.16,173.36 L146.27,173.42 L146.37,173.48 L146.37,173.48 L146.48,173.55 L146.58,173.62 L146.69,173.69 L146.79,173.76 L146.89,173.84 L146.9,173.84 L147,173.93 L147.11,174.01 L147.21,174.1 L147.32,174.2 L147.42,174.29 L147.42,174.3 L147.52,174.4 L147.63,174.5 L147.73,174.61 L147.84,174.71 L147.94,174.82 L147.94,174.83 L148.46,175.42 L148.99,176.08 L149.51,176.78 L150.04,177.53 L150.56,178.3 L151.08,179.1 L151.61,179.91 L152.13,180.74 L152.66,181.56 L153.18,182.39 L153.7,183.22 L154.23,184.04 L154.75,184.85 L155.28,185.65 L155.8,186.43 L156.32,187.18 L156.85,187.91 L157.37,188.61 L157.9,189.29 L158.42,189.97 L158.94,190.64 L159.47,191.31 L159.99,191.99 L160.52,192.68 L161.04,193.38 L161.56,194.08 L162.09,194.77 L162.61,195.43 L163.14,196.06 L163.66,196.65 L164.18,197.21 L164.71,197.74 L165.23,198.25 L165.76,198.75 L166.28,199.23 L166.8,199.71 L167.33,200.19 L167.85,200.69 L168.38,201.18 L168.9,201.65 L169.42,202.12 L169.95,202.57 L170.47,203.02 L171,203.46 L171.52,203.9 L172.04,204.34 L172.57,204.77 L173.09,205.19 L173.62,205.6 L174.14,206 L174.66,206.39 L175.19,206.79 L175.71,207.18 L176.24,207.57 L176.76,207.97 L177.28,208.38 L177.81,208.79 L178.33,209.2 L178.86,209.61 L179.38,210 L179.9,210.39 L180.43,210.76 L180.95,211.12 L181.48,211.48 L182,211.84 L182.52,212.2 L183.05,212.56 L183.57,212.91 L184.1,213.25 L184.62,213.59 L185.14,213.91 L185.67,214.21 L186.19,214.5 L186.72,214.78 L187.24,215.06 L187.76,215.34 L188.29,215.62 L188.81,215.92 L189.34,216.25 L189.86,216.62 L190.38,217.02 L190.91,217.43 L191.43,217.84 L191.96,218.23 L192.48,218.58 L193,218.89 L193.53,219.14 L194.05,219.35 L194.58,219.52 L195.1,219.67 L195.62,219.82 L196.15,219.98 L196.67,220.17 L197.2,220.41 L197.72,220.69 L198.24,220.98 L198.77,221.28 L199.29,221.59 L199.82,221.9 L200.34,222.2 L200.86,222.48 L201.39,222.74 L201.91,222.99 L202.44,223.26 L202.96,223.54 L203.48,223.82 L204.01,224.1 L204.53,224.37 L205.06,224.63 L205.58,224.87 L206.1,225.1 L206.63,225.3 L207.15,225.5 L207.68,225.69 L208.2,225.88 L208.72,226.07 L209.25,226.27 L209.77,226.49 L210.3,226.72 L210.82,226.97 L211.34,227.23 L211.87,227.51 L212.39,227.78 L212.92,228.04 L213.44,228.28 L213.96,228.5 L214.49,228.71 L215.01,228.92 L215.54,229.13 L216.06,229.34 L216.58,229.55 L217.11,229.75 L217.63,229.96 L218.16,230.15 L218.68,230.33 L219.2,230.49 L219.73,230.61 L220.25,230.73 L220.78,230.84 L221.3,230.97 L221.82,231.11 L222.35,231.28 L222.87,231.47 L223.4,231.67 L223.92,231.87 L224.44,232.07 L224.97,232.27 L225.49,232.46 L226.02,232.65 L226.54,232.83 L227.06,232.99 L227.59,233.13 L228.11,233.25 L228.64,233.35 L229.16,233.46 L229.68,233.57 L230.21,233.7 L230.73,233.86 L231.26,234.04 L231.78,234.25 L232.3,234.47 L232.83,234.7 L233.35,234.94 L233.88,235.16 L234.4,235.36 L234.92,235.53 L235.45,235.7 L235.97,235.86 L236.5,236.04 L237.02,236.21 L237.54,236.38 L238.07,236.55 L238.59,236.72 L239.12,236.87 L239.64,237.02 L240.16,237.16 L240.69,237.3 L241.21,237.44 L241.74,237.57 L242.26,237.71 L242.78,237.85 L243.31,237.99 L243.83,238.11 L244.36,238.19 L244.88,238.23 L245.4,238.26 L245.93,238.29 L246.45,238.33 L246.98,238.41 L247.5,238.52" stroke="#ebe473"/>
<path d="M37.9,236.62 L38.42,236.48 L38.95,236.35 L39.47,236.23 L40,236.1 L40.52,235.97 L41.04,235.84 L41.57,235.7 L42.09,235.56 L42.62,235.43 L43.14,235.32 L43.66,235.23 L44.19,235.14 L44.71,235.05 L45.24,234.95 L45.76,234.84 L46.28,234.7 L46.81,234.55 L47.33,234.38 L47.86,234.19 L48.38,233.99 L48.9,233.8 L49.43,233.61 L49.95,233.43 L50.48,233.27 L51,233.11 L51.52,232.92 L52.05,232.73 L52.57,232.52 L53.1,232.31 L53.62,232.11 L54.14,231.92 L54.67,231.75 L55.19,231.6 L55.72,231.46 L56.24,231.32 L56.76,231.19 L57.29,231.05 L57.81,230.91 L58.34,230.76 L58.86,230.6 L59.38,230.43 L59.91,230.25 L60.43,230.06 L60.96,229.87 L61.48,229.67 L62,229.48 L62.53,229.29 L63.05,229.11 L63.58,228.95 L64.1,228.81 L64.62,228.69 L65.15,228.57 L65.67,228.46 L66.2,228.33 L66.72,228.19 L67.24,228.02 L67.77,227.82 L68.29,227.59 L68.82,227.33 L69.34,227.06 L69.86,226.79 L70.39,226.54 L70.91,226.3 L71.44,226.09 L71.96,225.9 L72.48,225.72 L73.01,225.55 L73.53,225.37 L74.06,225.2 L74.58,225.02 L75.1,224.83 L75.63,224.63 L76.15,224.43 L76.68,224.23 L77.2,224.03 L77.72,223.84 L78.25,223.64 L78.77,223.44 L79.3,223.23 L79.82,223.02 L80.34,222.8 L80.87,222.58 L81.39,222.35 L81.92,222.12 L82.44,221.88 L82.96,221.65 L83.49,221.42 L84.01,221.19 L84.54,220.99 L85.06,220.81 L85.58,220.66 L86.11,220.53 L86.63,220.39 L87.16,220.24 L87.68,220.06 L88.2,219.84 L88.73,219.58 L89.25,219.3 L89.78,219.01 L90.3,218.7 L90.82,218.39 L91.35,218.09 L91.87,217.8 L92.4,217.53 L92.92,217.28 L93.44,217.03 L93.97,216.78 L94.49,216.53 L95.02,216.27 L95.54,216.02 L96.06,215.75 L96.59,215.48 L97.11,215.19 L97.64,214.86 L98.16,214.49 L98.68,214.11 L99.21,213.73 L99.73,213.36 L100.26,213.01 L100.78,212.7 L101.3,212.42 L101.83,212.16 L102.35,211.92 L102.88,211.69 L103.4,211.46 L103.92,211.21 L104.45,210.94 L104.97,210.64 L105.5,210.33 L106.02,210.01 L106.54,209.7 L107.07,209.38 L107.59,209.06 L108.12,208.74 L108.64,208.4 L109.16,208.06 L109.69,207.71 L110.21,207.33 L110.74,206.93 L111.26,206.52 L111.78,206.11 L112.31,205.7 L112.83,205.3 L113.36,204.92 L113.88,204.55 L114.4,204.21 L114.93,203.88 L115.45,203.55 L115.98,203.22 L116.5,202.87 L117.02,202.5 L117.55,202.1 L118.07,201.66 L118.6,201.18 L119.12,200.67 L119.64,200.13 L120.17,199.59 L120.69,199.06 L121.22,198.55 L121.74,198.06 L122.26,197.6 L122.79,197.16 L123.31,196.73 L123.84,196.3 L124.36,195.87 L124.88,195.41 L125.41,194.93 L125.93,194.4 L126.46,193.85 L126.98,193.27 L127.5,192.68 L128.03,192.08 L128.55,191.46 L129.08,190.83 L129.6,190.2 L130.12,189.57 L130.65,188.93 L131.17,188.3 L131.7,187.66 L132.22,187.01 L132.74,186.34 L133.27,185.65 L133.79,184.95 L134.32,184.22 L134.84,183.47 L135.36,182.7 L135.89,181.93 L136.41,181.15 L136.94,180.38 L137.46,179.63 L137.98,178.89 L138.51,178.18 L139.03,177.49 L139.56,176.83 L140.08,176.2 L140.6,175.61 L141.13,175.05 L141.65,174.54 L141.66,174.54 L141.76,174.45 L141.87,174.35 L141.97,174.26 L142.08,174.18 L142.18,174.09 L142.18,174.09 L142.28,174.01 L142.39,173.93 L142.49,173.85 L142.6,173.78 L142.7,173.71 L142.7,173.71 L142.81,173.64 L142.91,173.58 L143.02,173.52 L143.12,173.46 L143.22,173.41 L143.23,173.4 L143.33,173.35 L143.44,173.3 L143.54,173.26 L143.65,173.22 L143.75,173.18 L143.75,173.18 L143.86,173.15 L143.96,173.12 L144.07,173.09 L144.17,173.07 L144.27,173.05 L144.28,173.05 L144.38,173.03 L144.49,173.02 L144.59,173.01 L144.7,173 L144.8,173 L144.8,173 L144.9,173 L145.01,173.01 L145.11,173.02 L145.22,173.03 L145.32,173.04 L145.32,173.04 L145.43,173.06 L145.53,173.09 L145.64,173.11 L145.74,173.14 L145.84,173.18 L145.85,173.18 L145.95,173.21 L146.06,173.26 L146.16,173.3 L146.27,173.35 L146.37,173.39 L146.37,173.4 L146.48,173.45 L146.58,173.51 L146.69,173.57 L146.79,173.63 L146.89,173.69 L146.9,173.7 L147,173.76 L147.11,173.84 L147.21,173.91 L147.32,173.99 L147.42,174.07 L147.42,174.07 L147.52,174.15 L147.63,174.24 L147.73,174.33 L147.84,174.42 L147.94,174.51 L147.94,174.52 L148.46,175.02 L148.99,175.59 L149.51,176.2 L150.04,176.86 L150.56,177.55 L151.08,178.26 L151.61,178.98 L152.13,179.72 L152.66,180.45 L153.18,181.19 L153.7,181.92 L154.23,182.66 L154.75,183.39 L155.28,184.11 L155.8,184.85 L156.32,185.58 L156.85,186.33 L157.37,187.07 L157.9,187.8 L158.42,188.51 L158.94,189.2 L159.47,189.85 L159.99,190.48 L160.52,191.08 L161.04,191.65 L161.56,192.2 L162.09,192.74 L162.61,193.28 L163.14,193.82 L163.66,194.37 L164.18,194.92 L164.71,195.46 L165.23,195.99 L165.76,196.52 L166.28,197.03 L166.8,197.54 L167.33,198.03 L167.85,198.52 L168.38,199 L168.9,199.46 L169.42,199.91 L169.95,200.36 L170.47,200.8 L171,201.23 L171.52,201.66 L172.04,202.09 L172.57,202.52 L173.09,202.94 L173.62,203.37 L174.14,203.79 L174.66,204.2 L175.19,204.61 L175.71,205.01 L176.24,205.4 L176.76,205.78 L177.28,206.16 L177.81,206.52 L178.33,206.88 L178.86,207.24 L179.38,207.59 L179.9,207.94 L180.43,208.3 L180.95,208.64 L181.48,208.98 L182,209.31 L182.52,209.64 L183.05,209.96 L183.57,210.28 L184.1,210.6 L184.62,210.93 L185.14,211.26 L185.67,211.61 L186.19,211.97 L186.72,212.33 L187.24,212.69 L187.76,213.04 L188.29,213.37 L188.81,213.68 L189.34,213.99 L189.86,214.3 L190.38,214.62 L190.91,214.93 L191.43,215.25 L191.96,215.56 L192.48,215.86 L193,216.14 L193.53,216.42 L194.05,216.7 L194.58,216.97 L195.1,217.25 L195.62,217.52 L196.15,217.79 L196.67,218.05 L197.2,218.32 L197.72,218.56 L198.24,218.78 L198.77,218.97 L199.29,219.15 L199.82,219.33 L200.34,219.52 L200.86,219.72 L201.39,219.95 L201.91,220.21 L202.44,220.47 L202.96,220.74 L203.48,221.02 L204.01,221.29 L204.53,221.56 L205.06,221.81 L205.58,222.05 L206.1,222.27 L206.63,222.46 L207.15,222.64 L207.68,222.82 L208.2,222.98 L208.72,223.16 L209.25,223.35 L209.77,223.56 L210.3,223.78 L210.82,224.01 L211.34,224.26 L211.87,224.51 L212.39,224.75 L212.92,224.99 L213.44,225.22 L213.96,225.43 L214.49,225.64 L215.01,225.87 L215.54,226.1 L216.06,226.34 L216.58,226.58 L217.11,226.81 L217.63,227.02 L218.16,227.23 L218.68,227.4 L219.2,227.56 L219.73,227.69 L220.25,227.81 L220.78,227.92 L221.3,228.05 L221.82,228.2 L222.35,228.37 L222.87,228.54 L223.4,228.71 L223.92,228.85 L224.44,229 L224.97,229.14 L225.49,229.28 L226.02,229.44 L226.54,229.61 L227.06,229.8 L227.59,230.01 L228.11,230.25 L228.64,230.5 L229.16,230.75 L229.68,230.99 L230.21,231.2 L230.73,231.38 L231.26,231.55 L231.78,231.73 L232.3,231.92 L232.83,232.11 L233.35,232.3 L233.88,232.49 L234.4,232.67 L234.92,232.83 L235.45,232.99 L235.97,233.14 L236.5,233.3 L237.02,233.45 L237.54,233.6 L238.07,233.76 L238.59,233.91 L239.12,234.06 L239.64,234.2 L240.16,234.31 L240.69,234.41 L241.21,234.5 L241.74,234.58 L242.26,234.67 L242.78,234.79 L243.31,234.92 L243.83,235.08 L244.36,235.25 L244.88,235.44 L245.4,235.64 L245.93,235.83 L246.45,236.02 L246.98,236.19 L247.5,236.34" stroke="#f4d275"/>
<path d="M37.9,234.43 L38.42,234.29 L38.95,234.14 L39.47,233.98 L40,233.82 L40.52,233.66 L41.04,233.5 L41.57,233.34 L42.09,233.2 L42.62,233.06 L43.14,232.92 L43.66,232.77 L44.19,232.62 L44.71,232.48 L45.24,232.33 L45.76,232.19 L46.28,232.04 L46.81,231.9 L47.33,231.76 L47.86,231.62 L48.38,231.48 L48.9,231.35 L49.43,231.21 L49.95,231.07 L50.48,230.92 L51,230.76 L51.52,230.6 L52.05,230.44 L52.57,230.27 L53.1,230.1 L53.62,229.93 L54.14,229.76 L54.67,229.6 L55.19,229.44 L55.72,229.27 L56.24,229.1 L56.76,228.93 L57.29,228.75 L57.81,228.58 L58.34,228.41 L58.86,228.24 L59.38,228.08 L59.91,227.93 L60.43,227.78 L60.96,227.64 L61.48,227.49 L62,227.34 L62.53,227.18 L63.05,227.02 L63.58,226.84 L64.1,226.67 L64.62,226.5 L65.15,226.33 L65.67,226.15 L66.2,225.98 L66.72,225.8 L67.24,225.62 L67.77,225.44 L68.29,225.28 L68.82,225.12 L69.34,224.97 L69.86,224.82 L70.39,224.65 L70.91,224.48 L71.44,224.3 L71.96,224.1 L72.48,223.89 L73.01,223.66 L73.53,223.42 L74.06,223.19 L74.58,222.96 L75.1,222.74 L75.63,222.53 L76.15,222.33 L76.68,222.13 L77.2,221.94 L77.72,221.75 L78.25,221.55 L78.77,221.36 L79.3,221.16 L79.82,220.95 L80.34,220.74 L80.87,220.53 L81.39,220.32 L81.92,220.11 L82.44,219.89 L82.96,219.68 L83.49,219.46 L84.01,219.24 L84.54,219.02 L85.06,218.8 L85.58,218.59 L86.11,218.37 L86.63,218.16 L87.16,217.94 L87.68,217.71 L88.2,217.48 L88.73,217.23 L89.25,216.97 L89.78,216.69 L90.3,216.4 L90.82,216.11 L91.35,215.83 L91.87,215.56 L92.4,215.3 L92.92,215.03 L93.44,214.74 L93.97,214.43 L94.49,214.11 L95.02,213.79 L95.54,213.47 L96.06,213.17 L96.59,212.89 L97.11,212.63 L97.64,212.39 L98.16,212.17 L98.68,211.96 L99.21,211.75 L99.73,211.52 L100.26,211.27 L100.78,211 L101.3,210.71 L101.83,210.42 L102.35,210.13 L102.88,209.85 L103.4,209.55 L103.92,209.26 L104.45,208.96 L104.97,208.65 L105.5,208.33 L106.02,208.01 L106.54,207.68 L107.07,207.35 L107.59,207.01 L108.12,206.67 L108.64,206.33 L109.16,205.99 L109.69,205.66 L110.21,205.33 L110.74,205.01 L111.26,204.69 L111.78,204.36 L112.31,204.03 L112.83,203.68 L113.36,203.32 L113.88,202.94 L114.4,202.55 L114.93,202.15 L115.45,201.74 L115.98,201.32 L116.5,200.91 L117.02,200.49 L117.55,200.08 L118.07,199.67 L118.6,199.26 L119.12,198.85 L119.64,198.44 L120.17,198.02 L120.69,197.6 L121.22,197.16 L121.74,196.7 L122.26,196.23 L122.79,195.75 L123.31,195.27 L123.84,194.78 L124.36,194.28 L124.88,193.77 L125.41,193.25 L125.93,192.72 L126.46,192.18 L126.98,191.62 L127.5,191.04 L128.03,190.45 L128.55,189.85 L129.08,189.24 L129.6,188.63 L130.12,188.02 L130.65,187.41 L131.17,186.78 L131.7,186.15 L132.22,185.5 L132.74,184.85 L133.27,184.19 L133.79,183.53 L134.32,182.86 L134.84,182.18 L135.36,181.51 L135.89,180.83 L136.41,180.16 L136.94,179.49 L137.46,178.82 L137.98,178.17 L138.51,177.52 L139.03,176.9 L139.56,176.31 L140.08,175.75 L140.6,175.22 L141.13,174.74 L141.65,174.3 L141.66,174.3 L141.76,174.22 L141.87,174.14 L141.97,174.06 L142.08,173.99 L142.18,173.92 L142.18,173.91 L142.28,173.85 L142.39,173.78 L142.49,173.71 L142.6,173.65 L142.7,173.59 L142.7,173.59 L142.81,173.54 L142.91,173.48 L143.02,173.43 L143.12,173.38 L143.22,173.34 L143.23,173.34 L143.33,173.29 L143.44,173.25 L143.54,173.22 L143.65,173.18 L143.75,173.15 L143.75,173.15 L143.86,173.12 L143.96,173.1 L144.07,173.07 L144.17,173.05 L144.27,173.04 L144.28,173.04 L144.38,173.02 L144.49,173.01 L144.59,173.01 L144.7,173 L144.8,173 L144.8,173 L144.9,173 L145.01,173.01 L145.11,173.01 L145.22,173.02 L145.32,173.04 L145.32,173.04 L145.43,173.05 L145.53,173.07 L145.64,173.1 L145.74,173.12 L145.84,173.15 L145.85,173.15 L145.95,173.18 L146.06,173.22 L146.16,173.25 L146.27,173.29 L146.37,173.33 L146.37,173.33 L146.48,173.38 L146.58,173.43 L146.69,173.48 L146.79,173.53 L146.89,173.59 L146.9,173.59 L147,173.65 L147.11,173.71 L147.21,173.77 L147.32,173.84 L147.42,173.91 L147.42,173.91 L147.52,173.98 L147.63,174.05 L147.73,174.13 L147.84,174.21 L147.94,174.29 L147.94,174.29 L148.46,174.72 L148.99,175.21 L149.51,175.75 L150.04,176.32 L150.56,176.93 L151.08,177.56 L151.61,178.21 L152.13,178.86 L152.66,179.52 L153.18,180.17 L153.7,180.83 L154.23,181.48 L154.75,182.14 L155.28,182.81 L155.8,183.48 L156.32,184.16 L156.85,184.84 L157.37,185.53 L157.9,186.21 L158.42,186.88 L158.94,187.52 L159.47,188.15 L159.99,188.76 L160.52,189.35 L161.04,189.93 L161.56,190.5 L162.09,191.06 L162.61,191.61 L163.14,192.15 L163.66,192.69 L164.18,193.22 L164.71,193.73 L165.23,194.22 L165.76,194.71 L166.28,195.18 L166.8,195.65 L167.33,196.12 L167.85,196.59 L168.38,197.05 L168.9,197.52 L169.42,197.98 L169.95,198.43 L170.47,198.88 L171,199.32 L171.52,199.75 L172.04,200.17 L172.57,200.6 L173.09,201.04 L173.62,201.49 L174.14,201.95 L174.66,202.4 L175.19,202.84 L175.71,203.26 L176.24,203.65 L176.76,204.01 L177.28,204.37 L177.81,204.71 L178.33,205.04 L178.86,205.36 L179.38,205.69 L179.9,206.02 L180.43,206.36 L180.95,206.7 L181.48,207.03 L182,207.35 L182.52,207.66 L183.05,207.97 L183.57,208.28 L184.1,208.59 L184.62,208.9 L185.14,209.23 L185.67,209.56 L186.19,209.91 L186.72,210.26 L187.24,210.61 L187.76,210.95 L188.29,211.27 L188.81,211.57 L189.34,211.87 L189.86,212.19 L190.38,212.51 L190.91,212.83 L191.43,213.15 L191.96,213.47 L192.48,213.77 L193,214.05 L193.53,214.31 L194.05,214.54 L194.58,214.74 L195.1,214.94 L195.62,215.13 L196.15,215.33 L196.67,215.55 L197.2,215.79 L197.72,216.04 L198.24,216.3 L198.77,216.55 L199.29,216.79 L199.82,217.04 L200.34,217.28 L200.86,217.53 L201.39,217.77 L201.91,218 L202.44,218.23 L202.96,218.46 L203.48,218.68 L204.01,218.89 L204.53,219.11 L205.06,219.33 L205.58,219.56 L206.1,219.78 L206.63,220.01 L207.15,220.24 L207.68,220.48 L208.2,220.71 L208.72,220.93 L209.25,221.15 L209.77,221.37 L210.3,221.58 L210.82,221.79 L211.34,222 L211.87,222.21 L212.39,222.41 L212.92,222.62 L213.44,222.82 L213.96,223.03 L214.49,223.23 L215.01,223.43 L215.54,223.62 L216.06,223.82 L216.58,224.01 L217.11,224.2 L217.63,224.39 L218.16,224.59 L218.68,224.77 L219.2,224.94 L219.73,225.1 L220.25,225.25 L220.78,225.4 L221.3,225.56 L221.82,225.72 L222.35,225.9 L222.87,226.09 L223.4,226.29 L223.92,226.49 L224.44,226.69 L224.97,226.9 L225.49,227.1 L226.02,227.29 L226.54,227.47 L227.06,227.64 L227.59,227.82 L228.11,227.99 L228.64,228.15 L229.16,228.32 L229.68,228.49 L230.21,228.66 L230.73,228.82 L231.26,228.99 L231.78,229.17 L232.3,229.36 L232.83,229.55 L233.35,229.74 L233.88,229.93 L234.4,230.11 L234.92,230.27 L235.45,230.42 L235.97,230.55 L236.5,230.67 L237.02,230.78 L237.54,230.89 L238.07,231 L238.59,231.13 L239.12,231.27 L239.64,231.43 L240.16,231.6 L240.69,231.79 L241.21,231.98 L241.74,232.17 L242.26,232.35 L242.78,232.52 L243.31,232.67 L243.83,232.81 L244.36,232.94 L244.88,233.06 L245.4,233.17 L245.93,233.29 L246.45,233.41 L246.98,233.53 L247.5,233.67" stroke="#f5b977"/>
<path d="M37.9,232.25 L38.42,232.12 L38.95,231.98 L39.47,231.85 L40,231.72 L40.52,231.58 L41.04,231.45 L41.57,231.31 L42.09,231.17 L42.62,231.04 L43.14,230.92 L43.66,230.81 L44.19,230.7 L44.71,230.6 L45.24,230.49 L45.76,230.36 L46.28,230.23 L46.81,230.07 L47.33,229.89 L47.86,229.7 L48.38,229.5 L48.9,229.3 L49.43,229.11 L49.95,228.93 L50.48,228.77 L51,228.62 L51.52,228.48 L52.05,228.34 L52.57,228.21 L53.1,228.07 L53.62,227.93 L54.14,227.79 L54.67,227.63 L55.19,227.48 L55.72,227.33 L56.24,227.19 L56.76,227.05 L57.29,226.91 L57.81,226.77 L58.34,226.62 L58.86,226.46 L59.38,226.29 L59.91,226.12 L60.43,225.95 L60.96,225.78 L61.48,225.61 L62,225.43 L62.53,225.26 L63.05,225.09 L63.58,224.92 L64.1,224.77 L64.62,224.63 L65.15,224.49 L65.67,224.36 L66.2,224.21 L66.72,224.06 L67.24,223.88 L67.77,223.69 L68.29,223.48 L68.82,223.24 L69.34,223 L69.86,222.76 L70.39,222.52 L70.91,222.3 L71.44,222.1 L71.96,221.92 L72.48,221.75 L73.01,221.6 L73.53,221.45 L74.06,221.3 L74.58,221.14 L75.1,220.97 L75.63,220.78 L76.15,220.57 L76.68,220.34 L77.2,220.1 L77.72,219.85 L78.25,219.59 L78.77,219.34 L79.3,219.11 L79.82,218.89 L80.34,218.68 L80.87,218.49 L81.39,218.31 L81.92,218.12 L82.44,217.94 L82.96,217.75 L83.49,217.55 L84.01,217.34 L84.54,217.11 L85.06,216.89 L85.58,216.67 L86.11,216.45 L86.63,216.22 L87.16,216 L87.68,215.77 L88.2,215.54 L88.73,215.3 L89.25,215.04 L89.78,214.78 L90.3,214.52 L90.82,214.25 L91.35,213.98 L91.87,213.72 L92.4,213.47 L92.92,213.22 L93.44,212.97 L93.97,212.72 L94.49,212.46 L95.02,212.21 L95.54,211.95 L96.06,211.69 L96.59,211.43 L97.11,211.17 L97.64,210.92 L98.16,210.67 L98.68,210.43 L99.21,210.19 L99.73,209.94 L100.26,209.68 L100.78,209.4 L101.3,209.11 L101.83,208.81 L102.35,208.49 L102.88,208.17 L103.4,207.85 L103.92,207.52 L104.45,207.2 L104.97,206.89 L105.5,206.58 L106.02,206.26 L106.54,205.93 L107.07,205.59 L107.59,205.25 L108.12,204.91 L108.64,204.57 L109.16,204.24 L109.69,203.91 L110.21,203.58 L110.74,203.26 L111.26,202.93 L111.78,202.6 L112.31,202.27 L112.83,201.92 L113.36,201.56 L113.88,201.2 L114.4,200.84 L114.93,200.49 L115.45,200.13 L115.98,199.78 L116.5,199.41 L117.02,199.03 L117.55,198.63 L118.07,198.21 L118.6,197.79 L119.12,197.34 L119.64,196.89 L120.17,196.43 L120.69,195.96 L121.22,195.5 L121.74,195.05 L122.26,194.59 L122.79,194.14 L123.31,193.68 L123.84,193.22 L124.36,192.75 L124.88,192.27 L125.41,191.77 L125.93,191.26 L126.46,190.74 L126.98,190.21 L127.5,189.66 L128.03,189.11 L128.55,188.54 L129.08,187.97 L129.6,187.39 L130.12,186.81 L130.65,186.22 L131.17,185.61 L131.7,185 L132.22,184.37 L132.74,183.74 L133.27,183.1 L133.79,182.47 L134.32,181.84 L134.84,181.21 L135.36,180.58 L135.89,179.96 L136.41,179.33 L136.94,178.72 L137.46,178.11 L137.98,177.52 L138.51,176.95 L139.03,176.4 L139.56,175.87 L140.08,175.37 L140.6,174.91 L141.13,174.49 L141.65,174.11 L141.66,174.11 L141.76,174.04 L141.87,173.97 L141.97,173.91 L142.08,173.84 L142.18,173.78 L142.18,173.78 L142.28,173.72 L142.39,173.66 L142.49,173.61 L142.6,173.56 L142.7,173.51 L142.7,173.5 L142.81,173.46 L142.91,173.41 L143.02,173.37 L143.12,173.33 L143.22,173.29 L143.23,173.29 L143.33,173.25 L143.44,173.22 L143.54,173.18 L143.65,173.15 L143.75,173.13 L143.75,173.13 L143.86,173.1 L143.96,173.08 L144.07,173.06 L144.17,173.05 L144.27,173.03 L144.28,173.03 L144.38,173.02 L144.49,173.01 L144.59,173.01 L144.7,173 L144.8,173 L144.8,173 L144.9,173 L145.01,173.01 L145.11,173.01 L145.22,173.02 L145.32,173.03 L145.32,173.03 L145.43,173.05 L145.53,173.06 L145.64,173.08 L145.74,173.1 L145.84,173.13 L145.85,173.13 L145.95,173.16 L146.06,173.19 L146.16,173.22 L146.27,173.25 L146.37,173.29 L146.37,173.29 L146.48,173.33 L146.58,173.37 L146.69,173.41 L146.79,173.46 L146.89,173.51 L146.9,173.51 L147,173.56 L147.11,173.61 L147.21,173.67 L147.32,173.73 L147.42,173.79 L147.42,173.79 L147.52,173.85 L147.63,173.91 L147.73,173.98 L147.84,174.05 L147.94,174.12 L147.94,174.12 L148.46,174.49 L148.99,174.91 L149.51,175.37 L150.04,175.86 L150.56,176.38 L151.08,176.93 L151.61,177.5 L152.13,178.1 L152.66,178.7 L153.18,179.33 L153.7,179.96 L154.23,180.59 L154.75,181.23 L155.28,181.86 L155.8,182.49 L156.32,183.13 L156.85,183.76 L157.37,184.38 L157.9,185 L158.42,185.61 L158.94,186.21 L159.47,186.8 L159.99,187.38 L160.52,187.94 L161.04,188.5 L161.56,189.04 L162.09,189.57 L162.61,190.1 L163.14,190.62 L163.66,191.14 L164.18,191.65 L164.71,192.13 L165.23,192.59 L165.76,193.04 L166.28,193.47 L166.8,193.91 L167.33,194.35 L167.85,194.81 L168.38,195.28 L168.9,195.77 L169.42,196.28 L169.95,196.8 L170.47,197.31 L171,197.81 L171.52,198.27 L172.04,198.7 L172.57,199.1 L173.09,199.51 L173.62,199.91 L174.14,200.31 L174.66,200.7 L175.19,201.09 L175.71,201.47 L176.24,201.84 L176.76,202.2 L177.28,202.52 L177.81,202.83 L178.33,203.12 L178.86,203.41 L179.38,203.71 L179.9,204.01 L180.43,204.34 L180.95,204.68 L181.48,205.04 L182,205.4 L182.52,205.76 L183.05,206.12 L183.57,206.48 L184.1,206.81 L184.62,207.13 L185.14,207.43 L185.67,207.71 L186.19,207.96 L186.72,208.21 L187.24,208.45 L187.76,208.7 L188.29,208.96 L188.81,209.24 L189.34,209.54 L189.86,209.86 L190.38,210.19 L190.91,210.52 L191.43,210.86 L191.96,211.18 L192.48,211.49 L193,211.77 L193.53,212.03 L194.05,212.29 L194.58,212.54 L195.1,212.79 L195.62,213.04 L196.15,213.28 L196.67,213.53 L197.2,213.78 L197.72,214.02 L198.24,214.25 L198.77,214.47 L199.29,214.68 L199.82,214.89 L200.34,215.1 L200.86,215.32 L201.39,215.55 L201.91,215.79 L202.44,216.02 L202.96,216.25 L203.48,216.48 L204.01,216.7 L204.53,216.93 L205.06,217.15 L205.58,217.38 L206.1,217.6 L206.63,217.83 L207.15,218.06 L207.68,218.29 L208.2,218.52 L208.72,218.74 L209.25,218.96 L209.77,219.17 L210.3,219.38 L210.82,219.59 L211.34,219.8 L211.87,220.01 L212.39,220.21 L212.92,220.41 L213.44,220.62 L213.96,220.82 L214.49,221.02 L215.01,221.22 L215.54,221.43 L216.06,221.65 L216.58,221.85 L217.11,222.06 L217.63,222.26 L218.16,222.45 L218.68,222.65 L219.2,222.84 L219.73,223.03 L220.25,223.23 L220.78,223.42 L221.3,223.61 L221.82,223.8 L222.35,223.98 L222.87,224.16 L223.4,224.34 L223.92,224.51 L224.44,224.68 L224.97,224.85 L225.49,225.02 L226.02,225.19 L226.54,225.36 L227.06,225.53 L227.59,225.68 L228.11,225.82 L228.64,225.95 L229.16,226.08 L229.68,226.21 L230.21,226.36 L230.73,226.52 L231.26,226.68 L231.78,226.86 L232.3,227.03 L232.83,227.21 L233.35,227.38 L233.88,227.56 L234.4,227.72 L234.92,227.88 L235.45,228.04 L235.97,228.21 L236.5,228.38 L237.02,228.56 L237.54,228.73 L238.07,228.9 L238.59,229.06 L239.12,229.21 L239.64,229.36 L240.16,229.51 L240.69,229.65 L241.21,229.79 L241.74,229.93 L242.26,230.07 L242.78,230.22 L243.31,230.36 L243.83,230.5 L244.36,230.64 L244.88,230.77 L245.4,230.9 L245.93,231.03 L246.45,231.16 L246.98,231.29 L247.5,231.43" stroke="#f4a175"/>
<path d="M37.9,230.64 L38.42,230.51 L38.95,230.37 L39.47,230.23 L40,230.08 L40.52,229.94 L41.04,229.8 L41.57,229.66 L42.09,229.52 L42.62,229.37 L43.14,229.23 L43.66,229.08 L44.19,228.93 L44.71,228.78 L45.24,228.63 L45.76,228.48 L46.28,228.33 L46.81,228.18 L47.33,228.03 L47.86,227.88 L48.38,227.72 L48.9,227.56 L49.43,227.4 L49.95,227.25 L50.48,227.1 L51,226.94 L51.52,226.79 L52.05,226.63 L52.57,226.47 L53.1,226.31 L53.62,226.15 L54.14,225.99 L54.67,225.83 L55.19,225.67 L55.72,225.51 L56.24,225.35 L56.76,225.19 L57.29,225.02 L57.81,224.86 L58.34,224.69 L58.86,224.53 L59.38,224.37 L59.91,224.2 L60.43,224.04 L60.96,223.88 L61.48,223.71 L62,223.54 L62.53,223.38 L63.05,223.21 L63.58,223.04 L64.1,222.87 L64.62,222.71 L65.15,222.55 L65.67,222.39 L66.2,222.23 L66.72,222.06 L67.24,221.88 L67.77,221.69 L68.29,221.47 L68.82,221.23 L69.34,220.99 L69.86,220.74 L70.39,220.5 L70.91,220.27 L71.44,220.07 L71.96,219.89 L72.48,219.73 L73.01,219.58 L73.53,219.44 L74.06,219.29 L74.58,219.14 L75.1,218.97 L75.63,218.78 L76.15,218.58 L76.68,218.38 L77.2,218.18 L77.72,217.97 L78.25,217.76 L78.77,217.55 L79.3,217.34 L79.82,217.13 L80.34,216.92 L80.87,216.69 L81.39,216.45 L81.92,216.21 L82.44,215.97 L82.96,215.73 L83.49,215.49 L84.01,215.27 L84.54,215.06 L85.06,214.85 L85.58,214.64 L86.11,214.44 L86.63,214.24 L87.16,214.03 L87.68,213.81 L88.2,213.59 L88.73,213.35 L89.25,213.13 L89.78,212.9 L90.3,212.67 L90.82,212.43 L91.35,212.2 L91.87,211.96 L92.4,211.72 L92.92,211.47 L93.44,211.23 L93.97,210.98 L94.49,210.73 L95.02,210.48 L95.54,210.23 L96.06,209.97 L96.59,209.71 L97.11,209.44 L97.64,209.16 L98.16,208.86 L98.68,208.56 L99.21,208.25 L99.73,207.95 L100.26,207.65 L100.78,207.36 L101.3,207.09 L101.83,206.84 L102.35,206.61 L102.88,206.38 L103.4,206.16 L103.92,205.91 L104.45,205.65 L104.97,205.36 L105.5,205.06 L106.02,204.75 L106.54,204.44 L107.07,204.12 L107.59,203.8 L108.12,203.48 L108.64,203.15 L109.16,202.83 L109.69,202.49 L110.21,202.14 L110.74,201.78 L111.26,201.42 L111.78,201.05 L112.31,200.68 L112.83,200.31 L113.36,199.95 L113.88,199.6 L114.4,199.26 L114.93,198.93 L115.45,198.6 L115.98,198.27 L116.5,197.92 L117.02,197.56 L117.55,197.17 L118.07,196.77 L118.6,196.34 L119.12,195.91 L119.64,195.47 L120.17,195.01 L120.69,194.56 L121.22,194.11 L121.74,193.66 L122.26,193.21 L122.79,192.73 L123.31,192.23 L123.84,191.72 L124.36,191.21 L124.88,190.69 L125.41,190.17 L125.93,189.67 L126.46,189.17 L126.98,188.68 L127.5,188.19 L128.03,187.7 L128.55,187.2 L129.08,186.69 L129.6,186.16 L130.12,185.61 L130.65,185.05 L131.17,184.47 L131.7,183.89 L132.22,183.3 L132.74,182.7 L133.27,182.11 L133.79,181.52 L134.32,180.93 L134.84,180.35 L135.36,179.77 L135.89,179.18 L136.41,178.61 L136.94,178.05 L137.46,177.5 L137.98,176.97 L138.51,176.45 L139.03,175.96 L139.56,175.5 L140.08,175.07 L140.6,174.67 L141.13,174.3 L141.65,173.97 L141.66,173.97 L141.76,173.91 L141.87,173.85 L141.97,173.79 L142.08,173.73 L142.18,173.68 L142.18,173.68 L142.28,173.63 L142.39,173.58 L142.49,173.53 L142.6,173.48 L142.7,173.44 L142.7,173.44 L142.81,173.4 L142.91,173.36 L143.02,173.32 L143.12,173.28 L143.22,173.25 L143.23,173.25 L143.33,173.22 L143.44,173.19 L143.54,173.16 L143.65,173.13 L143.75,173.11 L143.75,173.11 L143.86,173.09 L143.96,173.07 L144.07,173.05 L144.17,173.04 L144.27,173.03 L144.28,173.03 L144.38,173.02 L144.49,173.01 L144.59,173 L144.7,173 L144.8,173 L144.8,173 L144.9,173 L145.01,173 L145.11,173.01 L145.22,173.02 L145.32,173.03 L145.32,173.03 L145.43,173.04 L145.53,173.05 L145.64,173.07 L145.74,173.09 L145.84,173.11 L145.85,173.11 L145.95,173.13 L146.06,173.16 L146.16,173.19 L146.27,173.22 L146.37,173.25 L146.37,173.25 L146.48,173.28 L146.58,173.32 L146.69,173.35 L146.79,173.39 L146.89,173.43 L146.9,173.43 L147,173.48 L147.11,173.52 L147.21,173.57 L147.32,173.62 L147.42,173.67 L147.42,173.67 L147.52,173.73 L147.63,173.78 L147.73,173.84 L147.84,173.9 L147.94,173.96 L147.94,173.96 L148.46,174.29 L148.99,174.66 L149.51,175.07 L150.04,175.51 L150.56,175.99 L151.08,176.48 L151.61,177 L152.13,177.54 L152.66,178.1 L153.18,178.67 L153.7,179.25 L154.23,179.84 L154.75,180.43 L155.28,181.03 L155.8,181.62 L156.32,182.21 L156.85,182.78 L157.37,183.36 L157.9,183.91 L158.42,184.47 L158.94,185.03 L159.47,185.59 L159.99,186.14 L160.52,186.69 L161.04,187.22 L161.56,187.75 L162.09,188.28 L162.61,188.79 L163.14,189.3 L163.66,189.81 L164.18,190.31 L164.71,190.8 L165.23,191.29 L165.76,191.78 L166.28,192.25 L166.8,192.72 L167.33,193.18 L167.85,193.63 L168.38,194.08 L168.9,194.52 L169.42,194.95 L169.95,195.38 L170.47,195.8 L171,196.22 L171.52,196.63 L172.04,197.04 L172.57,197.42 L173.09,197.8 L173.62,198.15 L174.14,198.5 L174.66,198.84 L175.19,199.18 L175.71,199.53 L176.24,199.89 L176.76,200.24 L177.28,200.6 L177.81,200.94 L178.33,201.28 L178.86,201.62 L179.38,201.96 L179.9,202.29 L180.43,202.62 L180.95,202.95 L181.48,203.28 L182,203.62 L182.52,203.95 L183.05,204.27 L183.57,204.6 L184.1,204.91 L184.62,205.22 L185.14,205.53 L185.67,205.83 L186.19,206.14 L186.72,206.45 L187.24,206.76 L187.76,207.06 L188.29,207.35 L188.81,207.64 L189.34,207.92 L189.86,208.21 L190.38,208.5 L190.91,208.8 L191.43,209.09 L191.96,209.38 L192.48,209.66 L193,209.92 L193.53,210.19 L194.05,210.44 L194.58,210.7 L195.1,210.95 L195.62,211.2 L196.15,211.44 L196.67,211.69 L197.2,211.94 L197.72,212.19 L198.24,212.43 L198.77,212.68 L199.29,212.93 L199.82,213.17 L200.34,213.42 L200.86,213.65 L201.39,213.89 L201.91,214.12 L202.44,214.33 L202.96,214.53 L203.48,214.73 L204.01,214.93 L204.53,215.13 L205.06,215.33 L205.58,215.55 L206.1,215.76 L206.63,215.97 L207.15,216.18 L207.68,216.38 L208.2,216.57 L208.72,216.77 L209.25,216.97 L209.77,217.18 L210.3,217.39 L210.82,217.59 L211.34,217.8 L211.87,218 L212.39,218.2 L212.92,218.4 L213.44,218.6 L213.96,218.8 L214.49,219 L215.01,219.21 L215.54,219.42 L216.06,219.64 L216.58,219.85 L217.11,220.06 L217.63,220.26 L218.16,220.45 L218.68,220.64 L219.2,220.83 L219.73,221.02 L220.25,221.22 L220.78,221.41 L221.3,221.59 L221.82,221.78 L222.35,221.96 L222.87,222.14 L223.4,222.31 L223.92,222.48 L224.44,222.64 L224.97,222.8 L225.49,222.96 L226.02,223.13 L226.54,223.3 L227.06,223.47 L227.59,223.64 L228.11,223.81 L228.64,223.98 L229.16,224.15 L229.68,224.32 L230.21,224.48 L230.73,224.65 L231.26,224.81 L231.78,224.96 L232.3,225.12 L232.83,225.27 L233.35,225.42 L233.88,225.57 L234.4,225.72 L234.92,225.88 L235.45,226.03 L235.97,226.17 L236.5,226.31 L237.02,226.45 L237.54,226.58 L238.07,226.72 L238.59,226.86 L239.12,227.01 L239.64,227.17 L240.16,227.34 L240.69,227.53 L241.21,227.72 L241.74,227.92 L242.26,228.1 L242.78,228.28 L243.31,228.43 L243.83,228.56 L244.36,228.67 L244.88,228.76 L245.4,228.85 L245.93,228.93 L246.45,229.02 L246.98,229.12 L247.5,229.25" stroke="#e57f6c"/>
<path d="M37.9,228.69 L38.42,228.56 L38.95,228.44 L39.47,228.33 L40,228.21 L40.52,228.1 L41.04,227.98 L41.57,227.86 L42.09,227.73 L42.62,227.57 L43.14,227.4 L43.66,227.2 L44.19,227 L44.71,226.79 L45.24,226.59 L45.76,226.42 L46.28,226.26 L46.81,226.12 L47.33,226 L47.86,225.9 L48.38,225.8 L48.9,225.69 L49.43,225.59 L49.95,225.46 L50.48,225.32 L51,225.17 L51.52,225.03 L52.05,224.89 L52.57,224.75 L53.1,224.61 L53.62,224.46 L54.14,224.31 L54.67,224.16 L55.19,223.99 L55.72,223.8 L56.24,223.6 L56.76,223.38 L57.29,223.17 L57.81,222.96 L58.34,222.76 L58.86,222.59 L59.38,222.44 L59.91,222.29 L60.43,222.16 L60.96,222.04 L61.48,221.91 L62,221.78 L62.53,221.64 L63.05,221.48 L63.58,221.3 L64.1,221.13 L64.62,220.95 L65.15,220.78 L65.67,220.6 L66.2,220.42 L66.72,220.24 L67.24,220.06 L67.77,219.89 L68.29,219.71 L68.82,219.54 L69.34,219.37 L69.86,219.2 L70.39,219.03 L70.91,218.85 L71.44,218.67 L71.96,218.48 L72.48,218.3 L73.01,218.12 L73.53,217.95 L74.06,217.77 L74.58,217.59 L75.1,217.4 L75.63,217.21 L76.15,217.02 L76.68,216.83 L77.2,216.64 L77.72,216.45 L78.25,216.26 L78.77,216.07 L79.3,215.87 L79.82,215.67 L80.34,215.46 L80.87,215.24 L81.39,215.01 L81.92,214.77 L82.44,214.54 L82.96,214.3 L83.49,214.07 L84.01,213.85 L84.54,213.63 L85.06,213.39 L85.58,213.14 L86.11,212.88 L86.63,212.62 L87.16,212.37 L87.68,212.12 L88.2,211.89 L88.73,211.66 L89.25,211.44 L89.78,211.23 L90.3,211.02 L90.82,210.8 L91.35,210.58 L91.87,210.36 L92.4,210.12 L92.92,209.88 L93.44,209.64 L93.97,209.4 L94.49,209.16 L95.02,208.92 L95.54,208.68 L96.06,208.43 L96.59,208.17 L97.11,207.91 L97.64,207.63 L98.16,207.35 L98.68,207.06 L99.21,206.76 L99.73,206.47 L100.26,206.18 L100.78,205.9 L101.3,205.63 L101.83,205.37 L102.35,205.12 L102.88,204.88 L103.4,204.63 L103.92,204.37 L104.45,204.1 L104.97,203.81 L105.5,203.5 L106.02,203.17 L106.54,202.83 L107.07,202.47 L107.59,202.12 L108.12,201.76 L108.64,201.42 L109.16,201.09 L109.69,200.77 L110.21,200.45 L110.74,200.14 L111.26,199.84 L111.78,199.52 L112.31,199.2 L112.83,198.87 L113.36,198.53 L113.88,198.17 L114.4,197.82 L114.93,197.47 L115.45,197.12 L115.98,196.76 L116.5,196.4 L117.02,196.02 L117.55,195.64 L118.07,195.24 L118.6,194.82 L119.12,194.4 L119.64,193.96 L120.17,193.51 L120.69,193.07 L121.22,192.63 L121.74,192.19 L122.26,191.75 L122.79,191.31 L123.31,190.86 L123.84,190.41 L124.36,189.95 L124.88,189.49 L125.41,189.01 L125.93,188.53 L126.46,188.05 L126.98,187.56 L127.5,187.08 L128.03,186.59 L128.55,186.09 L129.08,185.59 L129.6,185.07 L130.12,184.55 L130.65,184.01 L131.17,183.47 L131.7,182.92 L132.22,182.36 L132.74,181.81 L133.27,181.25 L133.79,180.7 L134.32,180.16 L134.84,179.61 L135.36,179.07 L135.89,178.54 L136.41,178.01 L136.94,177.49 L137.46,176.99 L137.98,176.51 L138.51,176.05 L139.03,175.61 L139.56,175.2 L140.08,174.81 L140.6,174.45 L141.13,174.12 L141.65,173.83 L141.66,173.83 L141.76,173.78 L141.87,173.73 L141.97,173.68 L142.08,173.63 L142.18,173.59 L142.18,173.58 L142.28,173.54 L142.39,173.5 L142.49,173.45 L142.6,173.41 L142.7,173.38 L142.7,173.38 L142.81,173.34 L142.91,173.31 L143.02,173.27 L143.12,173.24 L143.22,173.21 L143.23,173.21 L143.33,173.19 L143.44,173.16 L143.54,173.14 L143.65,173.12 L143.75,173.1 L143.75,173.1 L143.86,173.08 L143.96,173.06 L144.07,173.05 L144.17,173.03 L144.27,173.02 L144.28,173.02 L144.38,173.02 L144.49,173.01 L144.59,173 L144.7,173 L144.8,173 L144.8,173 L144.9,173 L145.01,173 L145.11,173.01 L145.22,173.02 L145.32,173.02 L145.32,173.02 L145.43,173.03 L145.53,173.05 L145.64,173.06 L145.74,173.08 L145.84,173.1 L145.85,173.1 L145.95,173.12 L146.06,173.14 L146.16,173.16 L146.27,173.19 L146.37,173.22 L146.37,173.22 L146.48,173.25 L146.58,173.28 L146.69,173.31 L146.79,173.35 L146.89,173.38 L146.9,173.38 L147,173.42 L147.11,173.46 L147.21,173.5 L147.32,173.55 L147.42,173.59 L147.42,173.59 L147.52,173.64 L147.63,173.69 L147.73,173.74 L147.84,173.79 L147.94,173.85 L147.94,173.85 L148.46,174.14 L148.99,174.48 L149.51,174.85 L150.04,175.25 L150.56,175.68 L151.08,176.14 L151.61,176.61 L152.13,177.09 L152.66,177.56 L153.18,178.04 L153.7,178.52 L154.23,179 L154.75,179.5 L155.28,180.02 L155.8,180.55 L156.32,181.11 L156.85,181.68 L157.37,182.26 L157.9,182.85 L158.42,183.42 L158.94,183.99 L159.47,184.53 L159.99,185.06 L160.52,185.59 L161.04,186.11 L161.56,186.62 L162.09,187.13 L162.61,187.63 L163.14,188.13 L163.66,188.62 L164.18,189.1 L164.71,189.56 L165.23,190.02 L165.76,190.46 L166.28,190.9 L166.8,191.34 L167.33,191.77 L167.85,192.21 L168.38,192.64 L168.9,193.08 L169.42,193.51 L169.95,193.94 L170.47,194.37 L171,194.79 L171.52,195.19 L172.04,195.59 L172.57,195.97 L173.09,196.34 L173.62,196.69 L174.14,197.04 L174.66,197.38 L175.19,197.72 L175.71,198.06 L176.24,198.41 L176.76,198.77 L177.28,199.14 L177.81,199.53 L178.33,199.91 L178.86,200.29 L179.38,200.66 L179.9,201.02 L180.43,201.35 L180.95,201.67 L181.48,201.98 L182,202.27 L182.52,202.56 L183.05,202.85 L183.57,203.14 L184.1,203.43 L184.62,203.73 L185.14,204.03 L185.67,204.34 L186.19,204.64 L186.72,204.95 L187.24,205.26 L187.76,205.56 L188.29,205.85 L188.81,206.14 L189.34,206.4 L189.86,206.64 L190.38,206.87 L190.91,207.08 L191.43,207.3 L191.96,207.51 L192.48,207.75 L193,208 L193.53,208.26 L194.05,208.54 L194.58,208.82 L195.1,209.11 L195.62,209.39 L196.15,209.67 L196.67,209.93 L197.2,210.18 L197.72,210.42 L198.24,210.65 L198.77,210.86 L199.29,211.07 L199.82,211.28 L200.34,211.49 L200.86,211.71 L201.39,211.94 L201.91,212.16 L202.44,212.39 L202.96,212.61 L203.48,212.82 L204.01,213.04 L204.53,213.26 L205.06,213.47 L205.58,213.69 L206.1,213.92 L206.63,214.16 L207.15,214.41 L207.68,214.68 L208.2,214.94 L208.72,215.19 L209.25,215.43 L209.77,215.64 L210.3,215.84 L210.82,216.04 L211.34,216.22 L211.87,216.4 L212.39,216.58 L212.92,216.77 L213.44,216.95 L213.96,217.15 L214.49,217.34 L215.01,217.52 L215.54,217.7 L216.06,217.87 L216.58,218.04 L217.11,218.21 L217.63,218.39 L218.16,218.57 L218.68,218.76 L219.2,218.95 L219.73,219.15 L220.25,219.34 L220.78,219.54 L221.3,219.73 L221.82,219.92 L222.35,220.1 L222.87,220.28 L223.4,220.45 L223.92,220.63 L224.44,220.81 L224.97,220.99 L225.49,221.16 L226.02,221.33 L226.54,221.51 L227.06,221.67 L227.59,221.83 L228.11,221.98 L228.64,222.13 L229.16,222.27 L229.68,222.42 L230.21,222.58 L230.73,222.73 L231.26,222.9 L231.78,223.06 L232.3,223.22 L232.83,223.37 L233.35,223.53 L233.88,223.69 L234.4,223.84 L234.92,224 L235.45,224.16 L235.97,224.33 L236.5,224.51 L237.02,224.69 L237.54,224.88 L238.07,225.05 L238.59,225.22 L239.12,225.38 L239.64,225.52 L240.16,225.67 L240.69,225.81 L241.21,225.95 L241.74,226.08 L242.26,226.22 L242.78,226.36 L243.31,226.5 L243.83,226.64 L244.36,226.78 L244.88,226.91 L245.4,227.03 L245.93,227.16 L246.45,227.29 L246.98,227.42 L247.5,227.55" stroke="#d2655e"/>
</g>
<rect x="37.9" y="173" width="209.6" height="138" fill="none" stroke="#262626" stroke-width="1"/>
<line x1="37.9" y1="173" x2="39.9" y2="173" stroke="#262626" stroke-width="0.8"/>
<line x1="247.5" y1="173" x2="245.5" y2="173" stroke="#262626" stroke-width="0.8"/>
<line x1="37.9" y1="207.5" x2="39.9" y2="207.5" stroke="#262626" stroke-width="0.8"/>
<line x1="247.5" y1="207.5" x2="245.5" y2="207.5" stroke="#262626" stroke-width="0.8"/>
<line x1="37.9" y1="242" x2="39.9" y2="242" stroke="#262626" stroke-width="0.8"/>
<line x1="247.5" y1="242" x2="245.5" y2="242" stroke="#262626" stroke-width="0.8"/>
<line x1="37.9" y1="276.5" x2="39.9" y2="276.5" stroke="#262626" stroke-width="0.8"/>
<line x1="247.5" y1="276.5" x2="245.5" y2="276.5" stroke="#262626" stroke-width="0.8"/>
<line x1="37.9" y1="311" x2="39.9" y2="311" stroke="#262626" stroke-width="0.8"/>
<line x1="247.5" y1="311" x2="245.5" y2="311" stroke="#262626" stroke-width="0.8"/>
<line x1="37.9" y1="311" x2="37.9" y2="309" stroke="#262626" stroke-width="0.8"/>
<line x1="37.9" y1="173" x2="37.9" y2="175" stroke="#262626" stroke-width="0.8"/>
<line x1="142.7" y1="311" x2="142.7" y2="309" stroke="#262626" stroke-width="0.8"/>
<line x1="142.7" y1="173" x2="142.7" y2="175" stroke="#262626" stroke-width="0.8"/>
<line x1="247.5" y1="311" x2="247.5" y2="309" stroke="#262626" stroke-width="0.8"/>
<line x1="247.5" y1="173" x2="247.5" y2="175" stroke="#262626" stroke-width="0.8"/>
<rect x="37.9" y="266.3" width="209.6" height="44.7" fill="#fff" stroke="#262626" stroke-width="1.2"/>
<line x1="39.8" y1="272.5" x2="56.8" y2="272.5" stroke="#464646" stroke-width="1.3" stroke-opacity="0.8"/>
<text x="57.7" y="275.5" font-size="8.3" font-weight="normal" text-anchor="start" fill="#1a1a1a">20 GHz</text>
<line x1="39.8" y1="283.3" x2="56.8" y2="283.3" stroke="#67679a" stroke-width="1.3" stroke-opacity="0.8"/>
<text x="57.7" y="286.3" font-size="8.3" font-weight="normal" text-anchor="start" fill="#1a1a1a">30 GHz</text>
<line x1="39.8" y1="294.3" x2="56.8" y2="294.3" stroke="#8080cc" stroke-width="1.3" stroke-opacity="0.8"/>
<text x="57.7" y="297.3" font-size="8.3" font-weight="normal" text-anchor="start" fill="#1a1a1a">40 GHz</text>
<line x1="39.8" y1="305" x2="56.8" y2="305" stroke="#6aa2e2" stroke-width="1.3" stroke-opacity="0.8"/>
<text x="57.7" y="308" font-size="8.3" font-weight="normal" text-anchor="start" fill="#1a1a1a">50 GHz</text>
<line x1="91" y1="272.5" x2="107.2" y2="272.5" stroke="#52c2e2" stroke-width="1.3" stroke-opacity="0.8"/>
<text x="108.7" y="275.5" font-size="8.3" font-weight="normal" text-anchor="start" fill="#1a1a1a">60 GHz</text>
<line x1="91" y1="283.3" x2="107.2" y2="283.3" stroke="#52d4c4" stroke-width="1.3" stroke-opacity="0.8"/>
<text x="108.7" y="286.3" font-size="8.3" font-weight="normal" text-anchor="start" fill="#1a1a1a">70 GHz</text>
<line x1="91" y1="294.3" x2="107.2" y2="294.3" stroke="#86dc88" stroke-width="1.3" stroke-opacity="0.8"/>
<text x="108.7" y="297.3" font-size="8.3" font-weight="normal" text-anchor="start" fill="#1a1a1a">80 GHz</text>
<line x1="91" y1="305" x2="107.2" y2="305" stroke="#c0e468" stroke-width="1.3" stroke-opacity="0.8"/>
<text x="108.7" y="308" font-size="8.3" font-weight="normal" text-anchor="start" fill="#1a1a1a">90 GHz</text>
<line x1="143.5" y1="272.5" x2="158.3" y2="272.5" stroke="#e8e060" stroke-width="1.3" stroke-opacity="0.8"/>
<text x="159.5" y="275.5" font-size="8.3" font-weight="normal" text-anchor="start" fill="#1a1a1a">100 GHz</text>
<line x1="143.5" y1="283.3" x2="158.3" y2="283.3" stroke="#f2cc62" stroke-width="1.3" stroke-opacity="0.8"/>
<text x="159.5" y="286.3" font-size="8.3" font-weight="normal" text-anchor="start" fill="#1a1a1a">110 GHz</text>
<line x1="143.5" y1="294.3" x2="158.3" y2="294.3" stroke="#f4b064" stroke-width="1.3" stroke-opacity="0.8"/>
<text x="159.5" y="297.3" font-size="8.3" font-weight="normal" text-anchor="start" fill="#1a1a1a">120 GHz</text>
<line x1="143.5" y1="305" x2="158.3" y2="305" stroke="#f29462" stroke-width="1.3" stroke-opacity="0.8"/>
<text x="159.5" y="308" font-size="8.3" font-weight="normal" text-anchor="start" fill="#1a1a1a">130 GHz</text>
<line x1="196" y1="272.5" x2="212.2" y2="272.5" stroke="#e26e58" stroke-width="1.3" stroke-opacity="0.8"/>
<text x="213.7" y="275.5" font-size="8.3" font-weight="normal" text-anchor="start" fill="#1a1a1a">140 GHz</text>
<line x1="196" y1="283.3" x2="212.2" y2="283.3" stroke="#cc5048" stroke-width="1.3" stroke-opacity="0.8"/>
<text x="213.7" y="286.3" font-size="8.3" font-weight="normal" text-anchor="start" fill="#1a1a1a">150 GHz</text>
<text x="201" y="305.3" font-size="13" font-weight="bold" fill="#000">Δλ<tspan font-size="8.5" dy="2.3">FWHM</tspan></text>
<text x="240.6" y="184.3" font-size="13.2" font-weight="bold" text-anchor="end" fill="#000">TBF</text>
<text x="34.9" y="176.6" font-size="8.8" font-weight="normal" text-anchor="end" fill="#3a3a3a">0</text>
<text x="34.9" y="211.1" font-size="8.8" font-weight="normal" text-anchor="end" fill="#3a3a3a">-10</text>
<text x="34.9" y="245.6" font-size="8.8" font-weight="normal" text-anchor="end" fill="#3a3a3a">-20</text>
<text x="34.9" y="280.1" font-size="8.8" font-weight="normal" text-anchor="end" fill="#3a3a3a">-30</text>
<text x="34.9" y="314.6" font-size="8.8" font-weight="normal" text-anchor="end" fill="#3a3a3a">-40</text>
<text x="38.2" y="324" font-size="8.8" font-weight="normal" text-anchor="middle" fill="#3a3a3a">1545</text>
<text x="143" y="324" font-size="8.8" font-weight="normal" text-anchor="middle" fill="#3a3a3a">1550</text>
<text x="247.8" y="324" font-size="8.8" font-weight="normal" text-anchor="middle" fill="#3a3a3a">1555</text>
<text x="143.2" y="337" font-size="10.2" font-weight="normal" text-anchor="middle" fill="#3a3a3a">Wavelength [nm]</text>
<text transform="translate(17.2,241.9) rotate(-90)" x="0" y="0" font-size="10" text-anchor="middle" fill="#3a3a3a">Normalized Transmission [dB]</text>
<text x="296" y="170" font-size="12.5" font-weight="bold" text-anchor="start" fill="#000">c)</text>
<g clip-path="url(#clipc)">
<line x1="320.5" y1="304.36" x2="500" y2="304.36" stroke="#aaaaaa" stroke-width="0.8" stroke-dasharray="1,1"/>
<line x1="320.5" y1="300.65" x2="500" y2="300.65" stroke="#aaaaaa" stroke-width="0.8" stroke-dasharray="1,1"/>
<line x1="320.5" y1="298.01" x2="500" y2="298.01" stroke="#aaaaaa" stroke-width="0.8" stroke-dasharray="1,1"/>
<line x1="320.5" y1="295.97" x2="500" y2="295.97" stroke="#aaaaaa" stroke-width="0.8" stroke-dasharray="1,1"/>
<line x1="320.5" y1="294.3" x2="500" y2="294.3" stroke="#aaaaaa" stroke-width="0.8" stroke-dasharray="1,1"/>
<line x1="320.5" y1="292.89" x2="500" y2="292.89" stroke="#aaaaaa" stroke-width="0.8" stroke-dasharray="1,1"/>
<line x1="320.5" y1="291.67" x2="500" y2="291.67" stroke="#aaaaaa" stroke-width="0.8" stroke-dasharray="1,1"/>
<line x1="320.5" y1="290.59" x2="500" y2="290.59" stroke="#aaaaaa" stroke-width="0.8" stroke-dasharray="1,1"/>
<line x1="320.5" y1="283.29" x2="500" y2="283.29" stroke="#aaaaaa" stroke-width="0.8" stroke-dasharray="1,1"/>
<line x1="320.5" y1="279.58" x2="500" y2="279.58" stroke="#aaaaaa" stroke-width="0.8" stroke-dasharray="1,1"/>
<line x1="320.5" y1="276.94" x2="500" y2="276.94" stroke="#aaaaaa" stroke-width="0.8" stroke-dasharray="1,1"/>
<line x1="320.5" y1="274.9" x2="500" y2="274.9" stroke="#aaaaaa" stroke-width="0.8" stroke-dasharray="1,1"/>
<line x1="320.5" y1="273.23" x2="500" y2="273.23" stroke="#aaaaaa" stroke-width="0.8" stroke-dasharray="1,1"/>
<line x1="320.5" y1="271.82" x2="500" y2="271.82" stroke="#aaaaaa" stroke-width="0.8" stroke-dasharray="1,1"/>
<line x1="320.5" y1="270.6" x2="500" y2="270.6" stroke="#aaaaaa" stroke-width="0.8" stroke-dasharray="1,1"/>
<line x1="320.5" y1="269.52" x2="500" y2="269.52" stroke="#aaaaaa" stroke-width="0.8" stroke-dasharray="1,1"/>
<line x1="320.5" y1="262.22" x2="500" y2="262.22" stroke="#aaaaaa" stroke-width="0.8" stroke-dasharray="1,1"/>
<line x1="320.5" y1="258.51" x2="500" y2="258.51" stroke="#aaaaaa" stroke-width="0.8" stroke-dasharray="1,1"/>
<line x1="320.5" y1="255.87" x2="500" y2="255.87" stroke="#aaaaaa" stroke-width="0.8" stroke-dasharray="1,1"/>
<line x1="320.5" y1="253.83" x2="500" y2="253.83" stroke="#aaaaaa" stroke-width="0.8" stroke-dasharray="1,1"/>
<line x1="320.5" y1="252.16" x2="500" y2="252.16" stroke="#aaaaaa" stroke-width="0.8" stroke-dasharray="1,1"/>
<line x1="320.5" y1="250.75" x2="500" y2="250.75" stroke="#aaaaaa" stroke-width="0.8" stroke-dasharray="1,1"/>
<line x1="320.5" y1="249.53" x2="500" y2="249.53" stroke="#aaaaaa" stroke-width="0.8" stroke-dasharray="1,1"/>
<line x1="320.5" y1="248.45" x2="500" y2="248.45" stroke="#aaaaaa" stroke-width="0.8" stroke-dasharray="1,1"/>
<line x1="320.5" y1="241.15" x2="500" y2="241.15" stroke="#aaaaaa" stroke-width="0.8" stroke-dasharray="1,1"/>
<line x1="320.5" y1="237.44" x2="500" y2="237.44" stroke="#aaaaaa" stroke-width="0.8" stroke-dasharray="1,1"/>
<line x1="320.5" y1="234.8" x2="500" y2="234.8" stroke="#aaaaaa" stroke-width="0.8" stroke-dasharray="1,1"/>
<line x1="320.5" y1="232.76" x2="500" y2="232.76" stroke="#aaaaaa" stroke-width="0.8" stroke-dasharray="1,1"/>
<line x1="320.5" y1="231.09" x2="500" y2="231.09" stroke="#aaaaaa" stroke-width="0.8" stroke-dasharray="1,1"/>
<line x1="320.5" y1="229.68" x2="500" y2="229.68" stroke="#aaaaaa" stroke-width="0.8" stroke-dasharray="1,1"/>
<line x1="320.5" y1="228.46" x2="500" y2="228.46" stroke="#aaaaaa" stroke-width="0.8" stroke-dasharray="1,1"/>
<line x1="320.5" y1="227.38" x2="500" y2="227.38" stroke="#aaaaaa" stroke-width="0.8" stroke-dasharray="1,1"/>
<line x1="320.5" y1="220.08" x2="500" y2="220.08" stroke="#aaaaaa" stroke-width="0.8" stroke-dasharray="1,1"/>
<line x1="320.5" y1="216.37" x2="500" y2="216.37" stroke="#aaaaaa" stroke-width="0.8" stroke-dasharray="1,1"/>
<line x1="320.5" y1="213.73" x2="500" y2="213.73" stroke="#aaaaaa" stroke-width="0.8" stroke-dasharray="1,1"/>
<line x1="320.5" y1="211.69" x2="500" y2="211.69" stroke="#aaaaaa" stroke-width="0.8" stroke-dasharray="1,1"/>
<line x1="320.5" y1="210.02" x2="500" y2="210.02" stroke="#aaaaaa" stroke-width="0.8" stroke-dasharray="1,1"/>
<line x1="320.5" y1="208.61" x2="500" y2="208.61" stroke="#aaaaaa" stroke-width="0.8" stroke-dasharray="1,1"/>
<line x1="320.5" y1="207.39" x2="500" y2="207.39" stroke="#aaaaaa" stroke-width="0.8" stroke-dasharray="1,1"/>
<line x1="320.5" y1="206.31" x2="500" y2="206.31" stroke="#aaaaaa" stroke-width="0.8" stroke-dasharray="1,1"/>
<line x1="320.5" y1="199.01" x2="500" y2="199.01" stroke="#aaaaaa" stroke-width="0.8" stroke-dasharray="1,1"/>
<line x1="320.5" y1="195.3" x2="500" y2="195.3" stroke="#aaaaaa" stroke-width="0.8" stroke-dasharray="1,1"/>
<line x1="320.5" y1="192.66" x2="500" y2="192.66" stroke="#aaaaaa" stroke-width="0.8" stroke-dasharray="1,1"/>
<line x1="320.5" y1="190.62" x2="500" y2="190.62" stroke="#aaaaaa" stroke-width="0.8" stroke-dasharray="1,1"/>
<line x1="320.5" y1="188.95" x2="500" y2="188.95" stroke="#aaaaaa" stroke-width="0.8" stroke-dasharray="1,1"/>
<line x1="320.5" y1="187.54" x2="500" y2="187.54" stroke="#aaaaaa" stroke-width="0.8" stroke-dasharray="1,1"/>
<line x1="320.5" y1="186.32" x2="500" y2="186.32" stroke="#aaaaaa" stroke-width="0.8" stroke-dasharray="1,1"/>
<line x1="320.5" y1="185.24" x2="500" y2="185.24" stroke="#aaaaaa" stroke-width="0.8" stroke-dasharray="1,1"/>
<line x1="320.5" y1="177.94" x2="500" y2="177.94" stroke="#aaaaaa" stroke-width="0.8" stroke-dasharray="1,1"/>
<line x1="320.5" y1="174.23" x2="500" y2="174.23" stroke="#aaaaaa" stroke-width="0.8" stroke-dasharray="1,1"/>
<line x1="330.47" y1="173.5" x2="330.47" y2="310.7" stroke="#d8d8d8" stroke-width="0.6" stroke-dasharray="1,1.2"/>
<line x1="350.42" y1="173.5" x2="350.42" y2="310.7" stroke="#d8d8d8" stroke-width="0.6" stroke-dasharray="1,1.2"/>
<line x1="360.39" y1="173.5" x2="360.39" y2="310.7" stroke="#d8d8d8" stroke-width="0.6" stroke-dasharray="1,1.2"/>
<line x1="370.36" y1="173.5" x2="370.36" y2="310.7" stroke="#d8d8d8" stroke-width="0.6" stroke-dasharray="1,1.2"/>
<line x1="390.31" y1="173.5" x2="390.31" y2="310.7" stroke="#d8d8d8" stroke-width="0.6" stroke-dasharray="1,1.2"/>
<line x1="400.28" y1="173.5" x2="400.28" y2="310.7" stroke="#d8d8d8" stroke-width="0.6" stroke-dasharray="1,1.2"/>
<line x1="410.25" y1="173.5" x2="410.25" y2="310.7" stroke="#d8d8d8" stroke-width="0.6" stroke-dasharray="1,1.2"/>
<line x1="430.19" y1="173.5" x2="430.19" y2="310.7" stroke="#d8d8d8" stroke-width="0.6" stroke-dasharray="1,1.2"/>
<line x1="440.17" y1="173.5" x2="440.17" y2="310.7" stroke="#d8d8d8" stroke-width="0.6" stroke-dasharray="1,1.2"/>
<line x1="450.14" y1="173.5" x2="450.14" y2="310.7" stroke="#d8d8d8" stroke-width="0.6" stroke-dasharray="1,1.2"/>
<line x1="470.08" y1="173.5" x2="470.08" y2="310.7" stroke="#d8d8d8" stroke-width="0.6" stroke-dasharray="1,1.2"/>
<line x1="480.06" y1="173.5" x2="480.06" y2="310.7" stroke="#d8d8d8" stroke-width="0.6" stroke-dasharray="1,1.2"/>
<line x1="490.03" y1="173.5" x2="490.03" y2="310.7" stroke="#d8d8d8" stroke-width="0.6" stroke-dasharray="1,1.2"/>
<line x1="320.5" y1="310.7" x2="500" y2="310.7" stroke="#d0d0d0" stroke-width="0.8"/>
<line x1="320.5" y1="289.63" x2="500" y2="289.63" stroke="#d0d0d0" stroke-width="0.8"/>
<line x1="320.5" y1="268.56" x2="500" y2="268.56" stroke="#d0d0d0" stroke-width="0.8"/>
<line x1="320.5" y1="247.49" x2="500" y2="247.49" stroke="#d0d0d0" stroke-width="0.8"/>
<line x1="320.5" y1="226.42" x2="500" y2="226.42" stroke="#d0d0d0" stroke-width="0.8"/>
<line x1="320.5" y1="205.35" x2="500" y2="205.35" stroke="#d0d0d0" stroke-width="0.8"/>
<line x1="320.5" y1="184.28" x2="500" y2="184.28" stroke="#d0d0d0" stroke-width="0.8"/>
<line x1="340.44" y1="173.5" x2="340.44" y2="310.7" stroke="#d0d0d0" stroke-width="0.8"/>
<line x1="380.33" y1="173.5" x2="380.33" y2="310.7" stroke="#d0d0d0" stroke-width="0.8"/>
<line x1="420.22" y1="173.5" x2="420.22" y2="310.7" stroke="#d0d0d0" stroke-width="0.8"/>
<line x1="460.11" y1="173.5" x2="460.11" y2="310.7" stroke="#d0d0d0" stroke-width="0.8"/>
<path d="M320.6,173.6 L320.83,174.32 L321.13,175.26 L321.49,176.39 L321.92,177.73 L322.42,179.27 L323,181 L323.66,183.01 L324.39,185.31 L325.2,187.81 L326.07,190.4 L327.01,193 L328,195.5 L329.07,197.94 L330.24,200.41 L331.46,202.88 L332.72,205.32 L333.97,207.7 L335.2,210 L336.41,212.24 L337.62,214.47 L338.84,216.63 L340.04,218.7 L341.23,220.64 L342.4,222.4 L343.54,223.97 L344.65,225.38 L345.74,226.65 L346.83,227.82 L347.91,228.93 L349,230 L350.05,231.02 L351.06,231.96 L352.07,232.82 L353.11,233.64 L354.24,234.43 L355.5,235.2 L356.89,235.97 L358.39,236.73 L359.97,237.46 L361.61,238.13 L363.3,238.72 L365,239.2 L366.71,239.58 L368.44,239.87 L370.22,240.08 L372.06,240.22 L373.98,240.29 L376,240.3 L378,240.26 L379.93,240.15 L381.94,239.98 L384.19,239.74 L386.82,239.41 L390,239 L393.93,238.45 L398.52,237.76 L403.5,236.98 L408.59,236.19 L413.52,235.44 L418,234.8 L422.04,234.26 L425.85,233.78 L429.5,233.34 L433.04,232.93 L436.52,232.56 L440,232.2 L443.22,231.89 L446.07,231.63 L448.88,231.4 L451.93,231.17 L455.53,230.91 L460,230.6 L465.97,230.19 L473.33,229.71 L481.25,229.2 L488.89,228.71 L495.42,228.29 L500,228" fill="none" stroke="#8a1c24" stroke-width="1.25"/>
<g fill="#5e0c1c">
<rect x="336.05" y="210.3" width="1.9" height="1.9"/>
<rect x="337.42" y="215.48" width="1.9" height="1.9"/>
<rect x="338.9" y="218.23" width="1.9" height="1.9"/>
<rect x="340.6" y="222.02" width="1.9" height="1.9"/>
<rect x="341.8" y="224.54" width="1.9" height="1.9"/>
<rect x="342.74" y="224.89" width="1.9" height="1.9"/>
<rect x="344.61" y="224.15" width="1.9" height="1.9"/>
<rect x="345.52" y="224.55" width="1.9" height="1.9"/>
<rect x="346.48" y="230.72" width="1.9" height="1.9"/>
<rect x="347.84" y="225.8" width="1.9" height="1.9"/>
<rect x="349.38" y="231.52" width="1.9" height="1.9"/>
<rect x="350.95" y="230.4" width="1.9" height="1.9"/>
<rect x="352.84" y="233.53" width="1.9" height="1.9"/>
<rect x="354.45" y="233.7" width="1.9" height="1.9"/>
<rect x="355.42" y="235.86" width="1.9" height="1.9"/>
<rect x="356.72" y="236.37" width="1.9" height="1.9"/>
<rect x="358.47" y="237.07" width="1.9" height="1.9"/>
<rect x="359.84" y="240.45" width="1.9" height="1.9"/>
<rect x="361.14" y="239.49" width="1.9" height="1.9"/>
<rect x="362.31" y="238.81" width="1.9" height="1.9"/>
<rect x="363.54" y="240.9" width="1.9" height="1.9"/>
<rect x="364.68" y="237.75" width="1.9" height="1.9"/>
<rect x="365.64" y="238.91" width="1.9" height="1.9"/>
<rect x="366.99" y="237.82" width="1.9" height="1.9"/>
<rect x="368.62" y="240.72" width="1.9" height="1.9"/>
<rect x="369.94" y="240.97" width="1.9" height="1.9"/>
<rect x="371.11" y="242.28" width="1.9" height="1.9"/>
<rect x="372.9" y="238.78" width="1.9" height="1.9"/>
<rect x="374.19" y="240.83" width="1.9" height="1.9"/>
<rect x="376.08" y="237.4" width="1.9" height="1.9"/>
<rect x="377.24" y="239.51" width="1.9" height="1.9"/>
<rect x="378.21" y="237.74" width="1.9" height="1.9"/>
<rect x="379.7" y="239.24" width="1.9" height="1.9"/>
<rect x="381.05" y="241.33" width="1.9" height="1.9"/>
<rect x="382.43" y="235.83" width="1.9" height="1.9"/>
<rect x="383.49" y="237.22" width="1.9" height="1.9"/>
<rect x="385.21" y="238.55" width="1.9" height="1.9"/>
<rect x="387.05" y="239.41" width="1.9" height="1.9"/>
<rect x="388.9" y="239.78" width="1.9" height="1.9"/>
<rect x="389.9" y="239.24" width="1.9" height="1.9"/>
<rect x="391.51" y="237.41" width="1.9" height="1.9"/>
<rect x="393.23" y="236.3" width="1.9" height="1.9"/>
<rect x="394.85" y="236.41" width="1.9" height="1.9"/>
<rect x="395.98" y="233.95" width="1.9" height="1.9"/>
<rect x="397.16" y="235.66" width="1.9" height="1.9"/>
<rect x="398.26" y="238.04" width="1.9" height="1.9"/>
<rect x="399.22" y="236.69" width="1.9" height="1.9"/>
<rect x="400.49" y="235.54" width="1.9" height="1.9"/>
<rect x="402.28" y="235.68" width="1.9" height="1.9"/>
<rect x="403.84" y="235.02" width="1.9" height="1.9"/>
<rect x="404.77" y="238.84" width="1.9" height="1.9"/>
<rect x="406.64" y="230.97" width="1.9" height="1.9"/>
<rect x="408.27" y="233.67" width="1.9" height="1.9"/>
<rect x="410.17" y="236.76" width="1.9" height="1.9"/>
<rect x="411.97" y="235.56" width="1.9" height="1.9"/>
<rect x="413.57" y="235.36" width="1.9" height="1.9"/>
<rect x="415.16" y="230.48" width="1.9" height="1.9"/>
<rect x="416.93" y="231.26" width="1.9" height="1.9"/>
<rect x="418.4" y="235.17" width="1.9" height="1.9"/>
<rect x="419.68" y="231.48" width="1.9" height="1.9"/>
<rect x="421.22" y="232.14" width="1.9" height="1.9"/>
<rect x="423" y="232.84" width="1.9" height="1.9"/>
<rect x="424.48" y="231.21" width="1.9" height="1.9"/>
<rect x="426.22" y="238.46" width="1.9" height="1.9"/>
<rect x="427.72" y="231.27" width="1.9" height="1.9"/>
<rect x="429.12" y="232.47" width="1.9" height="1.9"/>
<rect x="430.94" y="232.11" width="1.9" height="1.9"/>
<rect x="432.52" y="232.19" width="1.9" height="1.9"/>
<rect x="433.59" y="233.89" width="1.9" height="1.9"/>
<rect x="435.38" y="230.23" width="1.9" height="1.9"/>
<rect x="436.94" y="232.04" width="1.9" height="1.9"/>
<rect x="438.76" y="232.99" width="1.9" height="1.9"/>
<rect x="440.04" y="229.87" width="1.9" height="1.9"/>
<rect x="441.44" y="230.28" width="1.9" height="1.9"/>
<rect x="443.19" y="229.85" width="1.9" height="1.9"/>
<rect x="444.26" y="226.72" width="1.9" height="1.9"/>
<rect x="445.43" y="231.05" width="1.9" height="1.9"/>
<rect x="446.83" y="232.25" width="1.9" height="1.9"/>
<rect x="448.57" y="232.26" width="1.9" height="1.9"/>
<rect x="449.5" y="230.12" width="1.9" height="1.9"/>
<rect x="450.44" y="229.69" width="1.9" height="1.9"/>
<rect x="452.13" y="230.9" width="1.9" height="1.9"/>
<rect x="453.06" y="231.48" width="1.9" height="1.9"/>
<rect x="454.19" y="230.32" width="1.9" height="1.9"/>
<rect x="455.54" y="230.3" width="1.9" height="1.9"/>
<rect x="457.09" y="231.3" width="1.9" height="1.9"/>
<rect x="458.19" y="225.7" width="1.9" height="1.9"/>
<rect x="459.27" y="231.55" width="1.9" height="1.9"/>
<rect x="460.35" y="229.69" width="1.9" height="1.9"/>
<rect x="461.6" y="228.81" width="1.9" height="1.9"/>
<rect x="463.25" y="227.42" width="1.9" height="1.9"/>
<rect x="464.95" y="229.85" width="1.9" height="1.9"/>
<rect x="466.57" y="228.74" width="1.9" height="1.9"/>
<rect x="467.92" y="226.43" width="1.9" height="1.9"/>
<rect x="469.39" y="226.31" width="1.9" height="1.9"/>
<rect x="471.09" y="230.63" width="1.9" height="1.9"/>
<rect x="472.19" y="228.12" width="1.9" height="1.9"/>
<rect x="473.91" y="226.96" width="1.9" height="1.9"/>
<rect x="475.71" y="226.45" width="1.9" height="1.9"/>
<rect x="477.59" y="225.5" width="1.9" height="1.9"/>
<rect x="479.4" y="227.62" width="1.9" height="1.9"/>
<rect x="480.65" y="229.82" width="1.9" height="1.9"/>
<rect x="482.31" y="229.03" width="1.9" height="1.9"/>
<rect x="483.24" y="228.29" width="1.9" height="1.9"/>
<rect x="484.32" y="227.42" width="1.9" height="1.9"/>
<rect x="486" y="228.5" width="1.9" height="1.9"/>
<rect x="487.63" y="228.53" width="1.9" height="1.9"/>
<rect x="489.22" y="229.55" width="1.9" height="1.9"/>
<rect x="490.2" y="226.95" width="1.9" height="1.9"/>
<rect x="491.63" y="226.84" width="1.9" height="1.9"/>
<rect x="493.05" y="230.09" width="1.9" height="1.9"/>
<rect x="494.51" y="226.71" width="1.9" height="1.9"/>
<rect x="496.31" y="228.77" width="1.9" height="1.9"/>
<rect x="498.06" y="229.14" width="1.9" height="1.9"/>
</g>
<path d="M320.5,178 L320.98,179.87 L321.65,182.48 L322.44,185.56 L323.3,188.85 L324.17,192.09 L325,195 L325.81,197.66 L326.65,200.3 L327.5,202.88 L328.35,205.37 L329.19,207.75 L330,210 L330.76,212.04 L331.46,213.89 L332.16,215.62 L332.87,217.33 L333.64,219.1 L334.5,221 L335.47,223.09 L336.54,225.31 L337.66,227.59 L338.8,229.85 L339.92,232.01 L341,234 L342.03,235.83 L343.03,237.56 L344.02,239.19 L345,240.72 L345.99,242.16 L347,243.5 L347.99,244.73 L348.96,245.86 L349.92,246.89 L350.93,247.83 L352.01,248.7 L353.2,249.5 L354.53,250.24 L355.97,250.89 L357.49,251.47 L359.03,251.99 L360.55,252.43 L362,252.8 L363.24,253.1 L364.28,253.32 L365.3,253.48 L366.47,253.57 L367.98,253.61 L370,253.6 L372.55,253.55 L375.48,253.46 L378.75,253.31 L382.3,253.1 L386.06,252.83 L390,252.5 L394.04,252.09 L398.22,251.61 L402.62,251.08 L407.33,250.49 L412.43,249.86 L418,249.2 L424.21,248.49 L431.04,247.71 L438.25,246.89 L445.63,246.07 L452.95,245.26 L460,244.5 L467.25,243.75 L474.96,242.97 L482.62,242.21 L489.7,241.51 L495.67,240.93 L500,240.5" fill="none" stroke="#f28c3c" stroke-width="1.25"/>
<g fill="#f28c3c">
<rect x="339.05" y="230.8" width="1.9" height="1.9"/>
<rect x="340.45" y="233.45" width="1.9" height="1.9"/>
<rect x="341.87" y="236" width="1.9" height="1.9"/>
<rect x="343.57" y="237.2" width="1.9" height="1.9"/>
<rect x="344.54" y="239.71" width="1.9" height="1.9"/>
<rect x="345.85" y="246" width="1.9" height="1.9"/>
<rect x="347.22" y="242.96" width="1.9" height="1.9"/>
<rect x="348.56" y="246.96" width="1.9" height="1.9"/>
<rect x="349.77" y="243.34" width="1.9" height="1.9"/>
<rect x="351.29" y="248.7" width="1.9" height="1.9"/>
<rect x="352.21" y="248.12" width="1.9" height="1.9"/>
<rect x="353.34" y="248.58" width="1.9" height="1.9"/>
<rect x="354.86" y="248.49" width="1.9" height="1.9"/>
<rect x="356.49" y="251.96" width="1.9" height="1.9"/>
<rect x="357.59" y="252.29" width="1.9" height="1.9"/>
<rect x="358.93" y="250.03" width="1.9" height="1.9"/>
<rect x="359.99" y="252.81" width="1.9" height="1.9"/>
<rect x="361.52" y="250.62" width="1.9" height="1.9"/>
<rect x="363.03" y="250.71" width="1.9" height="1.9"/>
<rect x="364.16" y="252.32" width="1.9" height="1.9"/>
<rect x="365.38" y="249.51" width="1.9" height="1.9"/>
<rect x="367.2" y="253.87" width="1.9" height="1.9"/>
<rect x="368.24" y="258.62" width="1.9" height="1.9"/>
<rect x="369.86" y="252.59" width="1.9" height="1.9"/>
<rect x="371.18" y="253.38" width="1.9" height="1.9"/>
<rect x="372.21" y="253.95" width="1.9" height="1.9"/>
<rect x="373.31" y="251" width="1.9" height="1.9"/>
<rect x="374.33" y="249.1" width="1.9" height="1.9"/>
<rect x="375.98" y="249.85" width="1.9" height="1.9"/>
<rect x="376.95" y="252.35" width="1.9" height="1.9"/>
<rect x="377.89" y="250.41" width="1.9" height="1.9"/>
<rect x="378.94" y="251.64" width="1.9" height="1.9"/>
<rect x="380.04" y="255.01" width="1.9" height="1.9"/>
<rect x="381.04" y="247.8" width="1.9" height="1.9"/>
<rect x="382.89" y="249.23" width="1.9" height="1.9"/>
<rect x="384.26" y="252.63" width="1.9" height="1.9"/>
<rect x="385.59" y="251.62" width="1.9" height="1.9"/>
<rect x="387.33" y="251.53" width="1.9" height="1.9"/>
<rect x="388.68" y="251.46" width="1.9" height="1.9"/>
<rect x="389.75" y="249.75" width="1.9" height="1.9"/>
<rect x="390.66" y="253.78" width="1.9" height="1.9"/>
<rect x="392.43" y="249.31" width="1.9" height="1.9"/>
<rect x="393.73" y="249.44" width="1.9" height="1.9"/>
<rect x="395.43" y="249.7" width="1.9" height="1.9"/>
<rect x="397.25" y="250.56" width="1.9" height="1.9"/>
<rect x="398.55" y="247.56" width="1.9" height="1.9"/>
<rect x="400.33" y="249.3" width="1.9" height="1.9"/>
<rect x="401.64" y="247.4" width="1.9" height="1.9"/>
<rect x="402.61" y="252.74" width="1.9" height="1.9"/>
<rect x="403.86" y="248.32" width="1.9" height="1.9"/>
<rect x="405.71" y="247.8" width="1.9" height="1.9"/>
<rect x="406.95" y="248.28" width="1.9" height="1.9"/>
<rect x="408.24" y="247.44" width="1.9" height="1.9"/>
<rect x="409.78" y="248.25" width="1.9" height="1.9"/>
<rect x="410.7" y="246.26" width="1.9" height="1.9"/>
<rect x="412.34" y="252.78" width="1.9" height="1.9"/>
<rect x="413.43" y="248.13" width="1.9" height="1.9"/>
<rect x="415.24" y="249.01" width="1.9" height="1.9"/>
<rect x="416.65" y="250.45" width="1.9" height="1.9"/>
<rect x="418.19" y="247.67" width="1.9" height="1.9"/>
<rect x="419.16" y="241.78" width="1.9" height="1.9"/>
<rect x="420.99" y="248.83" width="1.9" height="1.9"/>
<rect x="422.39" y="249.26" width="1.9" height="1.9"/>
<rect x="423.35" y="249.2" width="1.9" height="1.9"/>
<rect x="424.84" y="246.76" width="1.9" height="1.9"/>
<rect x="426.03" y="246" width="1.9" height="1.9"/>
<rect x="427.65" y="245.24" width="1.9" height="1.9"/>
<rect x="428.56" y="246.95" width="1.9" height="1.9"/>
<rect x="430.22" y="247.25" width="1.9" height="1.9"/>
<rect x="432.01" y="246.54" width="1.9" height="1.9"/>
<rect x="433.86" y="245.79" width="1.9" height="1.9"/>
<rect x="435.66" y="244.38" width="1.9" height="1.9"/>
<rect x="436.81" y="246.83" width="1.9" height="1.9"/>
<rect x="438.64" y="245.47" width="1.9" height="1.9"/>
<rect x="440.36" y="243.72" width="1.9" height="1.9"/>
<rect x="441.38" y="244.15" width="1.9" height="1.9"/>
<rect x="442.33" y="244.06" width="1.9" height="1.9"/>
<rect x="443.35" y="242.9" width="1.9" height="1.9"/>
<rect x="444.51" y="246.02" width="1.9" height="1.9"/>
<rect x="445.83" y="245.35" width="1.9" height="1.9"/>
<rect x="447.69" y="242.73" width="1.9" height="1.9"/>
<rect x="448.83" y="247.37" width="1.9" height="1.9"/>
<rect x="450.35" y="246.85" width="1.9" height="1.9"/>
<rect x="451.52" y="243.49" width="1.9" height="1.9"/>
<rect x="453.05" y="242.18" width="1.9" height="1.9"/>
<rect x="454.14" y="244.11" width="1.9" height="1.9"/>
<rect x="455.92" y="251.58" width="1.9" height="1.9"/>
<rect x="457.25" y="244.25" width="1.9" height="1.9"/>
<rect x="458.25" y="243" width="1.9" height="1.9"/>
<rect x="459.83" y="243.3" width="1.9" height="1.9"/>
<rect x="461.36" y="241.95" width="1.9" height="1.9"/>
<rect x="462.6" y="244.57" width="1.9" height="1.9"/>
<rect x="464.34" y="243.77" width="1.9" height="1.9"/>
<rect x="465.86" y="243.23" width="1.9" height="1.9"/>
<rect x="466.98" y="241.56" width="1.9" height="1.9"/>
<rect x="468.25" y="243.2" width="1.9" height="1.9"/>
<rect x="470.14" y="241.43" width="1.9" height="1.9"/>
<rect x="471.96" y="244.13" width="1.9" height="1.9"/>
<rect x="473.23" y="244.94" width="1.9" height="1.9"/>
<rect x="474.21" y="243.98" width="1.9" height="1.9"/>
<rect x="475.59" y="241.29" width="1.9" height="1.9"/>
<rect x="476.57" y="240.45" width="1.9" height="1.9"/>
<rect x="478.13" y="242.87" width="1.9" height="1.9"/>
<rect x="479.73" y="242.16" width="1.9" height="1.9"/>
<rect x="480.77" y="239.63" width="1.9" height="1.9"/>
<rect x="481.79" y="243.38" width="1.9" height="1.9"/>
<rect x="483.26" y="244.62" width="1.9" height="1.9"/>
<rect x="484.59" y="239" width="1.9" height="1.9"/>
<rect x="485.8" y="240.14" width="1.9" height="1.9"/>
<rect x="487.59" y="242.24" width="1.9" height="1.9"/>
<rect x="488.85" y="239.48" width="1.9" height="1.9"/>
<rect x="490.14" y="241.63" width="1.9" height="1.9"/>
<rect x="491.61" y="240.9" width="1.9" height="1.9"/>
<rect x="493.07" y="238.11" width="1.9" height="1.9"/>
<rect x="494.73" y="238.78" width="1.9" height="1.9"/>
<rect x="496.14" y="237.72" width="1.9" height="1.9"/>
<rect x="497.69" y="239.08" width="1.9" height="1.9"/>
</g>
<path d="M320.5,183 L320.79,184.67 L321.2,187 L321.68,189.75 L322.2,192.67 L322.72,195.5 L323.2,198 L323.63,200.16 L324.05,202.19 L324.46,204.12 L324.9,206.04 L325.37,207.98 L325.9,210 L326.48,212.09 L327.09,214.19 L327.74,216.31 L328.44,218.48 L329.19,220.71 L330,223 L330.87,225.41 L331.79,227.93 L332.76,230.5 L333.79,233.07 L334.87,235.59 L336,238 L337.23,240.35 L338.56,242.69 L339.94,244.97 L341.33,247.15 L342.67,249.17 L343.9,251 L345,252.59 L346,253.98 L346.94,255.22 L347.89,256.35 L348.89,257.43 L350,258.5 L351.21,259.57 L352.47,260.6 L353.79,261.58 L355.16,262.49 L356.56,263.3 L358,264 L359.33,264.59 L360.54,265.09 L361.79,265.49 L363.24,265.8 L365.05,266.04 L367.4,266.2 L370.34,266.28 L373.76,266.27 L377.54,266.19 L381.58,266.03 L385.77,265.79 L390,265.5 L394.19,265.14 L398.41,264.7 L402.79,264.19 L407.43,263.61 L412.46,262.98 L418,262.3 L424.21,261.53 L431.04,260.67 L438.25,259.75 L445.63,258.81 L452.95,257.88 L460,257 L467.25,256.12 L474.96,255.19 L482.62,254.27 L489.7,253.43 L495.67,252.72 L500,252.2" fill="none" stroke="#8ee23c" stroke-width="1.25"/>
<g fill="#8ee23c">
<rect x="339.05" y="241.24" width="1.9" height="1.9"/>
<rect x="340.03" y="244.78" width="1.9" height="1.9"/>
<rect x="341.83" y="250.47" width="1.9" height="1.9"/>
<rect x="343.48" y="252.04" width="1.9" height="1.9"/>
<rect x="344.62" y="252.97" width="1.9" height="1.9"/>
<rect x="346.29" y="257.46" width="1.9" height="1.9"/>
<rect x="347.52" y="258.52" width="1.9" height="1.9"/>
<rect x="348.96" y="256.96" width="1.9" height="1.9"/>
<rect x="350.57" y="260.38" width="1.9" height="1.9"/>
<rect x="352.14" y="259.22" width="1.9" height="1.9"/>
<rect x="353.84" y="263.08" width="1.9" height="1.9"/>
<rect x="355.38" y="259.13" width="1.9" height="1.9"/>
<rect x="356.99" y="263.6" width="1.9" height="1.9"/>
<rect x="358.04" y="261.8" width="1.9" height="1.9"/>
<rect x="359.93" y="263.51" width="1.9" height="1.9"/>
<rect x="361.26" y="265.35" width="1.9" height="1.9"/>
<rect x="363.12" y="266.32" width="1.9" height="1.9"/>
<rect x="364.67" y="265.66" width="1.9" height="1.9"/>
<rect x="365.75" y="266.94" width="1.9" height="1.9"/>
<rect x="367.56" y="267.98" width="1.9" height="1.9"/>
<rect x="368.68" y="266" width="1.9" height="1.9"/>
<rect x="370.3" y="264.33" width="1.9" height="1.9"/>
<rect x="371.48" y="264.65" width="1.9" height="1.9"/>
<rect x="373.13" y="264.51" width="1.9" height="1.9"/>
<rect x="374.51" y="267.27" width="1.9" height="1.9"/>
<rect x="376.3" y="266.58" width="1.9" height="1.9"/>
<rect x="378.16" y="264.38" width="1.9" height="1.9"/>
<rect x="379.28" y="269.06" width="1.9" height="1.9"/>
<rect x="380.56" y="266.35" width="1.9" height="1.9"/>
<rect x="381.98" y="264.21" width="1.9" height="1.9"/>
<rect x="383.12" y="266.25" width="1.9" height="1.9"/>
<rect x="384.81" y="265.13" width="1.9" height="1.9"/>
<rect x="386.32" y="265.29" width="1.9" height="1.9"/>
<rect x="387.48" y="265.49" width="1.9" height="1.9"/>
<rect x="388.9" y="261.06" width="1.9" height="1.9"/>
<rect x="390.33" y="260.37" width="1.9" height="1.9"/>
<rect x="392" y="267.45" width="1.9" height="1.9"/>
<rect x="393.72" y="264.16" width="1.9" height="1.9"/>
<rect x="394.89" y="263.85" width="1.9" height="1.9"/>
<rect x="396.26" y="263.12" width="1.9" height="1.9"/>
<rect x="397.75" y="264.62" width="1.9" height="1.9"/>
<rect x="399.07" y="262.43" width="1.9" height="1.9"/>
<rect x="400.06" y="263.98" width="1.9" height="1.9"/>
<rect x="401.48" y="262.25" width="1.9" height="1.9"/>
<rect x="403.21" y="262.52" width="1.9" height="1.9"/>
<rect x="404.42" y="264.28" width="1.9" height="1.9"/>
<rect x="406.04" y="261.07" width="1.9" height="1.9"/>
<rect x="407.33" y="264.56" width="1.9" height="1.9"/>
<rect x="409.2" y="258.4" width="1.9" height="1.9"/>
<rect x="410.47" y="261.85" width="1.9" height="1.9"/>
<rect x="411.83" y="267.94" width="1.9" height="1.9"/>
<rect x="412.94" y="261.7" width="1.9" height="1.9"/>
<rect x="414.13" y="260.2" width="1.9" height="1.9"/>
<rect x="415.37" y="263.05" width="1.9" height="1.9"/>
<rect x="416.93" y="261.32" width="1.9" height="1.9"/>
<rect x="418.16" y="262.35" width="1.9" height="1.9"/>
<rect x="419.62" y="260.78" width="1.9" height="1.9"/>
<rect x="420.62" y="259.4" width="1.9" height="1.9"/>
<rect x="421.61" y="259.62" width="1.9" height="1.9"/>
<rect x="422.91" y="258.23" width="1.9" height="1.9"/>
<rect x="424.41" y="261.47" width="1.9" height="1.9"/>
<rect x="425.43" y="260.96" width="1.9" height="1.9"/>
<rect x="426.4" y="261.76" width="1.9" height="1.9"/>
<rect x="427.95" y="259.13" width="1.9" height="1.9"/>
<rect x="429.67" y="258.62" width="1.9" height="1.9"/>
<rect x="430.59" y="260.66" width="1.9" height="1.9"/>
<rect x="432.19" y="262.44" width="1.9" height="1.9"/>
<rect x="433.7" y="257.14" width="1.9" height="1.9"/>
<rect x="435.25" y="260.42" width="1.9" height="1.9"/>
<rect x="436.52" y="255.91" width="1.9" height="1.9"/>
<rect x="438.04" y="258.53" width="1.9" height="1.9"/>
<rect x="439.7" y="260.25" width="1.9" height="1.9"/>
<rect x="441.1" y="257.09" width="1.9" height="1.9"/>
<rect x="442.72" y="260.15" width="1.9" height="1.9"/>
<rect x="444.45" y="257.72" width="1.9" height="1.9"/>
<rect x="446.3" y="256.86" width="1.9" height="1.9"/>
<rect x="447.44" y="256.7" width="1.9" height="1.9"/>
<rect x="449.04" y="255.44" width="1.9" height="1.9"/>
<rect x="450.4" y="260.57" width="1.9" height="1.9"/>
<rect x="452.27" y="259.32" width="1.9" height="1.9"/>
<rect x="453.74" y="259.48" width="1.9" height="1.9"/>
<rect x="454.9" y="261.02" width="1.9" height="1.9"/>
<rect x="456.4" y="253.53" width="1.9" height="1.9"/>
<rect x="458.13" y="255.3" width="1.9" height="1.9"/>
<rect x="459.6" y="259.5" width="1.9" height="1.9"/>
<rect x="460.68" y="254.73" width="1.9" height="1.9"/>
<rect x="461.77" y="259.73" width="1.9" height="1.9"/>
<rect x="462.97" y="255.24" width="1.9" height="1.9"/>
<rect x="464.61" y="253.7" width="1.9" height="1.9"/>
<rect x="465.53" y="256.8" width="1.9" height="1.9"/>
<rect x="466.89" y="256.14" width="1.9" height="1.9"/>
<rect x="467.97" y="256.28" width="1.9" height="1.9"/>
<rect x="469.13" y="253.43" width="1.9" height="1.9"/>
<rect x="470.07" y="254.08" width="1.9" height="1.9"/>
<rect x="471.11" y="256.81" width="1.9" height="1.9"/>
<rect x="472.43" y="253.84" width="1.9" height="1.9"/>
<rect x="474.02" y="254.38" width="1.9" height="1.9"/>
<rect x="475.91" y="251.17" width="1.9" height="1.9"/>
<rect x="477.67" y="252.27" width="1.9" height="1.9"/>
<rect x="479.47" y="254.56" width="1.9" height="1.9"/>
<rect x="480.9" y="250.06" width="1.9" height="1.9"/>
<rect x="481.85" y="254.82" width="1.9" height="1.9"/>
<rect x="483.65" y="252.82" width="1.9" height="1.9"/>
<rect x="484.85" y="250.66" width="1.9" height="1.9"/>
<rect x="485.82" y="254.14" width="1.9" height="1.9"/>
<rect x="487.12" y="252.32" width="1.9" height="1.9"/>
<rect x="488.26" y="250.58" width="1.9" height="1.9"/>
<rect x="489.56" y="252.44" width="1.9" height="1.9"/>
<rect x="491.42" y="252.8" width="1.9" height="1.9"/>
<rect x="493.19" y="249.24" width="1.9" height="1.9"/>
<rect x="494.84" y="253.21" width="1.9" height="1.9"/>
<rect x="496.64" y="253.99" width="1.9" height="1.9"/>
<rect x="498.08" y="253.12" width="1.9" height="1.9"/>
</g>
<path d="M320.5,187 L320.71,188.32 L321,190.15 L321.34,192.31 L321.72,194.63 L322.11,196.92 L322.5,199 L322.86,200.83 L323.2,202.56 L323.56,204.25 L323.96,206 L324.43,207.89 L325,210 L325.69,212.4 L326.48,215.04 L327.34,217.81 L328.24,220.63 L329.14,223.39 L330,226 L330.84,228.5 L331.69,230.96 L332.54,233.38 L333.39,235.7 L334.21,237.92 L335,240 L335.74,241.87 L336.43,243.54 L337.11,245.09 L337.79,246.63 L338.51,248.23 L339.3,250 L340.18,251.99 L341.12,254.15 L342.11,256.38 L343.1,258.57 L344.07,260.65 L345,262.5 L345.86,264.12 L346.68,265.59 L347.48,266.94 L348.29,268.19 L349.12,269.36 L350,270.5 L350.92,271.58 L351.85,272.58 L352.81,273.51 L353.81,274.39 L354.87,275.21 L356,276 L357.18,276.76 L358.41,277.49 L359.69,278.17 L361.04,278.79 L362.47,279.34 L364,279.8 L365.61,280.18 L367.3,280.47 L369.06,280.7 L370.93,280.86 L372.9,280.96 L375,281 L377.12,281 L379.22,280.96 L381.44,280.86 L383.89,280.68 L386.7,280.4 L390,280 L393.75,279.44 L397.85,278.73 L402.31,277.91 L407.15,277.05 L412.37,276.2 L418,275.4 L424.21,274.65 L431.04,273.91 L438.25,273.18 L445.63,272.45 L452.95,271.73 L460,271 L467.25,270.23 L474.96,269.4 L482.62,268.57 L489.7,267.81 L495.67,267.17 L500,266.7" fill="none" stroke="#3ab0e6" stroke-width="1.25"/>
<g fill="#3ab0e6">
<rect x="339.05" y="250.69" width="1.9" height="1.9"/>
<rect x="340.01" y="254.27" width="1.9" height="1.9"/>
<rect x="341.73" y="255.42" width="1.9" height="1.9"/>
<rect x="342.67" y="262.46" width="1.9" height="1.9"/>
<rect x="344.07" y="260.72" width="1.9" height="1.9"/>
<rect x="345.95" y="263.87" width="1.9" height="1.9"/>
<rect x="347.77" y="268.05" width="1.9" height="1.9"/>
<rect x="348.87" y="270.15" width="1.9" height="1.9"/>
<rect x="349.94" y="269.24" width="1.9" height="1.9"/>
<rect x="351.84" y="273.25" width="1.9" height="1.9"/>
<rect x="353.62" y="281.37" width="1.9" height="1.9"/>
<rect x="354.83" y="276.59" width="1.9" height="1.9"/>
<rect x="356.6" y="275.82" width="1.9" height="1.9"/>
<rect x="358.44" y="276.17" width="1.9" height="1.9"/>
<rect x="359.41" y="277.77" width="1.9" height="1.9"/>
<rect x="360.51" y="279.44" width="1.9" height="1.9"/>
<rect x="361.65" y="276.89" width="1.9" height="1.9"/>
<rect x="363.21" y="276.3" width="1.9" height="1.9"/>
<rect x="364.7" y="279.42" width="1.9" height="1.9"/>
<rect x="366.27" y="280.94" width="1.9" height="1.9"/>
<rect x="367.81" y="283.81" width="1.9" height="1.9"/>
<rect x="369.23" y="282.45" width="1.9" height="1.9"/>
<rect x="370.18" y="278.79" width="1.9" height="1.9"/>
<rect x="371.88" y="279.19" width="1.9" height="1.9"/>
<rect x="373.07" y="280.08" width="1.9" height="1.9"/>
<rect x="374.52" y="278.77" width="1.9" height="1.9"/>
<rect x="376.31" y="280.49" width="1.9" height="1.9"/>
<rect x="377.96" y="279.98" width="1.9" height="1.9"/>
<rect x="379.79" y="278.87" width="1.9" height="1.9"/>
<rect x="381.34" y="279.85" width="1.9" height="1.9"/>
<rect x="382.9" y="280.16" width="1.9" height="1.9"/>
<rect x="384.64" y="277.56" width="1.9" height="1.9"/>
<rect x="386.06" y="280.42" width="1.9" height="1.9"/>
<rect x="387.13" y="278.97" width="1.9" height="1.9"/>
<rect x="388.26" y="276.42" width="1.9" height="1.9"/>
<rect x="389.95" y="279.99" width="1.9" height="1.9"/>
<rect x="391.34" y="279.11" width="1.9" height="1.9"/>
<rect x="392.28" y="280.77" width="1.9" height="1.9"/>
<rect x="393.89" y="275.2" width="1.9" height="1.9"/>
<rect x="394.94" y="272.32" width="1.9" height="1.9"/>
<rect x="396.29" y="277.93" width="1.9" height="1.9"/>
<rect x="397.98" y="280.91" width="1.9" height="1.9"/>
<rect x="399.43" y="278.95" width="1.9" height="1.9"/>
<rect x="400.57" y="280.74" width="1.9" height="1.9"/>
<rect x="401.78" y="275.39" width="1.9" height="1.9"/>
<rect x="403.27" y="275.19" width="1.9" height="1.9"/>
<rect x="404.99" y="276.93" width="1.9" height="1.9"/>
<rect x="406.58" y="277.19" width="1.9" height="1.9"/>
<rect x="408.27" y="277.38" width="1.9" height="1.9"/>
<rect x="409.38" y="276.24" width="1.9" height="1.9"/>
<rect x="410.33" y="272.56" width="1.9" height="1.9"/>
<rect x="411.37" y="275.44" width="1.9" height="1.9"/>
<rect x="413.01" y="276.24" width="1.9" height="1.9"/>
<rect x="414.06" y="275.18" width="1.9" height="1.9"/>
<rect x="415.25" y="274.83" width="1.9" height="1.9"/>
<rect x="417.15" y="274.67" width="1.9" height="1.9"/>
<rect x="418.3" y="271.54" width="1.9" height="1.9"/>
<rect x="419.45" y="270.33" width="1.9" height="1.9"/>
<rect x="420.68" y="274.96" width="1.9" height="1.9"/>
<rect x="422.19" y="275.51" width="1.9" height="1.9"/>
<rect x="423.15" y="274.14" width="1.9" height="1.9"/>
<rect x="424.75" y="275.04" width="1.9" height="1.9"/>
<rect x="426.11" y="271.69" width="1.9" height="1.9"/>
<rect x="427.85" y="271.03" width="1.9" height="1.9"/>
<rect x="429.1" y="275.09" width="1.9" height="1.9"/>
<rect x="430.55" y="273.51" width="1.9" height="1.9"/>
<rect x="431.92" y="273.76" width="1.9" height="1.9"/>
<rect x="433.26" y="275.2" width="1.9" height="1.9"/>
<rect x="434.37" y="272.42" width="1.9" height="1.9"/>
<rect x="435.34" y="271.85" width="1.9" height="1.9"/>
<rect x="436.26" y="270.83" width="1.9" height="1.9"/>
<rect x="437.42" y="269.2" width="1.9" height="1.9"/>
<rect x="438.59" y="274.51" width="1.9" height="1.9"/>
<rect x="439.64" y="273.48" width="1.9" height="1.9"/>
<rect x="441.27" y="271.22" width="1.9" height="1.9"/>
<rect x="442.19" y="271.02" width="1.9" height="1.9"/>
<rect x="443.97" y="273.08" width="1.9" height="1.9"/>
<rect x="445.64" y="270.84" width="1.9" height="1.9"/>
<rect x="446.78" y="274.36" width="1.9" height="1.9"/>
<rect x="447.71" y="273.06" width="1.9" height="1.9"/>
<rect x="449.04" y="270.19" width="1.9" height="1.9"/>
<rect x="450.2" y="270.7" width="1.9" height="1.9"/>
<rect x="451.76" y="271.49" width="1.9" height="1.9"/>
<rect x="453.37" y="271.55" width="1.9" height="1.9"/>
<rect x="454.66" y="271.31" width="1.9" height="1.9"/>
<rect x="455.91" y="269.47" width="1.9" height="1.9"/>
<rect x="456.85" y="272.65" width="1.9" height="1.9"/>
<rect x="458.56" y="270.47" width="1.9" height="1.9"/>
<rect x="459.75" y="268.15" width="1.9" height="1.9"/>
<rect x="461.34" y="266.46" width="1.9" height="1.9"/>
<rect x="463.2" y="270.45" width="1.9" height="1.9"/>
<rect x="464.19" y="268.59" width="1.9" height="1.9"/>
<rect x="465.48" y="270.92" width="1.9" height="1.9"/>
<rect x="466.88" y="269.83" width="1.9" height="1.9"/>
<rect x="467.94" y="267.52" width="1.9" height="1.9"/>
<rect x="469.5" y="270.04" width="1.9" height="1.9"/>
<rect x="470.49" y="267.86" width="1.9" height="1.9"/>
<rect x="471.98" y="270.16" width="1.9" height="1.9"/>
<rect x="473.43" y="268.4" width="1.9" height="1.9"/>
<rect x="474.69" y="268.03" width="1.9" height="1.9"/>
<rect x="476" y="270.11" width="1.9" height="1.9"/>
<rect x="477.37" y="268.76" width="1.9" height="1.9"/>
<rect x="478.52" y="269.52" width="1.9" height="1.9"/>
<rect x="479.99" y="268.04" width="1.9" height="1.9"/>
<rect x="481.55" y="268.39" width="1.9" height="1.9"/>
<rect x="483.41" y="269.2" width="1.9" height="1.9"/>
<rect x="484.89" y="270.01" width="1.9" height="1.9"/>
<rect x="486.41" y="266.08" width="1.9" height="1.9"/>
<rect x="487.72" y="266.45" width="1.9" height="1.9"/>
<rect x="489" y="269.99" width="1.9" height="1.9"/>
<rect x="489.94" y="268.06" width="1.9" height="1.9"/>
<rect x="491.2" y="268.12" width="1.9" height="1.9"/>
<rect x="492.25" y="266.92" width="1.9" height="1.9"/>
<rect x="493.39" y="263.65" width="1.9" height="1.9"/>
<rect x="494.53" y="265.78" width="1.9" height="1.9"/>
<rect x="496.08" y="263.8" width="1.9" height="1.9"/>
<rect x="497.81" y="265.18" width="1.9" height="1.9"/>
</g>
<path d="M320.5,192 L320.68,192.98 L320.93,194.33 L321.23,195.94 L321.56,197.67 L321.89,199.4 L322.2,201 L322.48,202.44 L322.74,203.81 L323.01,205.19 L323.31,206.63 L323.67,208.21 L324.1,210 L324.63,212.04 L325.25,214.3 L325.92,216.69 L326.62,219.15 L327.32,221.61 L328,224 L328.67,226.38 L329.36,228.81 L330.04,231.25 L330.72,233.63 L331.38,235.9 L332,238 L332.58,239.9 L333.12,241.63 L333.64,243.25 L334.16,244.81 L334.67,246.38 L335.2,248 L335.73,249.66 L336.25,251.3 L336.77,252.94 L337.31,254.59 L337.88,256.28 L338.5,258 L339.17,259.79 L339.89,261.65 L340.64,263.53 L341.42,265.41 L342.21,267.24 L343,269 L343.79,270.69 L344.57,272.33 L345.37,273.93 L346.2,275.49 L347.07,277.02 L348,278.5 L349,279.97 L350.05,281.43 L351.15,282.86 L352.28,284.21 L353.44,285.47 L354.6,286.6 L355.78,287.59 L356.99,288.47 L358.21,289.24 L359.46,289.94 L360.72,290.59 L362,291.2 L363.29,291.77 L364.59,292.28 L365.9,292.74 L367.24,293.14 L368.6,293.49 L370,293.8 L371.36,294.06 L372.67,294.26 L374,294.41 L375.44,294.52 L377.08,294.58 L379,294.6 L381.18,294.6 L383.56,294.58 L386.12,294.51 L388.89,294.38 L391.85,294.15 L395,293.8 L398.21,293.29 L401.44,292.64 L404.88,291.9 L408.67,291.11 L412.99,290.33 L418,289.6 L423.92,288.92 L430.67,288.25 L437.94,287.59 L445.44,286.93 L452.9,286.26 L460,285.6 L467.25,284.89 L474.96,284.12 L482.62,283.35 L489.7,282.64 L495.67,282.04 L500,281.6" fill="none" stroke="#3a2452" stroke-width="1.25"/>
<g fill="#24133a">
<rect x="339.05" y="258.94" width="1.9" height="1.9"/>
<rect x="340.67" y="267.83" width="1.9" height="1.9"/>
<rect x="342.25" y="271.57" width="1.9" height="1.9"/>
<rect x="343.77" y="270.98" width="1.9" height="1.9"/>
<rect x="345.24" y="273.58" width="1.9" height="1.9"/>
<rect x="346.67" y="277.97" width="1.9" height="1.9"/>
<rect x="347.82" y="278.2" width="1.9" height="1.9"/>
<rect x="348.85" y="281.08" width="1.9" height="1.9"/>
<rect x="349.82" y="283.53" width="1.9" height="1.9"/>
<rect x="351.17" y="284.66" width="1.9" height="1.9"/>
<rect x="352.55" y="286.36" width="1.9" height="1.9"/>
<rect x="353.5" y="288.41" width="1.9" height="1.9"/>
<rect x="354.91" y="287.19" width="1.9" height="1.9"/>
<rect x="356.06" y="285.91" width="1.9" height="1.9"/>
<rect x="357.29" y="286.87" width="1.9" height="1.9"/>
<rect x="359.02" y="291.73" width="1.9" height="1.9"/>
<rect x="360.34" y="289.27" width="1.9" height="1.9"/>
<rect x="362.04" y="288.4" width="1.9" height="1.9"/>
<rect x="363.32" y="290.61" width="1.9" height="1.9"/>
<rect x="364.23" y="290.46" width="1.9" height="1.9"/>
<rect x="366.07" y="293.02" width="1.9" height="1.9"/>
<rect x="367.39" y="292.31" width="1.9" height="1.9"/>
<rect x="368.69" y="292.55" width="1.9" height="1.9"/>
<rect x="370.3" y="293.45" width="1.9" height="1.9"/>
<rect x="371.93" y="293.67" width="1.9" height="1.9"/>
<rect x="372.95" y="293.26" width="1.9" height="1.9"/>
<rect x="374.33" y="293.9" width="1.9" height="1.9"/>
<rect x="375.54" y="294.62" width="1.9" height="1.9"/>
<rect x="376.83" y="290.55" width="1.9" height="1.9"/>
<rect x="378.5" y="295.33" width="1.9" height="1.9"/>
<rect x="379.95" y="293.45" width="1.9" height="1.9"/>
<rect x="380.99" y="294.01" width="1.9" height="1.9"/>
<rect x="382.14" y="294.35" width="1.9" height="1.9"/>
<rect x="383.16" y="293.46" width="1.9" height="1.9"/>
<rect x="384.21" y="293.89" width="1.9" height="1.9"/>
<rect x="385.38" y="293.83" width="1.9" height="1.9"/>
<rect x="386.54" y="303.2" width="1.9" height="1.9"/>
<rect x="387.75" y="294.85" width="1.9" height="1.9"/>
<rect x="388.83" y="287.57" width="1.9" height="1.9"/>
<rect x="390.6" y="293.83" width="1.9" height="1.9"/>
<rect x="391.92" y="289.92" width="1.9" height="1.9"/>
<rect x="393.37" y="291.61" width="1.9" height="1.9"/>
<rect x="395.2" y="290.69" width="1.9" height="1.9"/>
<rect x="397.1" y="289.35" width="1.9" height="1.9"/>
<rect x="398.17" y="294.27" width="1.9" height="1.9"/>
<rect x="399.15" y="292.71" width="1.9" height="1.9"/>
<rect x="400.8" y="295.34" width="1.9" height="1.9"/>
<rect x="401.91" y="291.63" width="1.9" height="1.9"/>
<rect x="403.62" y="290.95" width="1.9" height="1.9"/>
<rect x="405.26" y="288.2" width="1.9" height="1.9"/>
<rect x="406.93" y="292.14" width="1.9" height="1.9"/>
<rect x="407.93" y="291.76" width="1.9" height="1.9"/>
<rect x="409.08" y="289.39" width="1.9" height="1.9"/>
<rect x="410" y="288.67" width="1.9" height="1.9"/>
<rect x="411.27" y="288.95" width="1.9" height="1.9"/>
<rect x="412.98" y="287.64" width="1.9" height="1.9"/>
<rect x="414.16" y="290.89" width="1.9" height="1.9"/>
<rect x="415.38" y="290.17" width="1.9" height="1.9"/>
<rect x="416.49" y="289.59" width="1.9" height="1.9"/>
<rect x="417.94" y="288.1" width="1.9" height="1.9"/>
<rect x="418.98" y="287.47" width="1.9" height="1.9"/>
<rect x="420.31" y="290.28" width="1.9" height="1.9"/>
<rect x="421.53" y="288.26" width="1.9" height="1.9"/>
<rect x="423.39" y="288.91" width="1.9" height="1.9"/>
<rect x="425.04" y="291.13" width="1.9" height="1.9"/>
<rect x="426.93" y="283.63" width="1.9" height="1.9"/>
<rect x="428.24" y="289.3" width="1.9" height="1.9"/>
<rect x="429.31" y="286.97" width="1.9" height="1.9"/>
<rect x="430.54" y="289.76" width="1.9" height="1.9"/>
<rect x="431.79" y="288.07" width="1.9" height="1.9"/>
<rect x="433.07" y="286.93" width="1.9" height="1.9"/>
<rect x="434.18" y="284.25" width="1.9" height="1.9"/>
<rect x="435.71" y="284.38" width="1.9" height="1.9"/>
<rect x="437.18" y="289.06" width="1.9" height="1.9"/>
<rect x="438.53" y="288.63" width="1.9" height="1.9"/>
<rect x="439.85" y="285.46" width="1.9" height="1.9"/>
<rect x="441.33" y="287.07" width="1.9" height="1.9"/>
<rect x="442.26" y="284.88" width="1.9" height="1.9"/>
<rect x="443.75" y="284.71" width="1.9" height="1.9"/>
<rect x="444.81" y="280.71" width="1.9" height="1.9"/>
<rect x="446.02" y="286.89" width="1.9" height="1.9"/>
<rect x="447.91" y="282.88" width="1.9" height="1.9"/>
<rect x="449.8" y="287.48" width="1.9" height="1.9"/>
<rect x="450.93" y="286.73" width="1.9" height="1.9"/>
<rect x="452.66" y="283.17" width="1.9" height="1.9"/>
<rect x="454.07" y="285.74" width="1.9" height="1.9"/>
<rect x="455.68" y="284.94" width="1.9" height="1.9"/>
<rect x="457.39" y="282.78" width="1.9" height="1.9"/>
<rect x="458.49" y="285.3" width="1.9" height="1.9"/>
<rect x="460.03" y="286.49" width="1.9" height="1.9"/>
<rect x="461.42" y="285.38" width="1.9" height="1.9"/>
<rect x="463.12" y="286.04" width="1.9" height="1.9"/>
<rect x="464.93" y="281.77" width="1.9" height="1.9"/>
<rect x="465.98" y="284.82" width="1.9" height="1.9"/>
<rect x="467.23" y="285.97" width="1.9" height="1.9"/>
<rect x="468.31" y="281.32" width="1.9" height="1.9"/>
<rect x="470.06" y="280.85" width="1.9" height="1.9"/>
<rect x="471.94" y="280.92" width="1.9" height="1.9"/>
<rect x="473.47" y="285.18" width="1.9" height="1.9"/>
<rect x="475.04" y="281.15" width="1.9" height="1.9"/>
<rect x="475.96" y="282.18" width="1.9" height="1.9"/>
<rect x="477.14" y="284.11" width="1.9" height="1.9"/>
<rect x="478.73" y="283.07" width="1.9" height="1.9"/>
<rect x="480.1" y="283.37" width="1.9" height="1.9"/>
<rect x="481.11" y="284.63" width="1.9" height="1.9"/>
<rect x="482.21" y="281.5" width="1.9" height="1.9"/>
<rect x="483.8" y="282.05" width="1.9" height="1.9"/>
<rect x="485.11" y="280.45" width="1.9" height="1.9"/>
<rect x="486.64" y="279.1" width="1.9" height="1.9"/>
<rect x="488" y="283.2" width="1.9" height="1.9"/>
<rect x="489.84" y="280.07" width="1.9" height="1.9"/>
<rect x="491.32" y="283.61" width="1.9" height="1.9"/>
<rect x="493.09" y="280.49" width="1.9" height="1.9"/>
<rect x="494.45" y="284.36" width="1.9" height="1.9"/>
<rect x="495.73" y="280.89" width="1.9" height="1.9"/>
<rect x="496.7" y="278.58" width="1.9" height="1.9"/>
<rect x="497.88" y="276.83" width="1.9" height="1.9"/>
</g>
</g>
<polygon points="329.1,218.2 334.1,218.2 331.6,222.7" fill="#1c1c1c" stroke="#000" stroke-width="0.7"/>
<polygon points="329.1,229.2 334.1,229.2 331.6,233.7" fill="#1c1c1c" stroke="#000" stroke-width="0.7"/>
<polygon points="361.2,246.2 366.2,246.2 363.7,250.7" fill="#1c1c1c" stroke="#000" stroke-width="0.7"/>
<polygon points="361.2,266.2 366.2,266.2 363.7,270.7" fill="#1c1c1c" stroke="#000" stroke-width="0.7"/>
<polygon points="361.2,281.4 366.2,281.4 363.7,285.9" fill="#1c1c1c" stroke="#000" stroke-width="0.7"/>
<polygon points="497,239 502,239 499.5,243.5" fill="#1c1c1c" stroke="#000" stroke-width="0.7"/>
<polygon points="497,251.6 502,251.6 499.5,256.1" fill="#1c1c1c" stroke="#000" stroke-width="0.7"/>
<polygon points="497,259.7 502,259.7 499.5,264.2" fill="#1c1c1c" stroke="#000" stroke-width="0.7"/>
<rect x="320.5" y="173.5" width="179.5" height="137.2" fill="none" stroke="#262626" stroke-width="1"/>
<line x1="320.5" y1="310.7" x2="322.7" y2="310.7" stroke="#262626" stroke-width="0.7"/>
<line x1="500" y1="310.7" x2="497.8" y2="310.7" stroke="#262626" stroke-width="0.7"/>
<line x1="320.5" y1="304.36" x2="321.8" y2="304.36" stroke="#262626" stroke-width="0.7"/>
<line x1="500" y1="304.36" x2="498.7" y2="304.36" stroke="#262626" stroke-width="0.7"/>
<line x1="320.5" y1="300.65" x2="321.8" y2="300.65" stroke="#262626" stroke-width="0.7"/>
<line x1="500" y1="300.65" x2="498.7" y2="300.65" stroke="#262626" stroke-width="0.7"/>
<line x1="320.5" y1="298.01" x2="321.8" y2="298.01" stroke="#262626" stroke-width="0.7"/>
<line x1="500" y1="298.01" x2="498.7" y2="298.01" stroke="#262626" stroke-width="0.7"/>
<line x1="320.5" y1="295.97" x2="321.8" y2="295.97" stroke="#262626" stroke-width="0.7"/>
<line x1="500" y1="295.97" x2="498.7" y2="295.97" stroke="#262626" stroke-width="0.7"/>
<line x1="320.5" y1="294.3" x2="321.8" y2="294.3" stroke="#262626" stroke-width="0.7"/>
<line x1="500" y1="294.3" x2="498.7" y2="294.3" stroke="#262626" stroke-width="0.7"/>
<line x1="320.5" y1="292.89" x2="321.8" y2="292.89" stroke="#262626" stroke-width="0.7"/>
<line x1="500" y1="292.89" x2="498.7" y2="292.89" stroke="#262626" stroke-width="0.7"/>
<line x1="320.5" y1="291.67" x2="321.8" y2="291.67" stroke="#262626" stroke-width="0.7"/>
<line x1="500" y1="291.67" x2="498.7" y2="291.67" stroke="#262626" stroke-width="0.7"/>
<line x1="320.5" y1="290.59" x2="321.8" y2="290.59" stroke="#262626" stroke-width="0.7"/>
<line x1="500" y1="290.59" x2="498.7" y2="290.59" stroke="#262626" stroke-width="0.7"/>
<line x1="320.5" y1="289.63" x2="322.7" y2="289.63" stroke="#262626" stroke-width="0.7"/>
<line x1="500" y1="289.63" x2="497.8" y2="289.63" stroke="#262626" stroke-width="0.7"/>
<line x1="320.5" y1="283.29" x2="321.8" y2="283.29" stroke="#262626" stroke-width="0.7"/>
<line x1="500" y1="283.29" x2="498.7" y2="283.29" stroke="#262626" stroke-width="0.7"/>
<line x1="320.5" y1="279.58" x2="321.8" y2="279.58" stroke="#262626" stroke-width="0.7"/>
<line x1="500" y1="279.58" x2="498.7" y2="279.58" stroke="#262626" stroke-width="0.7"/>
<line x1="320.5" y1="276.94" x2="321.8" y2="276.94" stroke="#262626" stroke-width="0.7"/>
<line x1="500" y1="276.94" x2="498.7" y2="276.94" stroke="#262626" stroke-width="0.7"/>
<line x1="320.5" y1="274.9" x2="321.8" y2="274.9" stroke="#262626" stroke-width="0.7"/>
<line x1="500" y1="274.9" x2="498.7" y2="274.9" stroke="#262626" stroke-width="0.7"/>
<line x1="320.5" y1="273.23" x2="321.8" y2="273.23" stroke="#262626" stroke-width="0.7"/>
<line x1="500" y1="273.23" x2="498.7" y2="273.23" stroke="#262626" stroke-width="0.7"/>
<line x1="320.5" y1="271.82" x2="321.8" y2="271.82" stroke="#262626" stroke-width="0.7"/>
<line x1="500" y1="271.82" x2="498.7" y2="271.82" stroke="#262626" stroke-width="0.7"/>
<line x1="320.5" y1="270.6" x2="321.8" y2="270.6" stroke="#262626" stroke-width="0.7"/>
<line x1="500" y1="270.6" x2="498.7" y2="270.6" stroke="#262626" stroke-width="0.7"/>
<line x1="320.5" y1="269.52" x2="321.8" y2="269.52" stroke="#262626" stroke-width="0.7"/>
<line x1="500" y1="269.52" x2="498.7" y2="269.52" stroke="#262626" stroke-width="0.7"/>
<line x1="320.5" y1="268.56" x2="322.7" y2="268.56" stroke="#262626" stroke-width="0.7"/>
<line x1="500" y1="268.56" x2="497.8" y2="268.56" stroke="#262626" stroke-width="0.7"/>
<line x1="320.5" y1="262.22" x2="321.8" y2="262.22" stroke="#262626" stroke-width="0.7"/>
<line x1="500" y1="262.22" x2="498.7" y2="262.22" stroke="#262626" stroke-width="0.7"/>
<line x1="320.5" y1="258.51" x2="321.8" y2="258.51" stroke="#262626" stroke-width="0.7"/>
<line x1="500" y1="258.51" x2="498.7" y2="258.51" stroke="#262626" stroke-width="0.7"/>
<line x1="320.5" y1="255.87" x2="321.8" y2="255.87" stroke="#262626" stroke-width="0.7"/>
<line x1="500" y1="255.87" x2="498.7" y2="255.87" stroke="#262626" stroke-width="0.7"/>
<line x1="320.5" y1="253.83" x2="321.8" y2="253.83" stroke="#262626" stroke-width="0.7"/>
<line x1="500" y1="253.83" x2="498.7" y2="253.83" stroke="#262626" stroke-width="0.7"/>
<line x1="320.5" y1="252.16" x2="321.8" y2="252.16" stroke="#262626" stroke-width="0.7"/>
<line x1="500" y1="252.16" x2="498.7" y2="252.16" stroke="#262626" stroke-width="0.7"/>
<line x1="320.5" y1="250.75" x2="321.8" y2="250.75" stroke="#262626" stroke-width="0.7"/>
<line x1="500" y1="250.75" x2="498.7" y2="250.75" stroke="#262626" stroke-width="0.7"/>
<line x1="320.5" y1="249.53" x2="321.8" y2="249.53" stroke="#262626" stroke-width="0.7"/>
<line x1="500" y1="249.53" x2="498.7" y2="249.53" stroke="#262626" stroke-width="0.7"/>
<line x1="320.5" y1="248.45" x2="321.8" y2="248.45" stroke="#262626" stroke-width="0.7"/>
<line x1="500" y1="248.45" x2="498.7" y2="248.45" stroke="#262626" stroke-width="0.7"/>
<line x1="320.5" y1="247.49" x2="322.7" y2="247.49" stroke="#262626" stroke-width="0.7"/>
<line x1="500" y1="247.49" x2="497.8" y2="247.49" stroke="#262626" stroke-width="0.7"/>
<line x1="320.5" y1="241.15" x2="321.8" y2="241.15" stroke="#262626" stroke-width="0.7"/>
<line x1="500" y1="241.15" x2="498.7" y2="241.15" stroke="#262626" stroke-width="0.7"/>
<line x1="320.5" y1="237.44" x2="321.8" y2="237.44" stroke="#262626" stroke-width="0.7"/>
<line x1="500" y1="237.44" x2="498.7" y2="237.44" stroke="#262626" stroke-width="0.7"/>
<line x1="320.5" y1="234.8" x2="321.8" y2="234.8" stroke="#262626" stroke-width="0.7"/>
<line x1="500" y1="234.8" x2="498.7" y2="234.8" stroke="#262626" stroke-width="0.7"/>
<line x1="320.5" y1="232.76" x2="321.8" y2="232.76" stroke="#262626" stroke-width="0.7"/>
<line x1="500" y1="232.76" x2="498.7" y2="232.76" stroke="#262626" stroke-width="0.7"/>
<line x1="320.5" y1="231.09" x2="321.8" y2="231.09" stroke="#262626" stroke-width="0.7"/>
<line x1="500" y1="231.09" x2="498.7" y2="231.09" stroke="#262626" stroke-width="0.7"/>
<line x1="320.5" y1="229.68" x2="321.8" y2="229.68" stroke="#262626" stroke-width="0.7"/>
<line x1="500" y1="229.68" x2="498.7" y2="229.68" stroke="#262626" stroke-width="0.7"/>
<line x1="320.5" y1="228.46" x2="321.8" y2="228.46" stroke="#262626" stroke-width="0.7"/>
<line x1="500" y1="228.46" x2="498.7" y2="228.46" stroke="#262626" stroke-width="0.7"/>
<line x1="320.5" y1="227.38" x2="321.8" y2="227.38" stroke="#262626" stroke-width="0.7"/>
<line x1="500" y1="227.38" x2="498.7" y2="227.38" stroke="#262626" stroke-width="0.7"/>
<line x1="320.5" y1="226.42" x2="322.7" y2="226.42" stroke="#262626" stroke-width="0.7"/>
<line x1="500" y1="226.42" x2="497.8" y2="226.42" stroke="#262626" stroke-width="0.7"/>
<line x1="320.5" y1="220.08" x2="321.8" y2="220.08" stroke="#262626" stroke-width="0.7"/>
<line x1="500" y1="220.08" x2="498.7" y2="220.08" stroke="#262626" stroke-width="0.7"/>
<line x1="320.5" y1="216.37" x2="321.8" y2="216.37" stroke="#262626" stroke-width="0.7"/>
<line x1="500" y1="216.37" x2="498.7" y2="216.37" stroke="#262626" stroke-width="0.7"/>
<line x1="320.5" y1="213.73" x2="321.8" y2="213.73" stroke="#262626" stroke-width="0.7"/>
<line x1="500" y1="213.73" x2="498.7" y2="213.73" stroke="#262626" stroke-width="0.7"/>
<line x1="320.5" y1="211.69" x2="321.8" y2="211.69" stroke="#262626" stroke-width="0.7"/>
<line x1="500" y1="211.69" x2="498.7" y2="211.69" stroke="#262626" stroke-width="0.7"/>
<line x1="320.5" y1="210.02" x2="321.8" y2="210.02" stroke="#262626" stroke-width="0.7"/>
<line x1="500" y1="210.02" x2="498.7" y2="210.02" stroke="#262626" stroke-width="0.7"/>
<line x1="320.5" y1="208.61" x2="321.8" y2="208.61" stroke="#262626" stroke-width="0.7"/>
<line x1="500" y1="208.61" x2="498.7" y2="208.61" stroke="#262626" stroke-width="0.7"/>
<line x1="320.5" y1="207.39" x2="321.8" y2="207.39" stroke="#262626" stroke-width="0.7"/>
<line x1="500" y1="207.39" x2="498.7" y2="207.39" stroke="#262626" stroke-width="0.7"/>
<line x1="320.5" y1="206.31" x2="321.8" y2="206.31" stroke="#262626" stroke-width="0.7"/>
<line x1="500" y1="206.31" x2="498.7" y2="206.31" stroke="#262626" stroke-width="0.7"/>
<line x1="320.5" y1="205.35" x2="322.7" y2="205.35" stroke="#262626" stroke-width="0.7"/>
<line x1="500" y1="205.35" x2="497.8" y2="205.35" stroke="#262626" stroke-width="0.7"/>
<line x1="320.5" y1="199.01" x2="321.8" y2="199.01" stroke="#262626" stroke-width="0.7"/>
<line x1="500" y1="199.01" x2="498.7" y2="199.01" stroke="#262626" stroke-width="0.7"/>
<line x1="320.5" y1="195.3" x2="321.8" y2="195.3" stroke="#262626" stroke-width="0.7"/>
<line x1="500" y1="195.3" x2="498.7" y2="195.3" stroke="#262626" stroke-width="0.7"/>
<line x1="320.5" y1="192.66" x2="321.8" y2="192.66" stroke="#262626" stroke-width="0.7"/>
<line x1="500" y1="192.66" x2="498.7" y2="192.66" stroke="#262626" stroke-width="0.7"/>
<line x1="320.5" y1="190.62" x2="321.8" y2="190.62" stroke="#262626" stroke-width="0.7"/>
<line x1="500" y1="190.62" x2="498.7" y2="190.62" stroke="#262626" stroke-width="0.7"/>
<line x1="320.5" y1="188.95" x2="321.8" y2="188.95" stroke="#262626" stroke-width="0.7"/>
<line x1="500" y1="188.95" x2="498.7" y2="188.95" stroke="#262626" stroke-width="0.7"/>
<line x1="320.5" y1="187.54" x2="321.8" y2="187.54" stroke="#262626" stroke-width="0.7"/>
<line x1="500" y1="187.54" x2="498.7" y2="187.54" stroke="#262626" stroke-width="0.7"/>
<line x1="320.5" y1="186.32" x2="321.8" y2="186.32" stroke="#262626" stroke-width="0.7"/>
<line x1="500" y1="186.32" x2="498.7" y2="186.32" stroke="#262626" stroke-width="0.7"/>
<line x1="320.5" y1="185.24" x2="321.8" y2="185.24" stroke="#262626" stroke-width="0.7"/>
<line x1="500" y1="185.24" x2="498.7" y2="185.24" stroke="#262626" stroke-width="0.7"/>
<line x1="320.5" y1="184.28" x2="322.7" y2="184.28" stroke="#262626" stroke-width="0.7"/>
<line x1="500" y1="184.28" x2="497.8" y2="184.28" stroke="#262626" stroke-width="0.7"/>
<line x1="320.5" y1="177.94" x2="321.8" y2="177.94" stroke="#262626" stroke-width="0.7"/>
<line x1="500" y1="177.94" x2="498.7" y2="177.94" stroke="#262626" stroke-width="0.7"/>
<line x1="320.5" y1="174.23" x2="321.8" y2="174.23" stroke="#262626" stroke-width="0.7"/>
<line x1="500" y1="174.23" x2="498.7" y2="174.23" stroke="#262626" stroke-width="0.7"/>
<line x1="340.44" y1="310.7" x2="340.44" y2="308.5" stroke="#262626" stroke-width="0.7"/>
<line x1="380.33" y1="310.7" x2="380.33" y2="308.5" stroke="#262626" stroke-width="0.7"/>
<line x1="420.22" y1="310.7" x2="420.22" y2="308.5" stroke="#262626" stroke-width="0.7"/>
<line x1="460.11" y1="310.7" x2="460.11" y2="308.5" stroke="#262626" stroke-width="0.7"/>
<line x1="500" y1="310.7" x2="500" y2="308.5" stroke="#262626" stroke-width="0.7"/>
<rect x="328.2" y="173.5" width="171.8" height="23.1" fill="#fff" stroke="#262626" stroke-width="1.1"/>
<line x1="331" y1="179.7" x2="347.6" y2="179.7" stroke="#3a2452" stroke-width="1.4" stroke-opacity="0.85"/>
<text transform="translate(348.9,182.5) scale(1.06,1)" font-size="8.3" fill="#1a1a1a">-6.5 dBm</text>
<line x1="331" y1="190.6" x2="347.6" y2="190.6" stroke="#3ab0e6" stroke-width="1.4" stroke-opacity="0.85"/>
<text transform="translate(348.9,193.3) scale(1.06,1)" font-size="8.3" fill="#1a1a1a">-7.0 dBm</text>
<line x1="389" y1="179.7" x2="405.2" y2="179.7" stroke="#8ee23c" stroke-width="1.4" stroke-opacity="0.85"/>
<text transform="translate(406.5,182.5) scale(1.06,1)" font-size="8.3" fill="#1a1a1a">-7.5 dBm</text>
<line x1="389" y1="190.6" x2="405.2" y2="190.6" stroke="#f28c3c" stroke-width="1.4" stroke-opacity="0.85"/>
<text transform="translate(406.5,193.3) scale(1.06,1)" font-size="8.3" fill="#1a1a1a">-8.0 dBm</text>
<line x1="445.3" y1="179.7" x2="461.4" y2="179.7" stroke="#8a1c24" stroke-width="1.4" stroke-opacity="0.85"/>
<text transform="translate(462.7,182.5) scale(1.06,1)" font-size="8.3" fill="#1a1a1a">-8.5 dBm</text>
<text x="316.3" y="189.48" font-size="9" text-anchor="end" fill="#3a3a3a">10<tspan font-size="6.2" dy="-4.7">-6</tspan></text>
<text x="316.3" y="231.62" font-size="9" text-anchor="end" fill="#3a3a3a">10<tspan font-size="6.2" dy="-4.7">-8</tspan></text>
<text x="316.3" y="273.76" font-size="9" text-anchor="end" fill="#3a3a3a">10<tspan font-size="6.2" dy="-4.7">-10</tspan></text>
<text x="316.3" y="315.9" font-size="9" text-anchor="end" fill="#3a3a3a">10<tspan font-size="6.2" dy="-4.7">-12</tspan></text>
<text x="340.44" y="323.6" font-size="8.8" font-weight="normal" text-anchor="middle" fill="#3a3a3a">20</text>
<text x="380.33" y="323.6" font-size="8.8" font-weight="normal" text-anchor="middle" fill="#3a3a3a">40</text>
<text x="420.22" y="323.6" font-size="8.8" font-weight="normal" text-anchor="middle" fill="#3a3a3a">60</text>
<text x="460.11" y="323.6" font-size="8.8" font-weight="normal" text-anchor="middle" fill="#3a3a3a">80</text>
<text x="500" y="323.6" font-size="8.8" font-weight="normal" text-anchor="middle" fill="#3a3a3a">100</text>
<text x="375.2" y="337.2" font-size="10.6" fill="#3a3a3a"><tspan font-family="'Liberation Serif', serif">Δ λ</tspan><tspan font-size="7.8" dy="3.5" letter-spacing="0.72">FWHM</tspan><tspan dy="-3.5" font-size="10.5"> [GHz]</tspan></text>
<text transform="translate(286.6,258) rotate(-90)" x="0" y="0" font-size="9.8" fill="#3a3a3a">BER<tspan font-size="7.4" dy="4.2">est</tspan></text>
</svg>
</body></html>
